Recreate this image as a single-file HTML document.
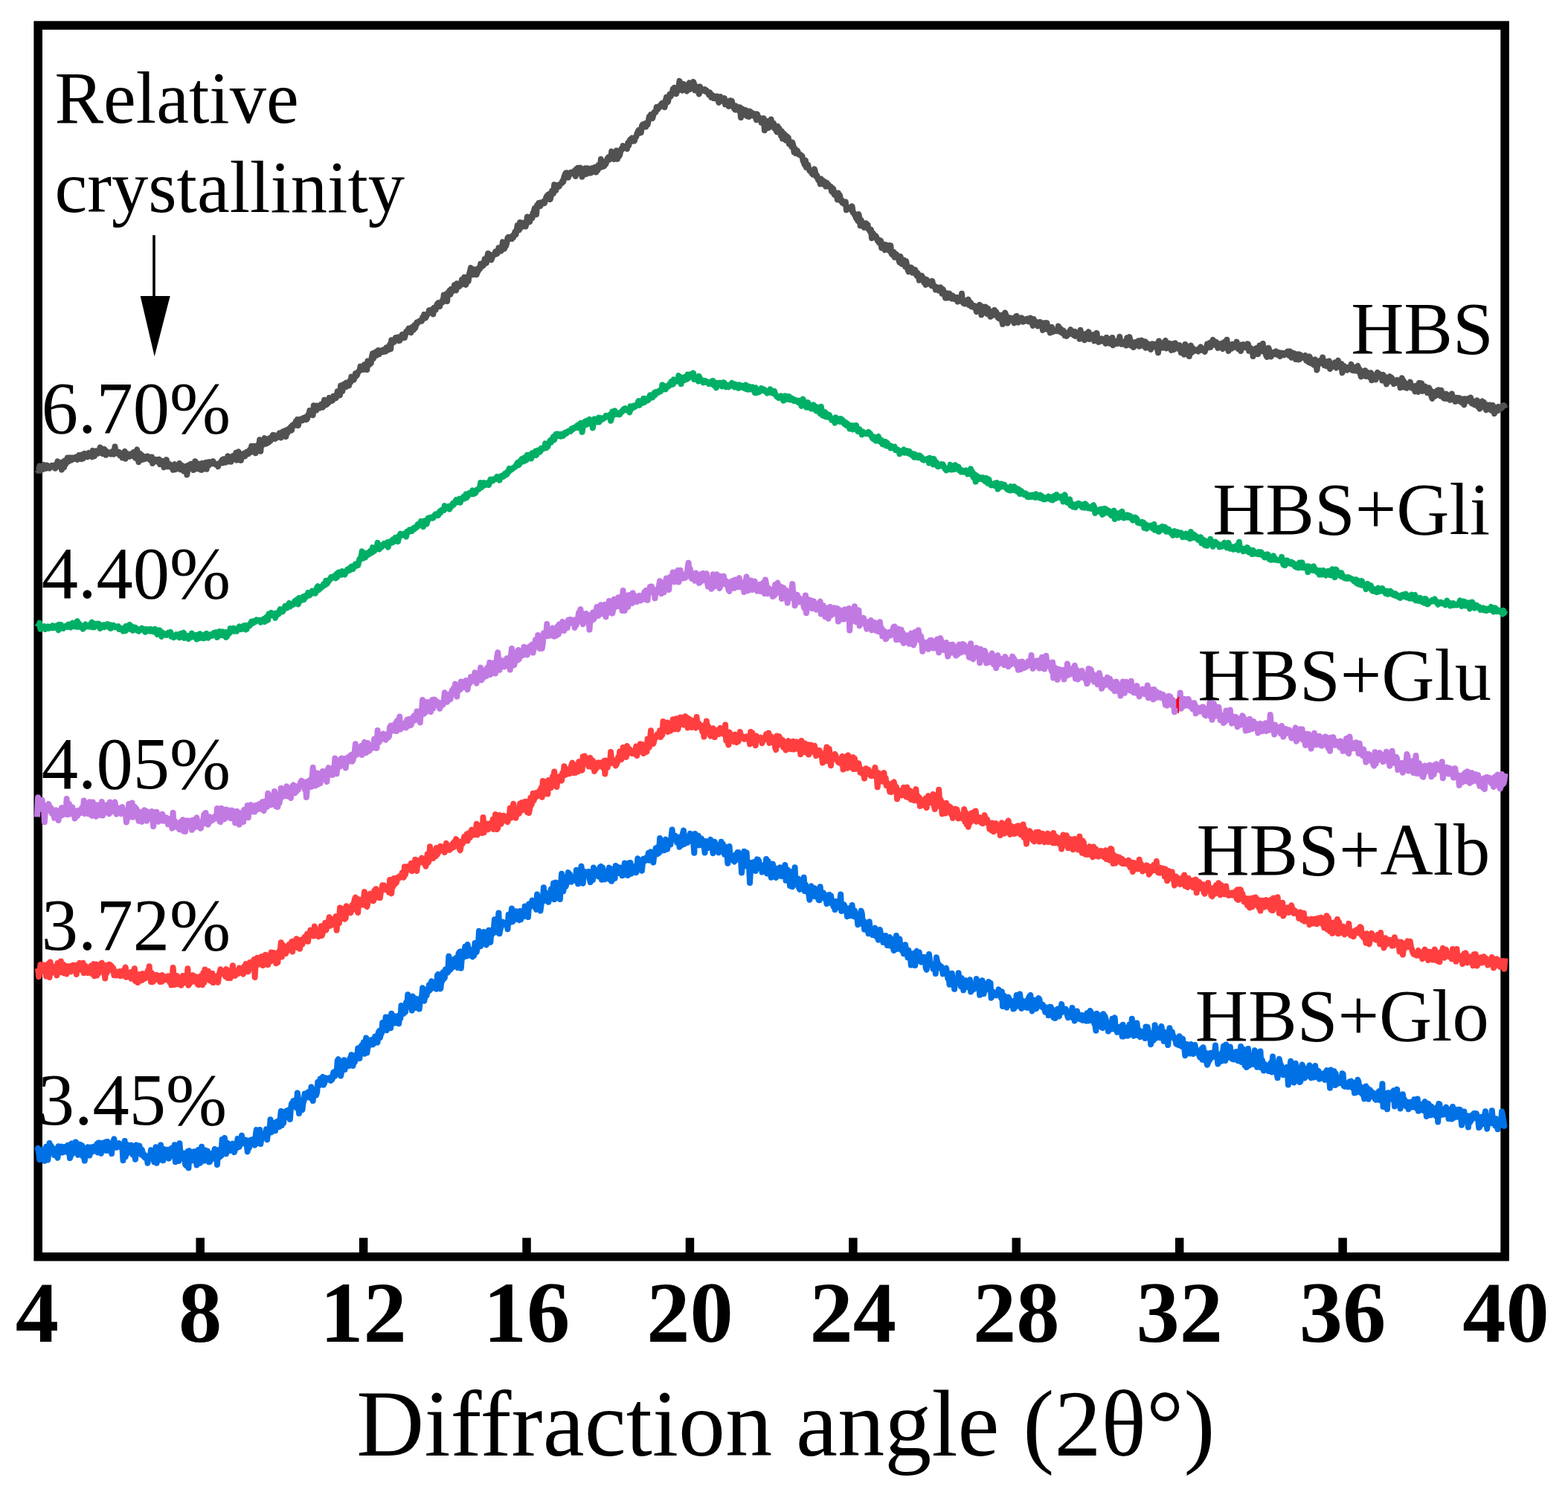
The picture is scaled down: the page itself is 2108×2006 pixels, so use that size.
<!DOCTYPE html>
<html><head><meta charset="utf-8"><title>XRD</title>
<style>
html,body{margin:0;padding:0;background:#fff;}
svg{display:block;}
text{font-family:"Liberation Serif","Times New Roman",serif;fill:#000;}
.lab{font-size:98.5px;}
.tk{font-size:116.5px;font-weight:bold;}
.ax{font-size:126px;letter-spacing:0.15px;}
</style></head><body>
<svg width="2108" height="2006" viewBox="0 0 2108 2006" xmlns="http://www.w3.org/2000/svg">
<rect width="2108" height="2006" fill="#fff"/>
<g class="lab">
<text x="73.4" y="164.5">Relative</text>
<text x="73.5" y="285">crystallinity</text>
<text x="55.7" y="582.4">6.70%</text>
<text x="55.7" y="803.8">4.40%</text>
<text x="55.7" y="1059.6">4.05%</text>
<text x="55.7" y="1277.4">3.72%</text>
<text x="50.7" y="1512.4">3.45%</text>
</g>
<rect x="205.2" y="316.2" width="3.6" height="84" fill="#000"/>
<polygon points="188.7,398 228.7,398 207.7,479.2" fill="#000"/>
<rect x="51.2" y="34.1" width="1971.9" height="1655.6" fill="none" stroke="#000" stroke-width="11.6"/>
<rect x="263.46" y="1664.3" width="11.5" height="25" fill="#000"/>
<rect x="482.87" y="1664.3" width="11.5" height="25" fill="#000"/>
<rect x="702.28" y="1664.3" width="11.5" height="25" fill="#000"/>
<rect x="921.69" y="1664.3" width="11.5" height="25" fill="#000"/>
<rect x="1141.11" y="1664.3" width="11.5" height="25" fill="#000"/>
<rect x="1360.52" y="1664.3" width="11.5" height="25" fill="#000"/>
<rect x="1579.93" y="1664.3" width="11.5" height="25" fill="#000"/>
<rect x="1799.34" y="1664.3" width="11.5" height="25" fill="#000"/>
<g fill="none" stroke-width="8" stroke-linejoin="round">
<path d="M50.0 631.3 51.1 632.7 52.2 631.1 53.3 626.6 54.4 632.8 55.5 631.5 56.6 628.1 57.7 631.1 58.8 625.0 59.9 629.3 61.0 628.6 62.1 629.7 63.2 625.5 64.3 627.9 65.4 627.3 66.5 629.7 67.6 628.1 68.7 627.2 69.8 625.9 70.9 626.3 72.0 627.3 73.1 625.6 74.2 629.7 75.3 628.5 76.4 624.6 77.5 620.3 78.6 624.5 79.7 623.6 80.8 626.0 81.9 625.3 83.0 631.5 84.1 621.3 85.2 622.3 86.3 628.3 87.4 619.2 88.5 623.9 89.6 619.8 90.7 615.5 91.8 620.6 92.9 619.9 94.0 615.3 95.1 616.9 96.2 618.4 97.3 615.5 98.4 617.1 99.5 617.3 100.6 616.7 101.7 614.8 102.8 617.1 103.9 618.0 105.0 616.1 106.1 612.0 107.2 616.4 108.3 612.7 109.4 617.1 110.5 611.4 111.6 616.7 112.7 614.1 113.8 609.8 114.9 612.5 116.0 613.9 117.1 614.3 118.2 610.0 119.3 609.0 120.4 613.1 121.5 611.2 122.6 612.9 123.7 614.2 124.8 605.9 125.9 611.2 127.0 613.3 128.1 608.8 129.2 606.5 130.3 609.9 131.4 608.1 132.5 609.3 133.6 605.2 134.7 601.5 135.8 606.0 136.9 605.9 138.0 609.8 139.1 608.8 140.2 603.8 141.3 605.1 142.4 611.8 143.5 611.0 144.6 607.6 145.7 608.9 146.8 609.6 147.9 609.7 149.0 610.5 150.1 608.0 151.2 606.9 152.3 606.4 153.4 610.7 154.5 600.6 155.6 607.6 156.7 609.1 157.8 609.4 158.9 610.0 160.0 607.9 161.1 612.3 162.2 609.8 163.3 612.9 164.4 615.4 165.5 613.2 166.6 608.5 167.7 606.9 168.8 616.7 169.9 611.2 171.0 610.0 172.1 612.5 173.2 611.0 174.3 613.8 175.4 611.2 176.5 610.7 177.6 609.5 178.7 612.9 179.8 608.0 180.9 613.4 182.0 615.8 183.1 607.1 184.2 604.5 185.3 614.0 186.4 621.2 187.5 610.6 188.6 610.1 189.7 616.2 190.8 612.0 191.9 617.9 193.0 614.1 194.1 617.2 195.2 614.0 196.3 616.5 197.4 615.4 198.5 613.4 199.6 615.6 200.7 614.4 201.8 618.3 202.9 614.7 204.0 614.6 205.1 623.0 206.2 618.2 207.3 618.0 208.4 620.4 209.5 617.9 210.6 618.2 211.7 620.1 212.8 621.3 213.9 617.7 215.0 624.2 216.1 620.5 217.2 619.5 218.3 620.0 219.4 621.8 220.5 628.3 221.6 620.6 222.7 624.6 223.8 618.1 224.9 624.8 226.0 627.3 227.1 624.2 228.2 624.1 229.3 626.8 230.4 628.3 231.5 628.3 232.6 631.8 233.7 626.7 234.8 624.2 235.9 631.2 237.0 627.0 238.1 627.2 239.2 626.9 240.3 628.4 241.4 623.0 242.5 631.3 243.6 627.4 244.7 626.0 245.8 630.4 246.9 633.3 248.0 631.3 249.1 630.7 250.2 627.0 251.3 638.3 252.4 631.5 253.5 625.6 254.6 626.6 255.7 629.5 256.8 623.8 257.9 628.6 259.0 626.4 260.1 631.9 261.2 631.3 262.3 620.3 263.4 627.7 264.5 622.4 265.6 630.2 266.7 627.4 267.8 628.4 268.9 623.7 270.0 631.7 271.1 631.8 272.2 622.8 273.3 626.9 274.4 623.7 275.5 626.0 276.6 622.2 277.7 630.8 278.8 621.5 279.9 622.7 281.0 625.5 282.1 621.2 283.2 622.5 284.3 622.0 285.4 623.1 286.5 620.2 287.6 622.5 288.7 623.6 289.8 624.6 290.9 624.9 292.0 624.3 293.1 627.2 294.2 623.2 295.3 623.3 296.4 621.5 297.5 621.5 298.6 618.3 299.7 622.4 300.8 617.2 301.9 618.4 303.0 621.7 304.1 621.3 305.2 618.6 306.3 613.2 307.4 620.5 308.5 620.0 309.6 614.8 310.7 620.7 311.8 614.7 312.9 613.2 314.0 616.2 315.1 614.7 316.2 614.9 317.3 608.8 318.4 618.7 319.5 610.3 320.6 607.3 321.7 614.0 322.8 610.2 323.9 619.1 325.0 610.6 326.1 611.6 327.2 612.8 328.3 609.6 329.4 613.4 330.5 609.4 331.6 607.7 332.7 610.1 333.8 610.2 334.9 607.0 336.0 604.4 337.1 608.1 338.2 599.9 339.3 602.2 340.4 604.7 341.5 599.8 342.6 603.6 343.7 609.2 344.8 605.2 345.9 598.9 347.0 598.1 348.1 600.5 349.2 591.2 350.3 606.8 351.4 594.9 352.5 594.0 353.6 598.0 354.7 594.8 355.8 589.1 356.9 596.7 358.0 596.6 359.1 592.3 360.2 593.0 361.3 594.6 362.4 589.4 363.5 592.7 364.6 591.3 365.7 587.4 366.8 584.9 367.9 587.8 369.0 585.2 370.1 589.9 371.2 586.9 372.3 588.3 373.4 585.5 374.5 585.9 375.6 582.4 376.7 585.5 377.8 588.4 378.9 581.7 380.0 580.4 381.1 581.2 382.2 580.0 383.3 579.1 384.4 587.1 385.5 578.3 386.6 582.2 387.7 577.0 388.8 576.5 389.9 578.4 391.0 574.1 392.1 578.7 393.2 571.6 394.3 571.0 395.4 571.3 396.5 571.6 397.6 566.9 398.7 570.4 399.8 564.0 400.9 572.1 402.0 567.2 403.1 565.4 404.2 563.6 405.3 565.2 406.4 565.3 407.5 562.2 408.6 561.7 409.7 562.9 410.8 560.9 411.9 564.2 413.0 563.1 414.1 558.1 415.2 558.7 416.3 552.1 417.4 557.6 418.5 555.1 419.6 555.9 420.7 558.1 421.8 545.3 422.9 552.4 424.0 547.8 425.1 551.7 426.2 545.5 427.3 547.1 428.4 547.9 429.5 548.5 430.6 546.6 431.7 543.5 432.8 543.9 433.9 547.6 435.0 543.9 436.1 537.7 437.2 544.7 438.3 542.9 439.4 543.8 440.5 539.6 441.6 541.6 442.7 534.9 443.8 538.8 444.9 535.8 446.0 539.0 447.1 538.6 448.2 532.9 449.3 533.4 450.4 532.3 451.5 535.3 452.6 532.8 453.7 526.2 454.8 529.3 455.9 528.2 457.0 531.4 458.1 518.5 459.2 520.9 460.3 526.2 461.4 517.3 462.5 516.5 463.6 519.9 464.7 520.1 465.8 514.6 466.9 517.5 468.0 515.2 469.1 518.5 470.2 512.2 471.3 514.0 472.4 506.6 473.5 508.1 474.6 507.9 475.7 510.7 476.8 507.7 477.9 502.4 479.0 505.4 480.1 504.1 481.2 500.1 482.3 499.4 483.4 498.7 484.5 492.7 485.6 496.7 486.7 496.2 487.8 492.3 488.9 496.9 490.0 490.2 491.1 491.1 492.2 490.4 493.3 497.0 494.4 485.4 495.5 490.5 496.6 490.3 497.7 487.4 498.8 488.2 499.9 479.5 501.0 475.3 502.1 482.1 503.2 474.5 504.3 476.5 505.4 473.0 506.5 477.8 507.6 476.2 508.7 471.0 509.8 476.3 510.9 472.8 512.0 472.4 513.1 472.6 514.2 470.8 515.3 473.2 516.4 471.9 517.5 469.5 518.6 472.6 519.7 467.3 520.8 469.8 521.9 468.2 523.0 470.0 524.1 463.2 525.2 469.1 526.3 457.2 527.4 460.9 528.5 458.1 529.6 460.1 530.7 457.3 531.8 454.1 532.9 454.0 534.0 455.0 535.1 453.4 536.2 458.1 537.3 457.9 538.4 455.6 539.5 453.1 540.6 449.8 541.7 449.7 542.8 451.1 543.9 454.1 545.0 450.2 546.1 446.0 547.2 446.5 548.3 443.7 549.4 441.8 550.5 442.6 551.6 443.4 552.7 447.1 553.8 440.1 554.9 442.9 556.0 443.4 557.1 437.3 558.2 441.1 559.3 437.8 560.4 433.5 561.5 434.3 562.6 432.7 563.7 431.6 564.8 431.3 565.9 431.7 567.0 431.7 568.1 426.9 569.2 428.4 570.3 422.9 571.4 427.7 572.5 426.9 573.6 424.4 574.7 422.4 575.8 421.8 576.9 417.2 578.0 417.3 579.1 417.8 580.2 418.7 581.3 416.0 582.4 422.4 583.5 413.7 584.6 416.3 585.7 416.4 586.8 411.3 587.9 408.6 589.0 407.3 590.1 410.3 591.2 411.9 592.3 407.9 593.4 406.6 594.5 404.4 595.6 405.9 596.7 396.6 597.8 402.8 598.9 401.4 600.0 395.6 601.1 405.1 602.2 393.3 603.3 392.8 604.4 390.6 605.5 395.9 606.6 388.7 607.7 392.0 608.8 390.6 609.9 389.1 611.0 383.3 612.1 384.5 613.2 390.5 614.3 381.2 615.4 382.1 616.5 383.0 617.6 385.0 618.7 382.1 619.8 382.4 620.9 376.1 622.0 382.2 623.1 379.9 624.2 372.7 625.3 380.8 626.4 382.8 627.5 372.7 628.6 374.4 629.7 378.1 630.8 368.7 631.9 365.0 633.0 360.1 634.1 367.6 635.2 367.2 636.3 369.3 637.4 367.7 638.5 362.2 639.6 366.2 640.7 369.2 641.8 366.1 642.9 364.2 644.0 360.1 645.1 361.7 646.2 354.7 647.3 358.6 648.4 354.8 649.5 357.4 650.6 353.4 651.7 348.3 652.8 351.2 653.9 353.6 655.0 345.4 656.1 340.7 657.2 345.1 658.3 342.1 659.4 348.8 660.5 349.3 661.6 346.6 662.7 343.6 663.8 342.4 664.9 341.9 666.0 338.3 667.1 341.6 668.2 341.0 669.3 339.0 670.4 333.3 671.5 334.6 672.6 332.9 673.7 337.5 674.8 332.5 675.9 325.4 677.0 331.5 678.1 334.5 679.2 330.3 680.3 330.4 681.4 326.1 682.5 319.8 683.6 318.7 684.7 319.1 685.8 320.8 686.9 320.9 688.0 321.1 689.1 317.0 690.2 319.1 691.3 315.1 692.4 311.6 693.5 315.5 694.6 309.2 695.7 303.1 696.8 306.5 697.9 309.3 699.0 299.0 700.1 306.5 701.2 305.0 702.3 301.1 703.4 299.7 704.5 301.2 705.6 299.8 706.7 304.5 707.8 299.8 708.9 291.5 710.0 292.3 711.1 295.5 712.2 298.3 713.3 292.2 714.4 290.8 715.5 293.4 716.6 286.2 717.7 284.3 718.8 280.1 719.9 281.4 721.0 288.4 722.1 275.9 723.2 278.4 724.3 273.0 725.4 276.3 726.5 276.8 727.6 272.4 728.7 274.2 729.8 273.3 730.9 271.0 732.0 273.2 733.1 269.6 734.2 265.5 735.3 263.5 736.4 262.1 737.5 264.5 738.6 260.9 739.7 268.1 740.8 263.8 741.9 256.9 743.0 255.7 744.1 260.0 745.2 248.3 746.3 252.1 747.4 255.8 748.5 249.1 749.6 249.3 750.7 249.0 751.8 250.5 752.9 247.4 754.0 247.4 755.1 246.4 756.2 243.2 757.3 244.5 758.4 238.0 759.5 234.8 760.6 232.6 761.7 232.3 762.8 234.8 763.9 238.7 765.0 236.2 766.1 233.0 767.2 232.0 768.3 232.8 769.4 233.3 770.5 233.1 771.6 230.2 772.7 233.0 773.8 237.0 774.9 227.3 776.0 232.3 777.1 225.8 778.2 232.6 779.3 229.6 780.4 225.5 781.5 232.4 782.6 237.6 783.7 232.5 784.8 234.8 785.9 232.2 787.0 226.2 788.1 234.1 789.2 230.6 790.3 226.4 791.4 232.8 792.5 231.1 793.6 228.7 794.7 232.5 795.8 226.3 796.9 230.6 798.0 225.8 799.1 230.4 800.2 224.7 801.3 231.5 802.4 226.8 803.5 229.2 804.6 222.0 805.7 222.0 806.8 225.5 807.9 214.1 809.0 217.8 810.1 224.3 811.2 222.1 812.3 223.2 813.4 218.7 814.5 220.5 815.6 216.2 816.7 213.1 817.8 211.5 818.9 214.8 820.0 213.9 821.1 213.3 822.2 203.6 823.3 207.8 824.4 212.1 825.5 214.0 826.6 210.5 827.7 208.3 828.8 202.5 829.9 213.8 831.0 203.4 832.1 210.5 833.2 208.4 834.3 203.5 835.4 199.9 836.5 200.8 837.6 196.1 838.7 199.4 839.8 197.9 840.9 198.5 842.0 198.9 843.1 200.1 844.2 192.4 845.3 195.6 846.4 189.1 847.5 187.3 848.6 187.9 849.7 185.6 850.8 189.6 851.9 188.2 853.0 189.2 854.1 184.4 855.2 184.3 856.3 180.1 857.4 177.3 858.5 175.2 859.6 179.0 860.7 174.5 861.8 178.3 862.9 169.3 864.0 167.4 865.1 169.7 866.2 169.1 867.3 166.1 868.4 170.4 869.5 167.3 870.6 167.7 871.7 162.9 872.8 157.0 873.9 157.9 875.0 154.1 876.1 158.1 877.2 159.0 878.3 155.1 879.4 151.2 880.5 150.1 881.6 150.6 882.7 144.1 883.8 147.2 884.9 146.3 886.0 142.8 887.1 142.3 888.2 143.0 889.3 139.3 890.4 138.6 891.5 142.7 892.6 140.4 893.7 144.1 894.8 135.3 895.9 130.9 897.0 137.7 898.1 136.6 899.2 130.6 900.3 126.9 901.4 129.8 902.5 127.7 903.6 126.1 904.7 119.8 905.8 124.7 906.9 117.9 908.0 122.3 909.1 126.2 910.2 119.9 911.3 122.2 912.4 117.1 913.5 108.9 914.6 112.8 915.7 120.2 916.8 116.8 917.9 121.7 919.0 113.0 920.1 115.9 921.2 116.5 922.3 121.0 923.4 122.5 924.5 114.8 925.6 113.3 926.7 111.4 927.8 120.0 928.9 116.1 930.0 114.5 931.1 117.2 932.2 110.1 933.3 112.9 934.4 121.5 935.5 120.7 936.6 120.0 937.7 116.7 938.8 122.2 939.9 126.4 941.0 116.4 942.1 120.2 943.2 119.7 944.3 121.9 945.4 121.5 946.5 121.2 947.6 120.2 948.7 122.9 949.8 121.7 950.9 124.3 952.0 124.9 953.1 127.5 954.2 124.3 955.3 125.8 956.4 131.0 957.5 128.1 958.6 128.5 959.7 132.2 960.8 131.1 961.9 131.2 963.0 132.5 964.1 129.4 965.2 134.4 966.3 137.9 967.4 136.1 968.5 130.0 969.6 135.9 970.7 132.8 971.8 135.1 972.9 135.8 974.0 132.0 975.1 140.4 976.2 136.6 977.3 139.3 978.4 139.4 979.5 142.9 980.6 142.6 981.7 135.2 982.8 141.6 983.9 135.7 985.0 141.1 986.1 144.4 987.2 146.1 988.3 147.5 989.4 142.5 990.5 145.0 991.6 144.3 992.7 148.1 993.8 149.3 994.9 144.3 996.0 158.0 997.1 146.7 998.2 146.5 999.3 149.7 1000.4 151.3 1001.5 151.8 1002.6 148.1 1003.7 155.6 1004.8 151.8 1005.9 156.7 1007.0 156.9 1008.1 149.6 1009.2 150.8 1010.3 151.2 1011.4 155.1 1012.5 155.3 1013.6 155.9 1014.7 153.2 1015.8 157.5 1016.9 161.2 1018.0 153.4 1019.1 157.3 1020.2 158.4 1021.3 158.5 1022.4 158.9 1023.5 164.9 1024.6 164.5 1025.7 163.3 1026.8 159.1 1027.9 175.3 1029.0 164.1 1030.1 162.7 1031.2 163.1 1032.3 163.0 1033.4 171.9 1034.5 166.2 1035.6 166.7 1036.7 160.5 1037.8 169.6 1038.9 165.4 1040.0 165.6 1041.1 172.4 1042.2 169.1 1043.3 175.2 1044.4 177.2 1045.5 169.7 1046.6 175.7 1047.7 172.7 1048.8 178.6 1049.9 182.4 1051.0 176.4 1052.1 186.6 1053.2 182.1 1054.3 180.0 1055.4 184.1 1056.5 188.6 1057.6 182.9 1058.7 187.6 1059.8 184.9 1060.9 193.5 1062.0 191.9 1063.1 191.0 1064.2 197.1 1065.3 191.5 1066.4 195.5 1067.5 204.4 1068.6 199.6 1069.7 206.0 1070.8 204.2 1071.9 202.5 1073.0 205.1 1074.1 208.0 1075.2 208.3 1076.3 208.1 1077.4 209.9 1078.5 210.0 1079.6 216.1 1080.7 218.5 1081.8 221.8 1082.9 215.6 1084.0 225.0 1085.1 223.8 1086.2 221.5 1087.3 226.7 1088.4 229.4 1089.5 230.0 1090.6 231.6 1091.7 233.3 1092.8 234.5 1093.9 232.2 1095.0 227.4 1096.1 231.8 1097.2 236.9 1098.3 235.8 1099.4 240.5 1100.5 242.6 1101.6 241.2 1102.7 247.4 1103.8 240.5 1104.9 246.9 1106.0 244.2 1107.1 243.2 1108.2 248.0 1109.3 245.2 1110.4 250.7 1111.5 245.6 1112.6 250.2 1113.7 248.3 1114.8 251.2 1115.9 251.9 1117.0 251.1 1118.1 257.4 1119.2 253.0 1120.3 254.1 1121.4 261.4 1122.5 262.3 1123.6 262.4 1124.7 262.1 1125.8 268.4 1126.9 259.5 1128.0 263.1 1129.1 262.8 1130.2 270.0 1131.3 268.6 1132.4 272.7 1133.5 273.4 1134.6 271.1 1135.7 271.3 1136.8 271.4 1137.9 282.3 1139.0 280.4 1140.1 280.4 1141.2 279.0 1142.3 280.2 1143.4 281.2 1144.5 282.5 1145.6 277.4 1146.7 285.8 1147.8 285.8 1148.9 288.8 1150.0 289.9 1151.1 293.5 1152.2 292.9 1153.3 296.9 1154.4 287.9 1155.5 293.6 1156.6 303.6 1157.7 295.8 1158.8 299.4 1159.9 303.9 1161.0 300.3 1162.1 305.9 1163.2 300.3 1164.3 300.2 1165.4 302.6 1166.5 302.2 1167.6 308.4 1168.7 308.9 1169.8 311.4 1170.9 308.6 1172.0 320.2 1173.1 313.1 1174.2 314.4 1175.3 317.4 1176.4 317.1 1177.5 317.2 1178.6 319.8 1179.7 323.7 1180.8 323.8 1181.9 326.4 1183.0 323.1 1184.1 323.7 1185.2 333.2 1186.3 327.9 1187.4 331.0 1188.5 333.1 1189.6 336.1 1190.7 329.0 1191.8 332.6 1192.9 334.7 1194.0 335.9 1195.1 330.0 1196.2 337.3 1197.3 330.1 1198.4 340.9 1199.5 342.3 1200.6 343.1 1201.7 338.9 1202.8 345.9 1203.9 341.4 1205.0 341.9 1206.1 344.1 1207.2 344.9 1208.3 349.5 1209.4 352.9 1210.5 344.7 1211.6 349.6 1212.7 354.9 1213.8 354.0 1214.9 355.5 1216.0 349.9 1217.1 358.6 1218.2 351.1 1219.3 357.4 1220.4 362.4 1221.5 365.3 1222.6 361.7 1223.7 363.9 1224.8 359.6 1225.9 360.9 1227.0 366.8 1228.1 364.6 1229.2 365.4 1230.3 362.6 1231.4 367.8 1232.5 370.8 1233.6 367.0 1234.7 369.6 1235.8 376.8 1236.9 373.0 1238.0 372.8 1239.1 370.6 1240.2 372.6 1241.3 374.4 1242.4 379.9 1243.5 375.4 1244.6 382.9 1245.7 375.9 1246.8 377.6 1247.9 381.3 1249.0 379.0 1250.1 378.7 1251.2 381.8 1252.3 384.2 1253.4 377.9 1254.5 383.6 1255.6 384.2 1256.7 385.1 1257.8 389.5 1258.9 385.9 1260.0 386.7 1261.1 388.4 1262.2 390.7 1263.3 388.3 1264.4 386.5 1265.5 387.7 1266.6 394.8 1267.7 389.0 1268.8 392.2 1269.9 394.8 1271.0 400.6 1272.1 397.6 1273.2 394.4 1274.3 400.5 1275.4 396.4 1276.5 394.8 1277.6 398.9 1278.7 398.6 1279.8 401.6 1280.9 397.5 1282.0 400.7 1283.1 402.1 1284.2 401.7 1285.3 401.1 1286.4 400.0 1287.5 405.6 1288.6 403.5 1289.7 404.5 1290.8 402.4 1291.9 404.2 1293.0 394.8 1294.1 405.6 1295.2 407.5 1296.3 405.9 1297.4 408.5 1298.5 406.7 1299.6 403.9 1300.7 406.2 1301.8 402.6 1302.9 410.3 1304.0 408.3 1305.1 407.1 1306.2 412.1 1307.3 411.9 1308.4 412.9 1309.5 411.0 1310.6 413.5 1311.7 414.9 1312.8 419.1 1313.9 412.1 1315.0 414.2 1316.1 415.7 1317.2 409.9 1318.3 411.7 1319.4 423.3 1320.5 412.2 1321.6 418.8 1322.7 415.1 1323.8 416.1 1324.9 412.6 1326.0 416.4 1327.1 421.9 1328.2 414.7 1329.3 421.2 1330.4 420.5 1331.5 425.8 1332.6 418.6 1333.7 424.2 1334.8 424.1 1335.9 420.4 1337.0 416.9 1338.1 420.3 1339.2 419.3 1340.3 422.4 1341.4 426.9 1342.5 427.9 1343.6 423.3 1344.7 426.4 1345.8 426.8 1346.9 431.0 1348.0 435.8 1349.1 422.9 1350.2 431.5 1351.3 420.6 1352.4 423.8 1353.5 429.5 1354.6 434.5 1355.7 430.0 1356.8 427.2 1357.9 427.9 1359.0 427.6 1360.1 430.4 1361.2 429.6 1362.3 432.3 1363.4 434.2 1364.5 431.7 1365.6 425.3 1366.7 424.8 1367.8 427.1 1368.9 433.5 1370.0 428.8 1371.1 428.1 1372.2 431.0 1373.3 427.4 1374.4 428.0 1375.5 432.7 1376.6 429.7 1377.7 429.8 1378.8 431.4 1379.9 429.2 1381.0 428.6 1382.1 429.4 1383.2 432.4 1384.3 431.3 1385.4 427.6 1386.5 430.6 1387.6 434.0 1388.7 437.8 1389.8 429.0 1390.9 434.0 1392.0 432.1 1393.1 435.3 1394.2 434.5 1395.3 438.3 1396.4 436.9 1397.5 433.1 1398.6 433.0 1399.7 436.2 1400.8 436.4 1401.9 443.9 1403.0 442.4 1404.1 434.4 1405.2 439.2 1406.3 434.1 1407.4 434.3 1408.5 443.1 1409.6 443.1 1410.7 439.4 1411.8 447.4 1412.9 440.4 1414.0 439.9 1415.1 446.4 1416.2 445.0 1417.3 444.2 1418.4 444.3 1419.5 445.1 1420.6 443.8 1421.7 444.4 1422.8 438.6 1423.9 440.1 1425.0 446.1 1426.1 442.2 1427.2 445.7 1428.3 447.9 1429.4 444.3 1430.5 446.4 1431.6 451.2 1432.7 447.6 1433.8 451.8 1434.9 451.0 1436.0 448.6 1437.1 446.5 1438.2 445.3 1439.3 443.3 1440.4 448.7 1441.5 449.3 1442.6 447.7 1443.7 450.8 1444.8 445.7 1445.9 451.9 1447.0 448.6 1448.1 447.8 1449.2 449.1 1450.3 448.0 1451.4 455.7 1452.5 443.8 1453.6 449.7 1454.7 454.1 1455.8 453.0 1456.9 450.4 1458.0 457.2 1459.1 448.9 1460.2 448.7 1461.3 454.4 1462.4 449.1 1463.5 446.2 1464.6 456.1 1465.7 454.9 1466.8 454.8 1467.9 450.7 1469.0 452.5 1470.1 450.0 1471.2 458.4 1472.3 454.9 1473.4 455.6 1474.5 447.9 1475.6 457.1 1476.7 459.9 1477.8 459.6 1478.9 458.6 1480.0 455.7 1481.1 455.4 1482.2 458.7 1483.3 457.8 1484.4 457.1 1485.5 455.8 1486.6 461.9 1487.7 453.8 1488.8 457.0 1489.9 455.9 1491.0 460.7 1492.1 461.8 1493.2 461.5 1494.3 460.9 1495.4 454.0 1496.5 464.3 1497.6 459.4 1498.7 458.5 1499.8 459.5 1500.9 459.4 1502.0 462.0 1503.1 461.3 1504.2 459.1 1505.3 452.7 1506.4 460.5 1507.5 462.7 1508.6 462.5 1509.7 460.5 1510.8 460.8 1511.9 462.9 1513.0 458.8 1514.1 464.5 1515.2 454.2 1516.3 456.7 1517.4 457.2 1518.5 453.2 1519.6 457.2 1520.7 464.7 1521.8 464.5 1522.9 461.8 1524.0 466.9 1525.1 462.8 1526.2 460.2 1527.3 462.6 1528.4 460.9 1529.5 464.4 1530.6 458.3 1531.7 465.6 1532.8 460.8 1533.9 464.4 1535.0 457.6 1536.1 461.4 1537.2 463.2 1538.3 465.7 1539.4 459.2 1540.5 467.7 1541.6 464.5 1542.7 461.8 1543.8 467.2 1544.9 463.5 1546.0 466.3 1547.1 469.9 1548.2 466.3 1549.3 462.3 1550.4 462.9 1551.5 466.2 1552.6 465.1 1553.7 462.7 1554.8 463.7 1555.9 468.7 1557.0 474.2 1558.1 458.6 1559.2 467.9 1560.3 464.9 1561.4 467.7 1562.5 467.8 1563.6 464.6 1564.7 461.2 1565.8 459.6 1566.9 458.0 1568.0 468.4 1569.1 464.7 1570.2 463.7 1571.3 464.6 1572.4 461.7 1573.5 467.2 1574.6 470.8 1575.7 470.0 1576.8 462.3 1577.9 470.3 1579.0 464.7 1580.1 461.4 1581.2 464.2 1582.3 465.7 1583.4 468.5 1584.5 465.6 1585.6 464.2 1586.7 467.3 1587.8 474.1 1588.9 466.5 1590.0 469.9 1591.1 468.3 1592.2 476.6 1593.3 463.1 1594.4 472.0 1595.5 465.1 1596.6 467.7 1597.7 469.6 1598.8 479.0 1599.9 467.7 1601.0 464.6 1602.1 474.0 1603.2 467.8 1604.3 469.5 1605.4 470.7 1606.5 471.6 1607.6 470.5 1608.7 471.3 1609.8 471.4 1610.9 472.4 1612.0 468.9 1613.1 467.8 1614.2 466.4 1615.3 470.8 1616.4 468.6 1617.5 469.7 1618.6 469.8 1619.7 473.0 1620.8 468.4 1621.9 468.8 1623.0 462.6 1624.1 462.7 1625.2 464.7 1626.3 461.1 1627.4 466.9 1628.5 460.8 1629.6 459.0 1630.7 457.0 1631.8 460.9 1632.9 463.2 1634.0 464.0 1635.1 459.8 1636.2 465.2 1637.3 467.9 1638.4 467.2 1639.5 463.1 1640.6 463.6 1641.7 461.9 1642.8 467.3 1643.9 469.0 1645.0 463.0 1646.1 459.8 1647.2 465.2 1648.3 466.5 1649.4 456.7 1650.5 465.5 1651.6 471.9 1652.7 468.1 1653.8 467.8 1654.9 466.9 1656.0 468.5 1657.1 462.8 1658.2 463.3 1659.3 466.8 1660.4 463.4 1661.5 466.6 1662.6 459.6 1663.7 467.6 1664.8 469.1 1665.9 467.6 1667.0 468.0 1668.1 471.9 1669.2 463.6 1670.3 464.1 1671.4 463.2 1672.5 465.7 1673.6 464.2 1674.7 467.2 1675.8 464.7 1676.9 462.4 1678.0 462.7 1679.1 471.7 1680.2 468.1 1681.3 468.1 1682.4 469.0 1683.5 470.2 1684.6 479.1 1685.7 472.4 1686.8 469.2 1687.9 468.8 1689.0 468.1 1690.1 468.1 1691.2 476.1 1692.3 469.2 1693.4 464.6 1694.5 468.6 1695.6 469.5 1696.7 472.1 1697.8 461.9 1698.9 472.7 1700.0 472.0 1701.1 470.3 1702.2 477.8 1703.3 479.9 1704.4 475.8 1705.5 467.9 1706.6 471.3 1707.7 473.7 1708.8 479.5 1709.9 475.6 1711.0 476.9 1712.1 473.8 1713.2 476.1 1714.3 475.5 1715.4 472.3 1716.5 476.5 1717.6 477.0 1718.7 473.8 1719.8 477.3 1720.9 479.1 1722.0 474.5 1723.1 475.0 1724.2 475.5 1725.3 474.9 1726.4 477.4 1727.5 476.3 1728.6 476.1 1729.7 474.6 1730.8 472.7 1731.9 473.9 1733.0 477.8 1734.1 472.3 1735.2 473.6 1736.3 480.7 1737.4 479.3 1738.5 474.6 1739.6 479.4 1740.7 475.3 1741.8 483.0 1742.9 476.4 1744.0 479.2 1745.1 483.4 1746.2 476.3 1747.3 483.1 1748.4 477.1 1749.5 479.9 1750.6 479.1 1751.7 479.6 1752.8 480.9 1753.9 480.2 1755.0 478.0 1756.1 484.5 1757.2 484.1 1758.3 486.1 1759.4 486.9 1760.5 479.4 1761.6 482.2 1762.7 488.3 1763.8 483.7 1764.9 489.2 1766.0 490.5 1767.1 485.3 1768.2 483.4 1769.3 487.2 1770.4 497.5 1771.5 490.5 1772.6 486.1 1773.7 488.1 1774.8 484.8 1775.9 487.0 1777.0 488.3 1778.1 480.5 1779.2 489.3 1780.3 491.1 1781.4 486.6 1782.5 486.6 1783.6 492.3 1784.7 485.9 1785.8 485.9 1786.9 485.4 1788.0 495.9 1789.1 490.3 1790.2 489.6 1791.3 492.2 1792.4 492.6 1793.5 490.7 1794.6 487.3 1795.7 489.3 1796.8 494.6 1797.9 488.0 1799.0 484.7 1800.1 490.9 1801.2 491.0 1802.3 489.1 1803.4 489.2 1804.5 501.2 1805.6 497.0 1806.7 491.8 1807.8 494.3 1808.9 496.9 1810.0 494.8 1811.1 497.7 1812.2 494.0 1813.3 495.2 1814.4 496.1 1815.5 495.1 1816.6 489.9 1817.7 497.7 1818.8 498.1 1819.9 498.2 1821.0 493.8 1822.1 498.4 1823.2 498.2 1824.3 493.2 1825.4 492.1 1826.5 499.8 1827.6 496.0 1828.7 502.3 1829.8 506.4 1830.9 499.4 1832.0 499.4 1833.1 501.9 1834.2 503.7 1835.3 498.2 1836.4 506.0 1837.5 500.3 1838.6 505.0 1839.7 501.8 1840.8 507.0 1841.9 507.7 1843.0 501.2 1844.1 511.3 1845.2 504.8 1846.3 507.2 1847.4 504.9 1848.5 507.0 1849.6 510.4 1850.7 504.3 1851.8 500.8 1852.9 504.1 1854.0 502.5 1855.1 504.4 1856.2 506.4 1857.3 506.7 1858.4 511.5 1859.5 503.9 1860.6 507.4 1861.7 506.4 1862.8 513.3 1863.9 516.5 1865.0 509.7 1866.1 513.9 1867.2 508.8 1868.3 506.1 1869.4 507.1 1870.5 507.6 1871.6 509.1 1872.7 511.6 1873.8 516.1 1874.9 515.4 1876.0 515.3 1877.1 512.1 1878.2 510.9 1879.3 513.6 1880.4 513.9 1881.5 513.9 1882.6 521.3 1883.7 513.2 1884.8 508.4 1885.9 511.1 1887.0 512.3 1888.1 520.6 1889.2 515.0 1890.3 519.0 1891.4 521.8 1892.5 518.3 1893.6 516.3 1894.7 515.9 1895.8 513.7 1896.9 518.4 1898.0 521.7 1899.1 520.7 1900.2 521.3 1901.3 521.9 1902.4 526.4 1903.5 518.9 1904.6 522.5 1905.7 525.0 1906.8 526.8 1907.9 515.1 1909.0 520.8 1910.1 522.1 1911.2 515.4 1912.3 525.9 1913.4 524.8 1914.5 523.2 1915.6 519.3 1916.7 521.6 1917.8 523.4 1918.9 528.0 1920.0 523.7 1921.1 521.4 1922.2 523.7 1923.3 526.1 1924.4 533.0 1925.5 535.9 1926.6 526.7 1927.7 531.0 1928.8 532.8 1929.9 532.3 1931.0 528.1 1932.1 525.2 1933.2 528.1 1934.3 524.3 1935.4 531.2 1936.5 532.3 1937.6 524.8 1938.7 530.4 1939.8 531.4 1940.9 535.3 1942.0 535.8 1943.1 534.2 1944.2 529.6 1945.3 530.7 1946.4 536.1 1947.5 531.5 1948.6 533.1 1949.7 537.7 1950.8 533.9 1951.9 529.5 1953.0 533.9 1954.1 537.1 1955.2 535.2 1956.3 539.7 1957.4 539.5 1958.5 534.7 1959.6 536.7 1960.7 538.0 1961.8 535.0 1962.9 539.7 1964.0 538.6 1965.1 541.1 1966.2 536.5 1967.3 536.5 1968.4 544.3 1969.5 536.3 1970.6 537.1 1971.7 536.7 1972.8 537.4 1973.9 536.1 1975.0 539.2 1976.1 538.4 1977.2 534.7 1978.3 542.0 1979.4 542.8 1980.5 542.4 1981.6 539.6 1982.7 544.2 1983.8 542.5 1984.9 543.6 1986.0 538.3 1987.1 546.6 1988.2 543.7 1989.3 549.6 1990.4 546.7 1991.5 541.0 1992.6 539.6 1993.7 547.1 1994.8 540.8 1995.9 546.2 1997.0 543.3 1998.1 551.2 1999.2 545.0 2000.3 549.6 2001.4 549.3 2002.5 544.5 2003.6 545.8 2004.7 551.6 2005.8 547.3 2006.9 544.9 2008.0 551.2 2009.1 556.0 2010.2 548.3 2011.3 552.5 2012.4 548.1 2013.5 552.2 2014.6 546.8 2015.7 551.2 2016.8 548.8 2017.9 547.2 2019.0 548.4 2020.1 546.3 2021.2 545.1 2022.3 545.4 2023.4 549.0" stroke="#515151"/>
<path d="M50.0 843.1 51.1 841.5 52.2 841.8 53.3 837.6 54.4 845.6 55.5 844.6 56.6 842.4 57.7 844.9 58.8 844.3 59.9 842.2 61.0 846.0 62.1 843.4 63.2 843.9 64.3 842.5 65.4 844.9 66.5 843.6 67.6 844.2 68.7 842.5 69.8 844.0 70.9 841.2 72.0 844.2 73.1 842.5 74.2 843.0 75.3 843.7 76.4 841.1 77.5 845.4 78.6 847.2 79.7 839.8 80.8 840.0 81.9 840.0 83.0 844.3 84.1 843.3 85.2 844.9 86.3 843.5 87.4 842.0 88.5 842.2 89.6 841.5 90.7 842.7 91.8 839.5 92.9 840.8 94.0 841.7 95.1 843.5 96.2 838.9 97.3 837.7 98.4 838.9 99.5 842.0 100.6 839.7 101.7 842.5 102.8 836.5 103.9 835.3 105.0 842.9 106.1 838.1 107.2 841.6 108.3 843.0 109.4 841.2 110.5 843.2 111.6 845.7 112.7 841.9 113.8 840.7 114.9 839.6 116.0 842.5 117.1 841.4 118.2 842.0 119.3 841.1 120.4 842.5 121.5 839.3 122.6 838.4 123.7 836.6 124.8 843.3 125.9 841.0 127.0 843.1 128.1 839.7 129.2 838.8 130.3 841.5 131.4 840.5 132.5 838.6 133.6 839.3 134.7 845.0 135.8 842.4 136.9 842.6 138.0 841.5 139.1 840.5 140.2 843.2 141.3 841.1 142.4 839.9 143.5 841.4 144.6 839.3 145.7 841.4 146.8 843.6 147.9 840.0 149.0 844.9 150.1 840.8 151.2 842.4 152.3 840.7 153.4 842.1 154.5 843.3 155.6 842.7 156.7 842.4 157.8 842.7 158.9 842.1 160.0 846.0 161.1 844.2 162.2 845.1 163.3 846.4 164.4 845.7 165.5 848.5 166.6 844.6 167.7 843.5 168.8 848.2 169.9 841.9 171.0 846.2 172.1 843.2 173.2 845.1 174.3 840.0 175.4 846.0 176.5 844.0 177.6 842.5 178.7 847.8 179.8 846.8 180.9 845.5 182.0 843.6 183.1 845.6 184.2 846.3 185.3 848.2 186.4 848.7 187.5 845.9 188.6 845.9 189.7 846.4 190.8 844.6 191.9 846.0 193.0 847.2 194.1 848.3 195.2 849.6 196.3 845.8 197.4 848.7 198.5 846.8 199.6 846.2 200.7 847.3 201.8 848.5 202.9 845.9 204.0 846.5 205.1 848.9 206.2 847.7 207.3 849.1 208.4 845.8 209.5 850.5 210.6 847.5 211.7 852.9 212.8 849.3 213.9 847.4 215.0 847.7 216.1 851.8 217.2 855.8 218.3 850.5 219.4 851.8 220.5 852.0 221.6 852.5 222.7 853.7 223.8 854.0 224.9 853.4 226.0 850.8 227.1 851.5 228.2 853.3 229.3 849.9 230.4 855.8 231.5 854.8 232.6 854.7 233.7 857.2 234.8 855.9 235.9 855.3 237.0 853.3 238.1 855.5 239.2 855.8 240.3 853.0 241.4 857.2 242.5 856.9 243.6 851.7 244.7 856.1 245.8 853.4 246.9 850.6 248.0 857.9 249.1 854.1 250.2 855.1 251.3 856.1 252.4 855.0 253.5 858.8 254.6 857.0 255.7 855.2 256.8 856.8 257.9 851.5 259.0 855.3 260.1 856.1 261.2 855.1 262.3 853.9 263.4 856.0 264.5 859.5 265.6 855.5 266.7 853.3 267.8 858.2 268.9 852.3 270.0 856.9 271.1 854.5 272.2 857.8 273.3 854.2 274.4 858.1 275.5 855.9 276.6 852.2 277.7 851.9 278.8 855.5 279.9 857.6 281.0 854.8 282.1 854.2 283.2 853.3 284.3 854.9 285.4 854.6 286.5 854.0 287.6 850.8 288.7 853.9 289.8 854.7 290.9 850.1 292.0 856.8 293.1 855.0 294.2 852.0 295.3 848.9 296.4 854.1 297.5 853.6 298.6 851.7 299.7 849.5 300.8 854.5 301.9 850.8 303.0 850.2 304.1 856.8 305.2 855.6 306.3 852.9 307.4 850.1 308.5 851.3 309.6 845.0 310.7 849.2 311.8 847.2 312.9 845.8 314.0 844.8 315.1 848.6 316.2 847.2 317.3 847.0 318.4 848.6 319.5 845.3 320.6 843.9 321.7 842.4 322.8 845.4 323.9 846.0 325.0 844.0 326.1 845.1 327.2 841.5 328.3 842.1 329.4 840.9 330.5 846.5 331.6 846.1 332.7 842.8 333.8 840.7 334.9 840.1 336.0 840.9 337.1 837.8 338.2 835.8 339.3 837.4 340.4 837.6 341.5 835.2 342.6 836.3 343.7 834.2 344.8 833.3 345.9 833.9 347.0 834.4 348.1 834.8 349.2 834.0 350.3 836.7 351.4 836.0 352.5 833.4 353.6 835.2 354.7 832.2 355.8 835.9 356.9 833.3 358.0 829.9 359.1 834.1 360.2 833.7 361.3 825.6 362.4 828.5 363.5 827.4 364.6 823.9 365.7 825.1 366.8 825.0 367.9 827.4 369.0 826.4 370.1 830.7 371.2 824.5 372.3 827.0 373.4 825.0 374.5 825.3 375.6 821.5 376.7 819.1 377.8 820.1 378.9 822.4 380.0 822.5 381.1 819.8 382.2 818.5 383.3 814.9 384.4 817.7 385.5 817.6 386.6 813.9 387.7 813.5 388.8 810.9 389.9 815.7 391.0 814.0 392.1 813.2 393.2 813.1 394.3 812.8 395.4 810.4 396.5 807.9 397.6 807.7 398.7 806.6 399.8 810.1 400.9 812.4 402.0 804.1 403.1 807.8 404.2 807.7 405.3 803.8 406.4 805.7 407.5 802.4 408.6 806.2 409.7 801.6 410.8 802.6 411.9 802.6 413.0 799.9 414.1 797.0 415.2 799.0 416.3 800.2 417.4 798.3 418.5 797.8 419.6 794.5 420.7 796.2 421.8 797.3 422.9 795.3 424.0 797.6 425.1 792.3 426.2 789.8 427.3 788.2 428.4 793.3 429.5 790.0 430.6 791.2 431.7 789.0 432.8 789.5 433.9 788.4 435.0 785.3 436.1 786.1 437.2 786.5 438.3 780.7 439.4 785.1 440.5 783.4 441.6 781.7 442.7 779.3 443.8 779.2 444.9 776.0 446.0 777.0 447.1 775.6 448.2 776.1 449.3 774.5 450.4 775.5 451.5 777.4 452.6 771.8 453.7 775.6 454.8 769.6 455.9 769.4 457.0 771.7 458.1 771.6 459.2 772.6 460.3 768.1 461.4 770.5 462.5 770.9 463.6 772.4 464.7 768.7 465.8 769.0 466.9 765.9 468.0 767.1 469.1 765.0 470.2 766.6 471.3 762.5 472.4 761.8 473.5 763.8 474.6 764.9 475.7 761.8 476.8 760.5 477.9 758.3 479.0 760.9 480.1 758.6 481.2 759.9 482.3 755.6 483.4 751.4 484.5 751.1 485.6 748.6 486.7 741.4 487.8 750.9 488.9 748.8 490.0 744.3 491.1 749.5 492.2 746.0 493.3 743.6 494.4 746.0 495.5 745.5 496.6 743.3 497.7 740.8 498.8 743.7 499.9 743.2 501.0 736.1 502.1 741.4 503.2 740.9 504.3 737.8 505.4 738.3 506.5 736.8 507.6 729.7 508.7 735.3 509.8 738.5 510.9 733.0 512.0 736.2 513.1 735.5 514.2 733.6 515.3 733.2 516.4 730.9 517.5 731.6 518.6 732.8 519.7 732.2 520.8 729.2 521.9 735.7 523.0 729.0 524.1 729.4 525.2 728.1 526.3 727.1 527.4 729.6 528.5 725.3 529.6 728.3 530.7 727.7 531.8 722.7 532.9 725.5 534.0 722.4 535.1 728.1 536.2 721.7 537.3 719.7 538.4 717.6 539.5 718.9 540.6 719.7 541.7 718.5 542.8 717.8 543.9 718.1 545.0 718.8 546.1 721.5 547.2 714.9 548.3 716.1 549.4 714.1 550.5 712.2 551.6 712.3 552.7 712.2 553.8 714.1 554.9 711.6 556.0 710.0 557.1 711.4 558.2 710.2 559.3 708.4 560.4 708.8 561.5 705.2 562.6 706.9 563.7 706.5 564.8 703.2 565.9 701.0 567.0 705.8 568.1 702.8 569.2 708.2 570.3 700.5 571.4 702.8 572.5 699.8 573.6 704.5 574.7 700.8 575.8 696.5 576.9 697.3 578.0 696.6 579.1 695.6 580.2 696.4 581.3 696.7 582.4 696.4 583.5 693.9 584.6 692.4 585.7 691.2 586.8 691.5 587.9 691.3 589.0 693.0 590.1 689.9 591.2 687.6 592.3 689.3 593.4 685.9 594.5 685.3 595.6 685.6 596.7 685.9 597.8 680.1 598.9 682.1 600.0 683.4 601.1 681.8 602.2 681.0 603.3 681.7 604.4 684.5 605.5 680.3 606.6 681.2 607.7 680.1 608.8 676.9 609.9 678.7 611.0 676.0 612.1 674.3 613.2 672.2 614.3 675.3 615.4 672.7 616.5 672.5 617.6 670.7 618.7 675.6 619.8 672.7 620.9 671.1 622.0 669.9 623.1 667.9 624.2 670.6 625.3 669.0 626.4 664.7 627.5 669.1 628.6 667.4 629.7 663.5 630.8 662.9 631.9 662.7 633.0 663.7 634.1 662.5 635.2 659.4 636.3 664.3 637.4 661.7 638.5 663.2 639.6 662.2 640.7 658.5 641.8 658.2 642.9 658.1 644.0 657.6 645.1 655.5 646.2 649.0 647.3 655.4 648.4 652.6 649.5 652.3 650.6 649.0 651.7 652.4 652.8 649.8 653.9 649.7 655.0 649.4 656.1 650.1 657.2 652.0 658.3 648.2 659.4 644.7 660.5 646.8 661.6 645.0 662.7 646.2 663.8 644.2 664.9 644.1 666.0 644.1 667.1 643.0 668.2 640.8 669.3 642.6 670.4 643.2 671.5 645.7 672.6 641.2 673.7 640.1 674.8 640.9 675.9 639.3 677.0 640.7 678.1 637.9 679.2 636.4 680.3 638.3 681.4 637.8 682.5 634.0 683.6 634.8 684.7 630.1 685.8 632.3 686.9 630.5 688.0 631.2 689.1 629.5 690.2 629.4 691.3 628.1 692.4 627.9 693.5 626.0 694.6 624.6 695.7 622.1 696.8 625.5 697.9 624.8 699.0 620.4 700.1 621.8 701.2 617.4 702.3 616.7 703.4 618.4 704.5 620.2 705.6 614.9 706.7 614.9 707.8 618.6 708.9 611.7 710.0 615.3 711.1 613.9 712.2 611.7 713.3 612.1 714.4 616.5 715.5 609.3 716.6 610.7 717.7 610.3 718.8 608.6 719.9 606.7 721.0 612.1 722.1 609.3 723.2 605.5 724.3 607.1 725.4 607.9 726.5 606.8 727.6 602.8 728.7 603.7 729.8 603.7 730.9 603.0 732.0 602.2 733.1 596.4 734.2 602.3 735.3 598.4 736.4 600.6 737.5 596.1 738.6 594.8 739.7 592.1 740.8 594.8 741.9 591.7 743.0 589.4 744.1 587.1 745.2 591.4 746.3 586.3 747.4 583.9 748.5 585.2 749.6 583.5 750.7 586.0 751.8 584.6 752.9 584.0 754.0 586.7 755.1 583.9 756.2 585.7 757.3 586.0 758.4 582.9 759.5 581.7 760.6 582.1 761.7 582.6 762.8 580.3 763.9 579.8 765.0 579.3 766.1 579.5 767.2 579.9 768.3 576.5 769.4 576.1 770.5 576.8 771.6 575.0 772.7 574.8 773.8 575.2 774.9 573.4 776.0 572.2 777.1 571.5 778.2 575.2 779.3 573.1 780.4 568.9 781.5 568.8 782.6 580.8 783.7 573.7 784.8 570.2 785.9 571.9 787.0 566.5 788.1 569.2 789.2 570.5 790.3 565.3 791.4 567.2 792.5 563.9 793.6 569.7 794.7 566.5 795.8 567.6 796.9 575.4 798.0 565.9 799.1 563.5 800.2 565.3 801.3 564.3 802.4 567.5 803.5 564.5 804.6 561.7 805.7 567.5 806.8 561.9 807.9 563.4 809.0 563.7 810.1 563.7 811.2 562.1 812.3 562.3 813.4 561.5 814.5 558.8 815.6 560.4 816.7 559.9 817.8 559.7 818.9 559.7 820.0 557.6 821.1 565.8 822.2 561.7 823.3 553.6 824.4 557.4 825.5 556.7 826.6 552.4 827.7 557.2 828.8 555.1 829.9 555.7 831.0 555.6 832.1 557.4 833.2 557.3 834.3 554.6 835.4 554.4 836.5 552.3 837.6 552.5 838.7 549.9 839.8 551.1 840.9 549.3 842.0 551.4 843.1 551.7 844.2 550.7 845.3 552.0 846.4 554.4 847.5 546.2 848.6 550.1 849.7 548.9 850.8 548.2 851.9 545.6 853.0 547.4 854.1 546.3 855.2 544.6 856.3 545.0 857.4 542.2 858.5 539.0 859.6 544.9 860.7 540.9 861.8 539.5 862.9 542.0 864.0 539.3 865.1 535.8 866.2 541.2 867.3 536.1 868.4 536.8 869.5 536.4 870.6 538.4 871.7 537.8 872.8 534.5 873.9 531.3 875.0 531.5 876.1 533.7 877.2 534.4 878.3 531.9 879.4 528.4 880.5 531.4 881.6 526.9 882.7 526.9 883.8 526.9 884.9 527.7 886.0 525.6 887.1 525.8 888.2 526.1 889.3 523.9 890.4 517.5 891.5 518.3 892.6 521.1 893.7 519.9 894.8 523.5 895.9 519.3 897.0 519.3 898.1 519.7 899.2 519.3 900.3 516.0 901.4 517.4 902.5 513.0 903.6 513.4 904.7 516.7 905.8 510.4 906.9 513.0 908.0 512.5 909.1 512.9 910.2 512.7 911.3 510.4 912.4 505.1 913.5 506.9 914.6 507.9 915.7 516.2 916.8 507.7 917.9 507.8 919.0 507.4 920.1 511.2 921.2 506.7 922.3 506.9 923.4 510.0 924.5 503.6 925.6 508.5 926.7 505.8 927.8 503.5 928.9 506.2 930.0 505.0 931.1 507.0 932.2 501.6 933.3 510.1 934.4 508.5 935.5 508.1 936.6 508.4 937.7 510.0 938.8 512.5 939.9 505.9 941.0 511.7 942.1 509.7 943.2 511.9 944.3 512.3 945.4 514.4 946.5 512.7 947.6 512.0 948.7 513.8 949.8 513.9 950.9 513.3 952.0 514.8 953.1 516.2 954.2 515.7 955.3 515.7 956.4 512.9 957.5 515.8 958.6 512.1 959.7 517.9 960.8 514.6 961.9 518.4 963.0 521.3 964.1 514.9 965.2 518.1 966.3 517.0 967.4 514.7 968.5 514.8 969.6 517.4 970.7 519.4 971.8 517.4 972.9 514.2 974.0 515.1 975.1 517.2 976.2 520.3 977.3 518.3 978.4 518.7 979.5 520.2 980.6 517.6 981.7 517.6 982.8 517.6 983.9 514.9 985.0 518.8 986.1 519.0 987.2 520.4 988.3 516.6 989.4 517.9 990.5 520.8 991.6 520.4 992.7 521.8 993.8 517.3 994.9 519.9 996.0 518.4 997.1 520.5 998.2 518.6 999.3 520.4 1000.4 521.8 1001.5 521.3 1002.6 517.7 1003.7 523.2 1004.8 522.5 1005.9 523.6 1007.0 519.5 1008.1 521.5 1009.2 523.3 1010.3 522.1 1011.4 520.4 1012.5 523.8 1013.6 524.1 1014.7 527.8 1015.8 521.3 1016.9 528.2 1018.0 527.3 1019.1 524.3 1020.2 527.2 1021.3 524.1 1022.4 525.9 1023.5 522.2 1024.6 524.7 1025.7 523.3 1026.8 523.5 1027.9 525.7 1029.0 525.0 1030.1 527.0 1031.2 528.5 1032.3 526.2 1033.4 527.1 1034.5 527.6 1035.6 523.3 1036.7 527.7 1037.8 527.8 1038.9 528.7 1040.0 527.4 1041.1 526.1 1042.2 529.8 1043.3 531.4 1044.4 533.5 1045.5 533.8 1046.6 534.9 1047.7 533.4 1048.8 534.5 1049.9 532.3 1051.0 534.0 1052.1 535.4 1053.2 538.6 1054.3 534.8 1055.4 532.4 1056.5 537.2 1057.6 532.8 1058.7 534.6 1059.8 534.1 1060.9 533.2 1062.0 537.5 1063.1 537.6 1064.2 535.3 1065.3 537.2 1066.4 536.6 1067.5 539.0 1068.6 538.0 1069.7 538.0 1070.8 539.3 1071.9 540.0 1073.0 540.9 1074.1 538.8 1075.2 540.4 1076.3 542.4 1077.4 545.9 1078.5 543.1 1079.6 536.6 1080.7 541.6 1081.8 542.5 1082.9 544.1 1084.0 547.6 1085.1 547.0 1086.2 541.1 1087.3 547.8 1088.4 547.6 1089.5 547.4 1090.6 549.4 1091.7 545.0 1092.8 549.5 1093.9 544.3 1095.0 547.6 1096.1 548.2 1097.2 552.3 1098.3 547.4 1099.4 547.9 1100.5 553.1 1101.6 551.4 1102.7 556.0 1103.8 546.8 1104.9 553.0 1106.0 558.4 1107.1 556.7 1108.2 559.3 1109.3 554.1 1110.4 560.2 1111.5 556.6 1112.6 560.7 1113.7 557.9 1114.8 557.7 1115.9 560.4 1117.0 562.0 1118.1 564.7 1119.2 563.3 1120.3 564.6 1121.4 564.3 1122.5 568.6 1123.6 561.3 1124.7 565.8 1125.8 563.8 1126.9 564.3 1128.0 563.4 1129.1 567.0 1130.2 563.0 1131.3 563.4 1132.4 566.3 1133.5 565.6 1134.6 569.4 1135.7 570.5 1136.8 568.0 1137.9 572.0 1139.0 569.5 1140.1 570.9 1141.2 572.4 1142.3 576.5 1143.4 572.9 1144.5 572.0 1145.6 572.7 1146.7 577.4 1147.8 572.3 1148.9 575.1 1150.0 575.7 1151.1 571.8 1152.2 576.6 1153.3 580.1 1154.4 579.4 1155.5 577.2 1156.6 580.3 1157.7 580.7 1158.8 584.4 1159.9 580.3 1161.0 581.4 1162.1 582.2 1163.2 582.3 1164.3 583.2 1165.4 583.1 1166.5 583.0 1167.6 580.9 1168.7 583.8 1169.8 582.8 1170.9 585.0 1172.0 587.2 1173.1 589.3 1174.2 590.3 1175.3 587.5 1176.4 590.5 1177.5 592.7 1178.6 591.2 1179.7 588.5 1180.8 586.9 1181.9 592.8 1183.0 593.8 1184.1 593.4 1185.2 592.0 1186.3 597.3 1187.4 597.5 1188.5 595.5 1189.6 596.2 1190.7 594.0 1191.8 599.4 1192.9 595.5 1194.0 599.8 1195.1 600.0 1196.2 599.3 1197.3 602.5 1198.4 599.7 1199.5 601.5 1200.6 602.4 1201.7 601.4 1202.8 600.8 1203.9 605.1 1205.0 604.5 1206.1 604.3 1207.2 604.7 1208.3 605.8 1209.4 610.3 1210.5 606.6 1211.6 607.1 1212.7 606.4 1213.8 605.8 1214.9 604.5 1216.0 608.7 1217.1 608.5 1218.2 607.1 1219.3 606.3 1220.4 609.0 1221.5 608.4 1222.6 606.9 1223.7 610.7 1224.8 611.1 1225.9 610.9 1227.0 612.8 1228.1 610.2 1229.2 614.8 1230.3 610.8 1231.4 614.5 1232.5 614.8 1233.6 613.7 1234.7 615.3 1235.8 612.4 1236.9 612.8 1238.0 615.3 1239.1 614.9 1240.2 617.9 1241.3 617.1 1242.4 618.6 1243.5 617.8 1244.6 617.7 1245.7 618.0 1246.8 616.9 1247.9 617.5 1249.0 622.5 1250.1 615.7 1251.2 619.3 1252.3 621.9 1253.4 622.1 1254.5 624.4 1255.6 616.9 1256.7 621.7 1257.8 623.4 1258.9 621.4 1260.0 626.4 1261.1 627.3 1262.2 624.7 1263.3 626.5 1264.4 625.7 1265.5 624.1 1266.6 625.7 1267.7 624.5 1268.8 627.2 1269.9 629.2 1271.0 631.1 1272.1 632.3 1273.2 629.9 1274.3 630.8 1275.4 631.3 1276.5 631.1 1277.6 624.9 1278.7 628.9 1279.8 631.5 1280.9 627.2 1282.0 629.8 1283.1 630.9 1284.2 625.2 1285.3 628.7 1286.4 630.6 1287.5 630.4 1288.6 627.7 1289.7 632.2 1290.8 631.0 1291.9 634.3 1293.0 634.0 1294.1 632.7 1295.2 634.5 1296.3 633.3 1297.4 633.4 1298.5 632.4 1299.6 635.1 1300.7 637.3 1301.8 635.9 1302.9 635.6 1304.0 635.5 1305.1 630.3 1306.2 638.2 1307.3 634.3 1308.4 641.3 1309.5 637.3 1310.6 642.2 1311.7 647.7 1312.8 639.3 1313.9 641.5 1315.0 641.2 1316.1 642.3 1317.2 643.8 1318.3 642.1 1319.4 643.3 1320.5 644.3 1321.6 642.3 1322.7 644.6 1323.8 646.6 1324.9 647.4 1326.0 642.9 1327.1 647.7 1328.2 649.8 1329.3 644.4 1330.4 648.4 1331.5 649.4 1332.6 652.5 1333.7 651.7 1334.8 651.5 1335.9 650.7 1337.0 652.7 1338.1 649.7 1339.2 652.5 1340.3 649.1 1341.4 657.6 1342.5 656.6 1343.6 653.2 1344.7 653.8 1345.8 650.5 1346.9 651.0 1348.0 654.3 1349.1 654.2 1350.2 651.6 1351.3 653.6 1352.4 654.5 1353.5 657.2 1354.6 658.2 1355.7 657.6 1356.8 659.2 1357.9 659.5 1359.0 654.1 1360.1 658.6 1361.2 657.2 1362.3 658.8 1363.4 654.2 1364.5 659.2 1365.6 656.1 1366.7 658.4 1367.8 660.9 1368.9 657.5 1370.0 658.4 1371.1 664.0 1372.2 660.0 1373.3 660.5 1374.4 663.6 1375.5 662.8 1376.6 664.8 1377.7 663.7 1378.8 663.4 1379.9 665.1 1381.0 667.8 1382.1 665.1 1383.2 668.2 1384.3 667.9 1385.4 666.7 1386.5 667.7 1387.6 665.5 1388.7 665.6 1389.8 668.0 1390.9 667.2 1392.0 668.9 1393.1 664.3 1394.2 666.2 1395.3 665.8 1396.4 666.7 1397.5 669.3 1398.6 665.7 1399.7 669.8 1400.8 667.2 1401.9 668.6 1403.0 671.3 1404.1 668.9 1405.2 671.2 1406.3 670.4 1407.4 670.5 1408.5 669.8 1409.6 667.3 1410.7 669.7 1411.8 671.5 1412.9 671.5 1414.0 668.4 1415.1 672.4 1416.2 671.5 1417.3 667.1 1418.4 667.7 1419.5 670.2 1420.6 665.1 1421.7 666.8 1422.8 667.7 1423.9 668.0 1425.0 668.8 1426.1 669.7 1427.2 667.8 1428.3 669.0 1429.4 674.5 1430.5 669.0 1431.6 665.3 1432.7 672.5 1433.8 671.9 1434.9 675.7 1436.0 674.8 1437.1 672.2 1438.2 671.4 1439.3 679.6 1440.4 679.8 1441.5 677.3 1442.6 681.5 1443.7 679.4 1444.8 680.7 1445.9 682.1 1447.0 678.7 1448.1 677.5 1449.2 679.1 1450.3 676.9 1451.4 678.3 1452.5 677.9 1453.6 678.6 1454.7 682.2 1455.8 681.5 1456.9 678.4 1458.0 682.6 1459.1 677.3 1460.2 679.0 1461.3 679.7 1462.4 683.1 1463.5 682.1 1464.6 681.9 1465.7 683.6 1466.8 683.1 1467.9 683.8 1469.0 680.1 1470.1 679.3 1471.2 682.2 1472.3 689.9 1473.4 685.0 1474.5 687.1 1475.6 687.5 1476.7 687.1 1477.8 687.6 1478.9 684.8 1480.0 688.3 1481.1 684.7 1482.2 691.9 1483.3 684.3 1484.4 687.4 1485.5 683.9 1486.6 689.5 1487.7 685.2 1488.8 688.6 1489.9 687.9 1491.0 686.9 1492.1 691.0 1493.2 688.3 1494.3 693.0 1495.4 688.0 1496.5 688.7 1497.6 686.7 1498.7 697.9 1499.8 693.7 1500.9 692.5 1502.0 691.7 1503.1 690.4 1504.2 696.1 1505.3 693.7 1506.4 689.4 1507.5 692.7 1508.6 687.7 1509.7 695.8 1510.8 696.4 1511.9 696.2 1513.0 693.8 1514.1 693.8 1515.2 692.4 1516.3 695.6 1517.4 692.9 1518.5 694.5 1519.6 693.9 1520.7 695.2 1521.8 698.1 1522.9 699.4 1524.0 696.9 1525.1 696.7 1526.2 695.7 1527.3 696.5 1528.4 697.6 1529.5 702.6 1530.6 702.8 1531.7 703.5 1532.8 703.4 1533.9 702.2 1535.0 701.8 1536.1 704.3 1537.2 702.5 1538.3 709.6 1539.4 706.7 1540.5 705.3 1541.6 710.8 1542.7 706.3 1543.8 708.3 1544.9 707.2 1546.0 708.0 1547.1 706.7 1548.2 708.6 1549.3 710.3 1550.4 706.2 1551.5 704.9 1552.6 712.6 1553.7 710.4 1554.8 712.3 1555.9 710.5 1557.0 714.5 1558.1 714.7 1559.2 709.6 1560.3 712.7 1561.4 710.0 1562.5 708.0 1563.6 710.9 1564.7 712.2 1565.8 708.5 1566.9 709.5 1568.0 714.8 1569.1 713.4 1570.2 713.9 1571.3 711.8 1572.4 713.6 1573.5 715.9 1574.6 717.0 1575.7 716.8 1576.8 719.8 1577.9 718.0 1579.0 714.2 1580.1 715.4 1581.2 717.3 1582.3 719.4 1583.4 715.4 1584.5 716.5 1585.6 718.4 1586.7 717.0 1587.8 716.5 1588.9 718.4 1590.0 722.1 1591.1 721.0 1592.2 719.7 1593.3 721.4 1594.4 717.6 1595.5 722.3 1596.6 722.1 1597.7 721.6 1598.8 717.8 1599.9 724.2 1601.0 715.0 1602.1 719.2 1603.2 719.1 1604.3 722.9 1605.4 718.7 1606.5 721.9 1607.6 721.7 1608.7 721.4 1609.8 724.8 1610.9 725.9 1612.0 724.9 1613.1 724.9 1614.2 722.1 1615.3 730.3 1616.4 727.9 1617.5 725.4 1618.6 730.3 1619.7 732.9 1620.8 730.1 1621.9 727.7 1623.0 733.8 1624.1 730.6 1625.2 729.4 1626.3 730.6 1627.4 724.7 1628.5 728.7 1629.6 729.4 1630.7 734.8 1631.8 729.5 1632.9 730.4 1634.0 728.7 1635.1 730.0 1636.2 731.8 1637.3 732.6 1638.4 732.0 1639.5 735.5 1640.6 732.6 1641.7 733.6 1642.8 734.5 1643.9 733.3 1645.0 731.2 1646.1 729.6 1647.2 733.9 1648.3 731.7 1649.4 736.3 1650.5 732.4 1651.6 730.0 1652.7 734.9 1653.8 737.6 1654.9 734.9 1656.0 735.6 1657.1 735.3 1658.2 738.8 1659.3 736.6 1660.4 736.4 1661.5 735.0 1662.6 733.4 1663.7 738.8 1664.8 739.5 1665.9 728.8 1667.0 738.5 1668.1 738.4 1669.2 737.4 1670.3 738.3 1671.4 741.2 1672.5 737.7 1673.6 739.7 1674.7 740.1 1675.8 740.7 1676.9 736.1 1678.0 741.8 1679.1 742.6 1680.2 739.4 1681.3 741.6 1682.4 740.6 1683.5 745.0 1684.6 739.8 1685.7 742.5 1686.8 744.5 1687.9 742.8 1689.0 743.0 1690.1 743.2 1691.2 745.1 1692.3 742.1 1693.4 744.0 1694.5 745.2 1695.6 742.4 1696.7 746.2 1697.8 745.2 1698.9 746.9 1700.0 749.3 1701.1 747.6 1702.2 745.7 1703.3 749.3 1704.4 745.3 1705.5 747.1 1706.6 751.7 1707.7 749.4 1708.8 752.8 1709.9 748.5 1711.0 749.8 1712.1 747.4 1713.2 752.6 1714.3 750.9 1715.4 752.4 1716.5 753.0 1717.6 753.3 1718.7 753.2 1719.8 753.3 1720.9 753.5 1722.0 752.9 1723.1 748.8 1724.2 754.5 1725.3 759.1 1726.4 757.4 1727.5 760.1 1728.6 756.3 1729.7 753.6 1730.8 753.6 1731.9 756.8 1733.0 757.2 1734.1 756.5 1735.2 757.8 1736.3 755.6 1737.4 758.6 1738.5 757.0 1739.6 758.1 1740.7 761.2 1741.8 759.4 1742.9 762.7 1744.0 761.8 1745.1 758.4 1746.2 763.4 1747.3 756.6 1748.4 760.5 1749.5 762.5 1750.6 756.4 1751.7 763.3 1752.8 763.2 1753.9 761.3 1755.0 762.3 1756.1 762.4 1757.2 761.5 1758.3 769.1 1759.4 761.4 1760.5 762.6 1761.6 764.0 1762.7 765.6 1763.8 766.5 1764.9 761.9 1766.0 761.4 1767.1 766.6 1768.2 767.4 1769.3 765.9 1770.4 769.0 1771.5 769.4 1772.6 769.5 1773.7 772.6 1774.8 767.1 1775.9 769.9 1777.0 772.6 1778.1 769.8 1779.2 766.9 1780.3 769.2 1781.4 771.8 1782.5 773.5 1783.6 770.9 1784.7 772.3 1785.8 767.8 1786.9 770.4 1788.0 773.1 1789.1 768.1 1790.2 773.5 1791.3 765.2 1792.4 771.3 1793.5 768.4 1794.6 776.1 1795.7 765.5 1796.8 766.2 1797.9 772.1 1799.0 769.4 1800.1 770.3 1801.2 773.5 1802.3 774.6 1803.4 770.2 1804.5 773.4 1805.6 776.1 1806.7 775.6 1807.8 777.3 1808.9 776.1 1810.0 776.8 1811.1 777.9 1812.2 776.1 1813.3 776.4 1814.4 776.9 1815.5 777.9 1816.6 778.3 1817.7 778.5 1818.8 779.5 1819.9 780.8 1821.0 781.9 1822.1 782.4 1823.2 779.2 1824.3 784.2 1825.4 780.5 1826.5 785.4 1827.6 783.2 1828.7 785.7 1829.8 786.6 1830.9 781.1 1832.0 786.7 1833.1 787.1 1834.2 785.8 1835.3 787.6 1836.4 792.1 1837.5 786.9 1838.6 785.0 1839.7 788.8 1840.8 789.3 1841.9 789.9 1843.0 787.2 1844.1 793.1 1845.2 794.4 1846.3 792.0 1847.4 792.0 1848.5 792.6 1849.6 795.7 1850.7 796.2 1851.8 792.5 1852.9 790.7 1854.0 795.3 1855.1 793.7 1856.2 794.6 1857.3 794.6 1858.4 791.1 1859.5 793.1 1860.6 793.6 1861.7 795.8 1862.8 797.8 1863.9 795.8 1865.0 794.9 1866.1 798.8 1867.2 798.6 1868.3 797.8 1869.4 794.7 1870.5 796.6 1871.6 798.4 1872.7 799.6 1873.8 797.9 1874.9 800.3 1876.0 798.2 1877.1 799.1 1878.2 801.6 1879.3 800.9 1880.4 801.7 1881.5 803.6 1882.6 803.9 1883.7 800.6 1884.8 800.8 1885.9 799.7 1887.0 799.4 1888.1 802.1 1889.2 800.8 1890.3 798.7 1891.4 803.2 1892.5 800.8 1893.6 802.3 1894.7 804.5 1895.8 803.6 1896.9 803.4 1898.0 799.6 1899.1 804.8 1900.2 802.4 1901.3 800.9 1902.4 800.1 1903.5 807.3 1904.6 805.6 1905.7 806.7 1906.8 807.7 1907.9 806.6 1909.0 803.8 1910.1 808.2 1911.2 808.9 1912.3 808.1 1913.4 809.7 1914.5 810.5 1915.6 805.0 1916.7 805.2 1917.8 808.2 1918.9 812.2 1920.0 812.0 1921.1 809.7 1922.2 809.7 1923.3 808.1 1924.4 808.6 1925.5 806.9 1926.6 808.2 1927.7 806.9 1928.8 805.6 1929.9 808.5 1931.0 808.3 1932.1 811.0 1933.2 812.7 1934.3 809.9 1935.4 811.5 1936.5 809.8 1937.6 809.7 1938.7 811.2 1939.8 811.0 1940.9 811.9 1942.0 811.3 1943.1 813.4 1944.2 810.5 1945.3 807.5 1946.4 811.4 1947.5 810.5 1948.6 812.2 1949.7 814.5 1950.8 811.2 1951.9 812.1 1953.0 813.7 1954.1 811.2 1955.2 813.3 1956.3 813.6 1957.4 813.3 1958.5 813.6 1959.6 812.5 1960.7 812.2 1961.8 809.8 1962.9 807.5 1964.0 809.9 1965.1 815.0 1966.2 812.9 1967.3 808.5 1968.4 812.7 1969.5 814.4 1970.6 809.6 1971.7 814.4 1972.8 810.5 1973.9 814.9 1975.0 813.0 1976.1 818.4 1977.2 810.0 1978.3 813.4 1979.4 809.7 1980.5 816.0 1981.6 814.7 1982.7 817.6 1983.8 816.4 1984.9 813.7 1986.0 815.3 1987.1 815.4 1988.2 815.6 1989.3 818.3 1990.4 819.9 1991.5 819.4 1992.6 818.9 1993.7 817.5 1994.8 820.3 1995.9 818.1 1997.0 819.6 1998.1 821.0 1999.2 818.8 2000.3 818.6 2001.4 818.3 2002.5 820.0 2003.6 818.3 2004.7 816.0 2005.8 818.0 2006.9 817.2 2008.0 822.5 2009.1 820.1 2010.2 817.4 2011.3 821.2 2012.4 822.2 2013.5 821.9 2014.6 820.4 2015.7 821.1 2016.8 821.6 2017.9 823.1 2019.0 822.1 2020.1 825.7 2021.2 820.8 2022.3 824.2 2023.4 821.1" stroke="#00AF66"/>
<path d="M50.0 1098.4 51.1 1072.2 52.2 1088.4 53.3 1083.1 54.4 1083.7 55.5 1085.4 56.6 1075.8 57.7 1086.3 58.8 1082.2 59.9 1105.3 61.0 1087.9 62.1 1084.9 63.2 1085.1 64.3 1083.3 65.4 1081.0 66.5 1085.1 67.6 1090.4 68.7 1086.2 69.8 1093.8 70.9 1088.8 72.0 1090.7 73.1 1099.7 74.2 1094.7 75.3 1089.2 76.4 1098.1 77.5 1095.1 78.6 1103.0 79.7 1089.8 80.8 1089.6 81.9 1096.9 83.0 1085.9 84.1 1088.8 85.2 1095.3 86.3 1093.4 87.4 1090.4 88.5 1093.8 89.6 1073.9 90.7 1095.3 91.8 1083.7 92.9 1080.8 94.0 1092.0 95.1 1094.2 96.2 1087.9 97.3 1085.2 98.4 1092.0 99.5 1092.3 100.6 1100.4 101.7 1096.4 102.8 1092.5 103.9 1097.2 105.0 1089.7 106.1 1092.5 107.2 1093.5 108.3 1092.9 109.4 1088.5 110.5 1085.5 111.6 1092.2 112.7 1076.5 113.8 1094.1 114.9 1093.3 116.0 1080.7 117.1 1090.7 118.2 1084.6 119.3 1094.4 120.4 1078.2 121.5 1083.6 122.6 1093.6 123.7 1096.8 124.8 1078.4 125.9 1087.2 127.0 1091.6 128.1 1086.2 129.2 1097.7 130.3 1082.2 131.4 1091.4 132.5 1083.0 133.6 1095.8 134.7 1087.1 135.8 1085.0 136.9 1078.0 138.0 1096.6 139.1 1091.7 140.2 1091.3 141.3 1092.5 142.4 1087.4 143.5 1082.4 144.6 1081.6 145.7 1082.8 146.8 1094.2 147.9 1078.6 149.0 1083.5 150.1 1085.7 151.2 1089.0 152.3 1090.9 153.4 1080.9 154.5 1078.5 155.6 1087.5 156.7 1094.6 157.8 1092.8 158.9 1089.6 160.0 1086.6 161.1 1090.3 162.2 1088.6 163.3 1094.1 164.4 1085.0 165.5 1090.6 166.6 1089.8 167.7 1093.4 168.8 1092.0 169.9 1105.5 171.0 1099.7 172.1 1099.6 173.2 1080.9 174.3 1090.9 175.4 1088.9 176.5 1095.1 177.6 1079.6 178.7 1098.8 179.8 1097.6 180.9 1084.5 182.0 1086.0 183.1 1086.9 184.2 1091.2 185.3 1095.6 186.4 1103.8 187.5 1091.5 188.6 1097.8 189.7 1095.2 190.8 1104.9 191.9 1099.5 193.0 1102.2 194.1 1089.2 195.2 1093.3 196.3 1090.2 197.4 1103.7 198.5 1098.9 199.6 1093.5 200.7 1092.4 201.8 1098.1 202.9 1092.4 204.0 1091.0 205.1 1099.8 206.2 1111.0 207.3 1095.9 208.4 1094.3 209.5 1091.7 210.6 1091.7 211.7 1102.5 212.8 1104.6 213.9 1100.8 215.0 1103.3 216.1 1103.1 217.2 1103.4 218.3 1094.6 219.4 1101.1 220.5 1103.7 221.6 1099.1 222.7 1100.9 223.8 1099.5 224.9 1101.8 226.0 1108.3 227.1 1101.0 228.2 1102.5 229.3 1107.9 230.4 1108.2 231.5 1113.6 232.6 1092.7 233.7 1110.2 234.8 1103.4 235.9 1107.0 237.0 1111.6 238.1 1112.2 239.2 1112.4 240.3 1107.1 241.4 1115.3 242.5 1105.3 243.6 1104.7 244.7 1109.5 245.8 1102.2 246.9 1117.5 248.0 1112.0 249.1 1118.0 250.2 1105.3 251.3 1103.4 252.4 1106.5 253.5 1110.4 254.6 1103.6 255.7 1109.0 256.8 1106.5 257.9 1115.8 259.0 1102.7 260.1 1113.3 261.2 1104.0 262.3 1102.0 263.4 1102.8 264.5 1099.3 265.6 1107.1 266.7 1111.8 267.8 1106.5 268.9 1109.2 270.0 1113.7 271.1 1106.1 272.2 1104.9 273.3 1102.2 274.4 1095.0 275.5 1106.9 276.6 1093.0 277.7 1106.5 278.8 1102.1 279.9 1108.7 281.0 1101.9 282.1 1098.3 283.2 1104.2 284.3 1099.1 285.4 1101.4 286.5 1102.2 287.6 1100.8 288.7 1100.6 289.8 1096.8 290.9 1099.6 292.0 1087.1 293.1 1098.2 294.2 1091.7 295.3 1104.5 296.4 1105.1 297.5 1086.8 298.6 1098.7 299.7 1096.8 300.8 1091.8 301.9 1101.4 303.0 1095.8 304.1 1088.4 305.2 1096.6 306.3 1096.6 307.4 1097.6 308.5 1089.6 309.6 1100.0 310.7 1100.2 311.8 1089.4 312.9 1092.4 314.0 1096.1 315.1 1093.0 316.2 1106.3 317.3 1097.8 318.4 1090.8 319.5 1091.7 320.6 1095.8 321.7 1108.6 322.8 1093.7 323.9 1094.2 325.0 1096.0 326.1 1092.3 327.2 1105.1 328.3 1088.8 329.4 1095.5 330.5 1092.1 331.6 1093.6 332.7 1083.0 333.8 1099.3 334.9 1088.2 336.0 1088.1 337.1 1082.2 338.2 1082.7 339.3 1089.0 340.4 1091.0 341.5 1089.2 342.6 1091.4 343.7 1083.0 344.8 1083.5 345.9 1088.1 347.0 1085.7 348.1 1081.4 349.2 1085.9 350.3 1087.6 351.4 1082.1 352.5 1078.4 353.6 1088.4 354.7 1090.0 355.8 1077.5 356.9 1078.0 358.0 1077.2 359.1 1084.8 360.2 1066.7 361.3 1077.5 362.4 1081.6 363.5 1069.4 364.6 1082.1 365.7 1076.2 366.8 1069.9 367.9 1074.0 369.0 1063.9 370.1 1070.1 371.2 1084.3 372.3 1068.9 373.4 1084.9 374.5 1074.0 375.6 1079.7 376.7 1073.4 377.8 1059.7 378.9 1068.4 380.0 1071.2 381.1 1062.9 382.2 1061.0 383.3 1070.0 384.4 1063.8 385.5 1057.4 386.6 1062.9 387.7 1070.7 388.8 1062.6 389.9 1070.8 391.0 1072.9 392.1 1060.1 393.2 1057.0 394.3 1055.4 395.4 1061.6 396.5 1066.3 397.6 1057.3 398.7 1064.0 399.8 1057.3 400.9 1061.8 402.0 1057.0 403.1 1057.3 404.2 1051.6 405.3 1049.7 406.4 1055.1 407.5 1051.0 408.6 1051.3 409.7 1061.2 410.8 1056.1 411.9 1071.9 413.0 1060.4 414.1 1050.4 415.2 1058.0 416.3 1055.3 417.4 1048.6 418.5 1057.9 419.6 1045.5 420.7 1032.0 421.8 1053.0 422.9 1044.7 424.0 1056.5 425.1 1043.7 426.2 1039.3 427.3 1054.8 428.4 1040.0 429.5 1047.0 430.6 1053.3 431.7 1045.5 432.8 1043.0 433.9 1037.0 435.0 1047.4 436.1 1037.5 437.2 1043.9 438.3 1041.7 439.4 1051.0 440.5 1035.5 441.6 1032.2 442.7 1041.6 443.8 1033.7 444.9 1037.0 446.0 1036.2 447.1 1041.9 448.2 1031.7 449.3 1034.2 450.4 1019.6 451.5 1028.1 452.6 1040.3 453.7 1027.3 454.8 1026.2 455.9 1022.1 457.0 1030.9 458.1 1028.0 459.2 1019.5 460.3 1029.1 461.4 1026.0 462.5 1028.4 463.6 1020.1 464.7 1032.5 465.8 1024.6 466.9 1021.5 468.0 1018.1 469.1 1018.4 470.2 1023.3 471.3 1015.4 472.4 1014.8 473.5 1023.7 474.6 1021.7 475.7 1017.3 476.8 1011.2 477.9 1000.3 479.0 1012.0 480.1 1014.6 481.2 1010.7 482.3 1012.4 483.4 1006.1 484.5 1006.0 485.6 1002.8 486.7 1015.0 487.8 1007.2 488.9 1003.5 490.0 998.0 491.1 1004.1 492.2 1012.3 493.3 1006.4 494.4 999.0 495.5 1009.9 496.6 1009.4 497.7 1007.0 498.8 1004.9 499.9 1005.8 501.0 1002.3 502.1 1003.1 503.2 993.6 504.3 1005.4 505.4 997.0 506.5 1005.9 507.6 982.1 508.7 997.4 509.8 997.7 510.9 988.6 512.0 992.7 513.1 993.8 514.2 992.3 515.3 986.5 516.4 988.3 517.5 994.0 518.6 994.5 519.7 988.1 520.8 987.1 521.9 991.5 523.0 990.1 524.1 977.3 525.2 975.8 526.3 983.2 527.4 975.9 528.5 977.7 529.6 980.5 530.7 982.3 531.8 972.3 532.9 983.1 534.0 968.9 535.1 980.6 536.2 968.8 537.3 963.5 538.4 980.5 539.5 974.3 540.6 972.2 541.7 973.5 542.8 977.7 543.9 974.0 545.0 973.4 546.1 978.4 547.2 967.7 548.3 967.9 549.4 966.9 550.5 975.5 551.6 973.8 552.7 974.7 553.8 966.3 554.9 964.4 556.0 969.6 557.1 962.1 558.2 968.2 559.3 965.9 560.4 956.4 561.5 958.9 562.6 957.8 563.7 966.9 564.8 971.4 565.9 955.3 567.0 955.1 568.1 940.9 569.2 955.4 570.3 959.6 571.4 947.8 572.5 957.4 573.6 944.0 574.7 951.0 575.8 952.4 576.9 944.4 578.0 956.3 579.1 957.0 580.2 942.2 581.3 941.1 582.4 952.4 583.5 948.1 584.6 940.6 585.7 944.4 586.8 944.9 587.9 943.5 589.0 947.7 590.1 945.2 591.2 952.7 592.3 949.9 593.4 945.0 594.5 946.3 595.6 947.4 596.7 942.1 597.8 931.3 598.9 937.6 600.0 936.6 601.1 943.7 602.2 933.9 603.3 935.5 604.4 933.9 605.5 940.4 606.6 932.1 607.7 928.3 608.8 930.1 609.9 925.3 611.0 928.1 612.1 919.6 613.2 928.0 614.3 936.6 615.4 922.7 616.5 924.0 617.6 922.3 618.7 927.3 619.8 916.5 620.9 919.1 622.0 916.8 623.1 924.1 624.2 920.4 625.3 917.6 626.4 915.0 627.5 922.4 628.6 927.2 629.7 919.5 630.8 917.6 631.9 918.5 633.0 910.1 634.1 912.5 635.2 912.7 636.3 915.0 637.4 911.8 638.5 904.4 639.6 916.5 640.7 918.7 641.8 907.4 642.9 910.0 644.0 908.4 645.1 904.6 646.2 897.6 647.3 914.5 648.4 902.2 649.5 911.7 650.6 904.9 651.7 901.3 652.8 903.3 653.9 909.0 655.0 898.0 656.1 900.0 657.2 898.8 658.3 890.8 659.4 907.1 660.5 902.9 661.6 898.5 662.7 903.6 663.8 891.3 664.9 896.3 666.0 905.5 667.1 901.3 668.2 883.1 669.3 877.2 670.4 889.2 671.5 900.7 672.6 892.0 673.7 892.8 674.8 896.1 675.9 888.2 677.0 893.2 678.1 896.4 679.2 893.3 680.3 891.6 681.4 885.2 682.5 890.6 683.6 884.8 684.7 894.7 685.8 900.5 686.9 881.4 688.0 871.9 689.1 881.2 690.2 885.8 691.3 894.4 692.4 888.6 693.5 877.6 694.6 877.1 695.7 887.7 696.8 873.9 697.9 885.9 699.0 877.5 700.1 882.1 701.2 881.6 702.3 881.2 703.4 880.6 704.5 869.7 705.6 876.5 706.7 874.0 707.8 875.3 708.9 880.5 710.0 872.1 711.1 869.9 712.2 869.0 713.3 870.9 714.4 875.5 715.5 866.4 716.6 877.5 717.7 871.7 718.8 868.0 719.9 860.3 721.0 867.6 722.1 869.4 723.2 854.0 724.3 869.6 725.4 871.8 726.5 863.2 727.6 862.7 728.7 871.9 729.8 865.1 730.9 851.3 732.0 855.0 733.1 853.8 734.2 853.0 735.3 839.0 736.4 855.2 737.5 846.9 738.6 851.1 739.7 848.3 740.8 854.4 741.9 847.5 743.0 844.4 744.1 851.5 745.2 855.7 746.3 845.9 747.4 854.9 748.5 847.7 749.6 842.2 750.7 852.8 751.8 839.4 752.9 848.6 754.0 839.5 755.1 845.5 756.2 836.0 757.3 837.6 758.4 848.0 759.5 843.6 760.6 842.3 761.7 839.3 762.8 844.0 763.9 833.7 765.0 833.4 766.1 838.1 767.2 833.1 768.3 833.4 769.4 836.3 770.5 835.8 771.6 833.8 772.7 843.9 773.8 839.4 774.9 840.3 776.0 832.3 777.1 829.7 778.2 823.8 779.3 829.5 780.4 819.2 781.5 828.1 782.6 835.3 783.7 839.1 784.8 835.1 785.9 825.4 787.0 832.3 788.1 825.0 789.2 833.1 790.3 827.0 791.4 831.8 792.5 846.6 793.6 832.2 794.7 834.9 795.8 827.1 796.9 823.7 798.0 832.9 799.1 830.7 800.2 822.3 801.3 825.4 802.4 816.0 803.5 822.6 804.6 827.9 805.7 821.3 806.8 818.7 807.9 813.2 809.0 822.5 810.1 825.1 811.2 823.5 812.3 821.5 813.4 812.9 814.5 829.2 815.6 819.2 816.7 818.7 817.8 823.9 818.9 808.0 820.0 818.7 821.1 818.1 822.2 820.5 823.3 824.7 824.4 819.6 825.5 805.8 826.6 813.5 827.7 815.9 828.8 814.2 829.9 806.3 831.0 803.4 832.1 815.2 833.2 812.9 834.3 811.1 835.4 802.0 836.5 821.0 837.6 794.1 838.7 807.8 839.8 821.1 840.9 808.3 842.0 810.6 843.1 803.2 844.2 816.1 845.3 800.1 846.4 808.6 847.5 807.0 848.6 800.5 849.7 811.1 850.8 797.3 851.9 801.0 853.0 804.2 854.1 802.3 855.2 807.1 856.3 809.1 857.4 802.5 858.5 801.3 859.6 800.9 860.7 801.9 861.8 807.4 862.9 801.3 864.0 804.0 865.1 800.9 866.2 796.4 867.3 805.7 868.4 794.1 869.5 799.3 870.6 806.9 871.7 792.9 872.8 797.7 873.9 788.9 875.0 794.8 876.1 788.5 877.2 794.2 878.3 792.7 879.4 796.5 880.5 804.4 881.6 795.4 882.7 797.2 883.8 792.7 884.9 790.8 886.0 787.0 887.1 781.3 888.2 791.2 889.3 798.3 890.4 790.6 891.5 784.2 892.6 796.4 893.7 784.0 894.8 782.1 895.9 777.5 897.0 777.6 898.1 780.8 899.2 793.0 900.3 780.2 901.4 775.5 902.5 777.4 903.6 778.9 904.7 769.5 905.8 779.7 906.9 782.4 908.0 779.6 909.1 780.7 910.2 769.5 911.3 766.9 912.4 782.6 913.5 776.0 914.6 766.8 915.7 777.0 916.8 775.1 917.9 777.6 919.0 775.9 920.1 772.5 921.2 776.9 922.3 775.7 923.4 774.6 924.5 763.6 925.6 756.7 926.7 769.3 927.8 764.9 928.9 775.3 930.0 777.8 931.1 774.3 932.2 771.5 933.3 774.4 934.4 780.7 935.5 770.4 936.6 780.1 937.7 779.3 938.8 776.6 939.9 783.8 941.0 772.8 942.1 782.0 943.2 771.8 944.3 773.2 945.4 771.0 946.5 780.1 947.6 772.4 948.7 778.1 949.8 771.3 950.9 783.7 952.0 788.5 953.1 779.5 954.2 788.2 955.3 782.5 956.4 791.7 957.5 780.6 958.6 772.2 959.7 789.0 960.8 779.9 961.9 775.1 963.0 777.8 964.1 772.3 965.2 781.3 966.3 776.6 967.4 790.9 968.5 786.7 969.6 775.1 970.7 775.7 971.8 782.1 972.9 774.7 974.0 785.3 975.1 785.2 976.2 781.2 977.3 782.2 978.4 788.3 979.5 793.5 980.6 794.7 981.7 785.9 982.8 790.9 983.9 781.5 985.0 788.3 986.1 780.6 987.2 790.8 988.3 779.5 989.4 780.3 990.5 785.8 991.6 789.2 992.7 778.4 993.8 777.3 994.9 787.8 996.0 789.3 997.1 783.0 998.2 788.2 999.3 786.9 1000.4 796.1 1001.5 791.3 1002.6 780.3 1003.7 775.5 1004.8 788.8 1005.9 794.2 1007.0 788.5 1008.1 792.7 1009.2 785.1 1010.3 780.6 1011.4 793.0 1012.5 790.3 1013.6 787.7 1014.7 781.8 1015.8 790.2 1016.9 786.2 1018.0 794.6 1019.1 786.8 1020.2 786.3 1021.3 785.8 1022.4 795.1 1023.5 788.8 1024.6 785.1 1025.7 783.9 1026.8 784.3 1027.9 798.1 1029.0 779.5 1030.1 785.5 1031.2 794.5 1032.3 798.2 1033.4 790.6 1034.5 795.9 1035.6 796.2 1036.7 797.4 1037.8 792.6 1038.9 802.1 1040.0 793.6 1041.1 800.5 1042.2 785.9 1043.3 798.0 1044.4 784.9 1045.5 783.8 1046.6 795.8 1047.7 787.9 1048.8 796.0 1049.9 788.7 1051.0 805.0 1052.1 796.1 1053.2 790.1 1054.3 798.0 1055.4 803.1 1056.5 793.5 1057.6 801.9 1058.7 810.5 1059.8 804.3 1060.9 799.0 1062.0 796.9 1063.1 803.9 1064.2 793.1 1065.3 785.1 1066.4 799.2 1067.5 797.5 1068.6 814.2 1069.7 806.3 1070.8 800.7 1071.9 800.0 1073.0 809.5 1074.1 809.5 1075.2 804.1 1076.3 807.4 1077.4 808.7 1078.5 808.9 1079.6 808.7 1080.7 816.2 1081.8 818.2 1082.9 800.4 1084.0 824.2 1085.1 810.7 1086.2 817.2 1087.3 806.3 1088.4 812.4 1089.5 812.1 1090.6 807.3 1091.7 817.9 1092.8 817.0 1093.9 808.3 1095.0 813.7 1096.1 819.0 1097.2 819.7 1098.3 814.9 1099.4 815.3 1100.5 815.2 1101.6 810.3 1102.7 808.7 1103.8 825.4 1104.9 815.1 1106.0 819.0 1107.1 814.1 1108.2 825.9 1109.3 829.2 1110.4 819.4 1111.5 823.8 1112.6 817.8 1113.7 831.8 1114.8 826.4 1115.9 815.9 1117.0 827.6 1118.1 823.5 1119.2 823.5 1120.3 823.5 1121.4 817.3 1122.5 817.9 1123.6 825.6 1124.7 822.9 1125.8 818.1 1126.9 835.6 1128.0 822.7 1129.1 821.4 1130.2 820.7 1131.3 829.8 1132.4 832.3 1133.5 828.2 1134.6 832.5 1135.7 819.6 1136.8 826.0 1137.9 821.0 1139.0 829.0 1140.1 832.4 1141.2 817.9 1142.3 847.6 1143.4 824.8 1144.5 831.8 1145.6 834.5 1146.7 834.7 1147.8 832.2 1148.9 815.3 1150.0 825.4 1151.1 836.0 1152.2 826.2 1153.3 827.2 1154.4 820.4 1155.5 841.4 1156.6 839.0 1157.7 831.7 1158.8 835.3 1159.9 836.1 1161.0 830.8 1162.1 837.1 1163.2 839.4 1164.3 841.5 1165.4 845.7 1166.5 838.4 1167.6 836.1 1168.7 842.2 1169.8 837.0 1170.9 834.1 1172.0 847.2 1173.1 839.4 1174.2 842.4 1175.3 846.2 1176.4 837.1 1177.5 847.7 1178.6 847.2 1179.7 845.6 1180.8 849.2 1181.9 843.1 1183.0 836.3 1184.1 847.6 1185.2 844.6 1186.3 855.3 1187.4 852.1 1188.5 848.0 1189.6 851.2 1190.7 859.2 1191.8 858.4 1192.9 853.6 1194.0 854.4 1195.1 850.0 1196.2 850.5 1197.3 854.4 1198.4 850.9 1199.5 853.4 1200.6 845.3 1201.7 842.5 1202.8 842.6 1203.9 849.5 1205.0 860.1 1206.1 860.0 1207.2 848.5 1208.3 845.7 1209.4 858.7 1210.5 856.4 1211.6 846.8 1212.7 861.5 1213.8 851.3 1214.9 864.7 1216.0 859.6 1217.1 863.6 1218.2 860.6 1219.3 854.3 1220.4 859.8 1221.5 857.4 1222.6 865.6 1223.7 855.1 1224.8 851.6 1225.9 864.1 1227.0 865.9 1228.1 867.3 1229.2 864.7 1230.3 849.7 1231.4 854.7 1232.5 855.7 1233.6 859.1 1234.7 847.3 1235.8 859.0 1236.9 861.3 1238.0 855.0 1239.1 861.5 1240.2 875.8 1241.3 862.9 1242.4 869.1 1243.5 869.3 1244.6 866.8 1245.7 867.2 1246.8 863.7 1247.9 872.7 1249.0 863.4 1250.1 861.3 1251.2 868.4 1252.3 860.7 1253.4 867.5 1254.5 871.5 1255.6 866.5 1256.7 866.1 1257.8 871.4 1258.9 870.8 1260.0 859.4 1261.1 862.0 1262.2 877.2 1263.3 872.0 1264.4 858.1 1265.5 862.7 1266.6 870.9 1267.7 865.1 1268.8 874.1 1269.9 871.7 1271.0 873.6 1272.1 864.0 1273.2 874.1 1274.3 882.4 1275.4 866.7 1276.5 878.7 1277.6 877.8 1278.7 876.2 1279.8 872.6 1280.9 866.6 1282.0 868.5 1283.1 878.4 1284.2 879.8 1285.3 881.4 1286.4 880.3 1287.5 879.8 1288.6 871.3 1289.7 866.6 1290.8 874.9 1291.9 877.4 1293.0 875.2 1294.1 866.0 1295.2 871.7 1296.3 866.6 1297.4 876.0 1298.5 869.5 1299.6 875.3 1300.7 877.7 1301.8 876.6 1302.9 883.7 1304.0 870.4 1305.1 865.2 1306.2 883.1 1307.3 885.4 1308.4 886.1 1309.5 880.1 1310.6 882.2 1311.7 879.4 1312.8 870.9 1313.9 875.4 1315.0 882.1 1316.1 876.6 1317.2 891.2 1318.3 872.7 1319.4 878.0 1320.5 886.6 1321.6 878.3 1322.7 876.8 1323.8 874.9 1324.9 878.5 1326.0 891.4 1327.1 886.1 1328.2 886.9 1329.3 882.5 1330.4 890.4 1331.5 886.4 1332.6 881.0 1333.7 878.4 1334.8 888.0 1335.9 893.3 1337.0 886.7 1338.1 890.4 1339.2 898.3 1340.3 883.2 1341.4 881.1 1342.5 893.2 1343.6 890.5 1344.7 887.4 1345.8 889.4 1346.9 885.8 1348.0 890.8 1349.1 887.1 1350.2 894.0 1351.3 883.0 1352.4 885.7 1353.5 886.1 1354.6 888.3 1355.7 896.1 1356.8 892.6 1357.9 889.5 1359.0 893.4 1360.1 888.5 1361.2 882.6 1362.3 884.8 1363.4 886.1 1364.5 887.9 1365.6 890.6 1366.7 894.9 1367.8 892.7 1368.9 900.7 1370.0 898.6 1371.1 890.0 1372.2 900.0 1373.3 898.4 1374.4 889.4 1375.5 893.7 1376.6 898.1 1377.7 893.6 1378.8 897.1 1379.9 893.0 1381.0 895.5 1382.1 889.2 1383.2 892.7 1384.3 888.9 1385.4 894.5 1386.5 881.0 1387.6 893.1 1388.7 898.9 1389.8 895.5 1390.9 891.9 1392.0 896.0 1393.1 888.5 1394.2 888.2 1395.3 891.0 1396.4 892.9 1397.5 898.5 1398.6 887.3 1399.7 897.7 1400.8 883.7 1401.9 888.1 1403.0 891.9 1404.1 899.5 1405.2 890.4 1406.3 881.8 1407.4 890.3 1408.5 895.2 1409.6 890.7 1410.7 891.1 1411.8 894.0 1412.9 899.5 1414.0 902.6 1415.1 890.5 1416.2 911.5 1417.3 899.1 1418.4 897.5 1419.5 903.5 1420.6 900.7 1421.7 913.8 1422.8 907.4 1423.9 899.9 1425.0 900.3 1426.1 901.1 1427.2 902.1 1428.3 908.1 1429.4 900.9 1430.5 913.4 1431.6 903.2 1432.7 903.5 1433.8 908.7 1434.9 892.4 1436.0 898.0 1437.1 907.3 1438.2 903.9 1439.3 903.6 1440.4 906.2 1441.5 901.0 1442.6 903.2 1443.7 897.4 1444.8 894.8 1445.9 912.5 1447.0 899.9 1448.1 901.5 1449.2 913.4 1450.3 911.7 1451.4 903.4 1452.5 902.8 1453.6 905.8 1454.7 901.9 1455.8 910.9 1456.9 909.6 1458.0 909.3 1459.1 913.2 1460.2 913.3 1461.3 919.3 1462.4 917.6 1463.5 899.0 1464.6 913.4 1465.7 902.1 1466.8 900.3 1467.9 913.3 1469.0 905.9 1470.1 908.4 1471.2 916.8 1472.3 908.3 1473.4 908.3 1474.5 915.1 1475.6 920.1 1476.7 916.1 1477.8 905.1 1478.9 910.5 1480.0 913.9 1481.1 925.8 1482.2 920.3 1483.3 919.5 1484.4 921.9 1485.5 913.9 1486.6 918.6 1487.7 918.6 1488.8 910.7 1489.9 917.6 1491.0 921.5 1492.1 912.7 1493.2 923.9 1494.3 923.4 1495.4 925.9 1496.5 916.9 1497.6 921.6 1498.7 929.3 1499.8 925.1 1500.9 916.5 1502.0 921.3 1503.1 928.9 1504.2 921.3 1505.3 923.9 1506.4 935.4 1507.5 921.7 1508.6 921.9 1509.7 916.5 1510.8 918.9 1511.9 931.8 1513.0 922.5 1514.1 916.7 1515.2 918.1 1516.3 923.8 1517.4 923.0 1518.5 920.0 1519.6 928.5 1520.7 915.7 1521.8 928.0 1522.9 929.8 1524.0 931.0 1525.1 926.0 1526.2 928.1 1527.3 931.6 1528.4 922.1 1529.5 931.1 1530.6 933.0 1531.7 936.5 1532.8 929.9 1533.9 929.5 1535.0 931.2 1536.1 926.6 1537.2 930.3 1538.3 927.2 1539.4 933.3 1540.5 926.4 1541.6 930.3 1542.7 921.5 1543.8 938.3 1544.9 931.3 1546.0 935.5 1547.1 928.1 1548.2 927.4 1549.3 937.8 1550.4 940.4 1551.5 926.9 1552.6 938.9 1553.7 932.7 1554.8 929.9 1555.9 937.5 1557.0 933.7 1558.1 933.7 1559.2 932.1 1560.3 938.0 1561.4 938.0 1562.5 937.3 1563.6 933.8 1564.7 936.7 1565.8 942.4 1566.9 947.8 1568.0 940.6 1569.1 948.6 1570.2 941.5 1571.3 935.7 1572.4 945.8 1573.5 936.9 1574.6 944.4 1575.7 948.2 1576.8 940.9 1577.9 942.8 1579.0 957.3 1580.1 944.3 1581.2 944.3 1582.3 948.3 1583.4 943.7 1584.5 944.3 1585.6 947.0 1586.7 931.4 1587.8 952.7 1588.9 939.2 1590.0 940.3 1591.1 949.8 1592.2 946.6 1593.3 939.9 1594.4 948.6 1595.5 941.3 1596.6 944.2 1597.7 939.9 1598.8 943.4 1599.9 949.7 1601.0 948.4 1602.1 949.3 1603.2 953.1 1604.3 948.2 1605.4 945.1 1606.5 947.7 1607.6 959.3 1608.7 951.1 1609.8 953.3 1610.9 952.0 1612.0 954.9 1613.1 956.4 1614.2 954.0 1615.3 954.1 1616.4 950.4 1617.5 950.5 1618.6 958.3 1619.7 961.5 1620.8 962.2 1621.9 957.3 1623.0 952.8 1624.1 961.1 1625.2 961.1 1626.3 944.9 1627.4 963.0 1628.5 961.9 1629.6 967.7 1630.7 952.2 1631.8 945.9 1632.9 963.1 1634.0 949.7 1635.1 956.3 1636.2 954.3 1637.3 955.5 1638.4 950.7 1639.5 960.3 1640.6 968.2 1641.7 965.4 1642.8 966.5 1643.9 962.0 1645.0 972.1 1646.1 967.4 1647.2 970.1 1648.3 955.4 1649.4 966.8 1650.5 958.9 1651.6 967.1 1652.7 966.8 1653.8 954.4 1654.9 966.8 1656.0 972.6 1657.1 969.6 1658.2 971.7 1659.3 963.8 1660.4 965.4 1661.5 963.9 1662.6 971.4 1663.7 977.2 1664.8 974.2 1665.9 972.5 1667.0 966.2 1668.1 974.6 1669.2 971.1 1670.3 962.2 1671.4 963.7 1672.5 971.0 1673.6 968.4 1674.7 982.4 1675.8 973.7 1676.9 968.0 1678.0 970.7 1679.1 981.4 1680.2 966.8 1681.3 971.9 1682.4 974.5 1683.5 980.1 1684.6 975.2 1685.7 970.1 1686.8 975.3 1687.9 973.3 1689.0 979.1 1690.1 973.6 1691.2 985.4 1692.3 974.5 1693.4 978.1 1694.5 972.8 1695.6 977.3 1696.7 983.3 1697.8 978.6 1698.9 982.4 1700.0 974.6 1701.1 972.4 1702.2 982.9 1703.3 975.1 1704.4 972.2 1705.5 981.9 1706.6 979.8 1707.7 961.0 1708.8 974.2 1709.9 981.0 1711.0 982.4 1712.1 975.8 1713.2 987.4 1714.3 974.5 1715.4 978.0 1716.5 980.2 1717.6 979.0 1718.7 983.3 1719.8 984.2 1720.9 977.8 1722.0 986.4 1723.1 976.0 1724.2 979.2 1725.3 990.5 1726.4 981.6 1727.5 987.4 1728.6 980.0 1729.7 981.8 1730.8 983.0 1731.9 984.6 1733.0 981.4 1734.1 984.4 1735.2 988.3 1736.3 992.3 1737.4 987.0 1738.5 990.4 1739.6 992.4 1740.7 981.4 1741.8 978.5 1742.9 996.7 1744.0 994.9 1745.1 988.4 1746.2 989.8 1747.3 982.6 1748.4 980.3 1749.5 990.0 1750.6 980.4 1751.7 994.7 1752.8 986.3 1753.9 992.3 1755.0 1001.9 1756.1 1001.8 1757.2 986.7 1758.3 998.5 1759.4 987.0 1760.5 990.2 1761.6 995.3 1762.7 1006.6 1763.8 989.6 1764.9 1001.5 1766.0 993.6 1767.1 985.8 1768.2 992.3 1769.3 1001.6 1770.4 992.8 1771.5 996.2 1772.6 998.0 1773.7 989.7 1774.8 1000.5 1775.9 1002.3 1777.0 1002.7 1778.1 1001.5 1779.2 991.9 1780.3 991.5 1781.4 990.6 1782.5 990.7 1783.6 991.7 1784.7 1003.4 1785.8 1006.1 1786.9 994.5 1788.0 1009.7 1789.1 991.7 1790.2 997.7 1791.3 994.6 1792.4 991.1 1793.5 1001.7 1794.6 1001.8 1795.7 999.7 1796.8 999.7 1797.9 997.2 1799.0 1002.2 1800.1 1000.1 1801.2 1004.7 1802.3 996.5 1803.4 1004.2 1804.5 1004.9 1805.6 1009.8 1806.7 1008.5 1807.8 1004.2 1808.9 1005.2 1810.0 993.1 1811.1 1004.0 1812.2 1012.0 1813.3 1013.0 1814.4 990.6 1815.5 999.6 1816.6 1002.5 1817.7 998.9 1818.8 1006.3 1819.9 1005.8 1821.0 1002.0 1822.1 1005.8 1823.2 998.2 1824.3 1001.7 1825.4 1003.0 1826.5 1013.1 1827.6 999.5 1828.7 1007.7 1829.8 1013.7 1830.9 1010.8 1832.0 1015.8 1833.1 1007.5 1834.2 1014.6 1835.3 1017.0 1836.4 1024.8 1837.5 1017.1 1838.6 1022.0 1839.7 1013.8 1840.8 1014.2 1841.9 1022.5 1843.0 1017.6 1844.1 1022.3 1845.2 1019.3 1846.3 1028.1 1847.4 1029.6 1848.5 1011.3 1849.6 1026.8 1850.7 1018.6 1851.8 1019.5 1852.9 1016.8 1854.0 1021.5 1855.1 1012.1 1856.2 1014.5 1857.3 1014.5 1858.4 1020.5 1859.5 1024.2 1860.6 1023.5 1861.7 1021.9 1862.8 1016.8 1863.9 1010.7 1865.0 1022.5 1866.1 1021.2 1867.2 1023.0 1868.3 1029.7 1869.4 1020.9 1870.5 1021.5 1871.6 1009.7 1872.7 1026.0 1873.8 1023.6 1874.9 1019.8 1876.0 1025.8 1877.1 1017.8 1878.2 1020.0 1879.3 1035.1 1880.4 1032.8 1881.5 1029.5 1882.6 1028.7 1883.7 1028.0 1884.8 1026.0 1885.9 1038.7 1887.0 1026.1 1888.1 1031.4 1889.2 1026.4 1890.3 1026.3 1891.4 1014.1 1892.5 1017.5 1893.6 1036.5 1894.7 1030.6 1895.8 1026.9 1896.9 1029.4 1898.0 1033.0 1899.1 1023.3 1900.2 1038.9 1901.3 1024.7 1902.4 1026.1 1903.5 1015.9 1904.6 1040.0 1905.7 1031.3 1906.8 1039.9 1907.9 1026.3 1909.0 1033.8 1910.1 1032.2 1911.2 1032.9 1912.3 1044.2 1913.4 1044.7 1914.5 1039.6 1915.6 1029.5 1916.7 1037.2 1917.8 1034.3 1918.9 1035.9 1920.0 1036.8 1921.1 1036.4 1922.2 1028.6 1923.3 1035.8 1924.4 1044.2 1925.5 1030.3 1926.6 1036.5 1927.7 1041.4 1928.8 1028.8 1929.9 1035.9 1931.0 1027.3 1932.1 1033.3 1933.2 1028.9 1934.3 1032.2 1935.4 1035.2 1936.5 1036.0 1937.6 1036.5 1938.7 1024.2 1939.8 1046.3 1940.9 1036.0 1942.0 1031.8 1943.1 1034.4 1944.2 1039.2 1945.3 1031.7 1946.4 1040.3 1947.5 1034.7 1948.6 1040.4 1949.7 1033.1 1950.8 1040.4 1951.9 1039.7 1953.0 1037.3 1954.1 1045.5 1955.2 1039.1 1956.3 1033.1 1957.4 1042.4 1958.5 1042.0 1959.6 1041.9 1960.7 1043.8 1961.8 1055.8 1962.9 1044.5 1964.0 1046.5 1965.1 1042.7 1966.2 1051.7 1967.3 1044.6 1968.4 1040.8 1969.5 1039.1 1970.6 1048.2 1971.7 1050.3 1972.8 1037.2 1973.9 1042.0 1975.0 1050.3 1976.1 1052.8 1977.2 1039.3 1978.3 1039.1 1979.4 1050.7 1980.5 1044.6 1981.6 1045.3 1982.7 1045.1 1983.8 1041.0 1984.9 1048.7 1986.0 1050.7 1987.1 1042.1 1988.2 1051.5 1989.3 1056.6 1990.4 1051.5 1991.5 1056.3 1992.6 1048.1 1993.7 1058.9 1994.8 1046.5 1995.9 1060.9 1997.0 1047.1 1998.1 1045.2 1999.2 1044.9 2000.3 1047.6 2001.4 1047.1 2002.5 1045.9 2003.6 1047.6 2004.7 1052.8 2005.8 1053.9 2006.9 1047.5 2008.0 1057.9 2009.1 1044.8 2010.2 1044.3 2011.3 1043.6 2012.4 1053.2 2013.5 1041.5 2014.6 1042.7 2015.7 1057.9 2016.8 1060.3 2017.9 1057.1 2019.0 1041.1 2020.1 1049.5 2021.2 1053.8 2022.3 1049.8 2023.4 1040.0" stroke="#C27AE3"/>
<path d="M50.0 1301.5 51.1 1303.8 52.2 1313.2 53.3 1308.5 54.4 1297.1 55.5 1305.8 56.6 1302.4 57.7 1305.9 58.8 1297.4 59.9 1306.2 61.0 1306.1 62.1 1312.5 63.2 1305.4 64.3 1306.1 65.4 1295.4 66.5 1314.0 67.6 1293.5 68.7 1308.5 69.8 1301.8 70.9 1299.2 72.0 1300.2 73.1 1300.5 74.2 1305.8 75.3 1303.2 76.4 1311.4 77.5 1295.1 78.6 1303.3 79.7 1298.5 80.8 1307.1 81.9 1292.5 83.0 1307.0 84.1 1304.9 85.2 1296.7 86.3 1308.5 87.4 1304.1 88.5 1309.0 89.6 1309.4 90.7 1299.1 91.8 1300.0 92.9 1301.8 94.0 1306.2 95.1 1306.4 96.2 1298.6 97.3 1298.9 98.4 1297.5 99.5 1298.1 100.6 1299.0 101.7 1299.0 102.8 1309.9 103.9 1297.3 105.0 1298.2 106.1 1301.6 107.2 1294.9 108.3 1298.1 109.4 1300.5 110.5 1304.9 111.6 1294.7 112.7 1308.2 113.8 1300.1 114.9 1298.8 116.0 1307.2 117.1 1306.4 118.2 1308.0 119.3 1303.6 120.4 1302.9 121.5 1304.9 122.6 1298.5 123.7 1309.2 124.8 1298.7 125.9 1296.2 127.0 1312.2 128.1 1302.3 129.2 1296.5 130.3 1311.6 131.4 1301.1 132.5 1308.5 133.6 1299.5 134.7 1302.5 135.8 1295.3 136.9 1294.7 138.0 1298.4 139.1 1303.5 140.2 1307.5 141.3 1315.4 142.4 1298.1 143.5 1308.2 144.6 1300.2 145.7 1303.0 146.8 1296.8 147.9 1297.0 149.0 1300.3 150.1 1299.0 151.2 1305.3 152.3 1301.6 153.4 1311.2 154.5 1306.7 155.6 1306.5 156.7 1311.5 157.8 1308.7 158.9 1306.4 160.0 1306.4 161.1 1306.1 162.2 1312.2 163.3 1311.5 164.4 1308.8 165.5 1311.6 166.6 1304.3 167.7 1304.7 168.8 1300.5 169.9 1313.8 171.0 1307.7 172.1 1308.5 173.2 1310.3 174.3 1308.0 175.4 1307.3 176.5 1315.8 177.6 1310.3 178.7 1306.1 179.8 1312.7 180.9 1302.3 182.0 1319.1 183.1 1310.3 184.2 1310.8 185.3 1321.1 186.4 1319.9 187.5 1309.9 188.6 1312.6 189.7 1315.4 190.8 1318.0 191.9 1309.1 193.0 1310.2 194.1 1316.0 195.2 1311.7 196.3 1314.7 197.4 1314.2 198.5 1305.4 199.6 1307.0 200.7 1299.3 201.8 1311.4 202.9 1320.0 204.0 1308.2 205.1 1320.2 206.2 1319.4 207.3 1314.0 208.4 1315.0 209.5 1316.0 210.6 1310.9 211.7 1313.9 212.8 1314.9 213.9 1318.7 215.0 1319.9 216.1 1311.7 217.2 1319.9 218.3 1311.1 219.4 1314.2 220.5 1317.7 221.6 1315.7 222.7 1315.5 223.8 1317.1 224.9 1312.8 226.0 1312.4 227.1 1314.7 228.2 1320.5 229.3 1315.1 230.4 1324.5 231.5 1316.5 232.6 1301.1 233.7 1313.7 234.8 1324.0 235.9 1315.7 237.0 1313.6 238.1 1312.2 239.2 1323.0 240.3 1321.8 241.4 1320.3 242.5 1319.0 243.6 1324.7 244.7 1321.9 245.8 1311.9 246.9 1321.1 248.0 1317.9 249.1 1317.3 250.2 1321.4 251.3 1317.4 252.4 1302.3 253.5 1324.7 254.6 1323.0 255.7 1317.2 256.8 1316.6 257.9 1319.4 259.0 1311.3 260.1 1319.6 261.2 1317.1 262.3 1315.9 263.4 1313.1 264.5 1313.9 265.6 1323.3 266.7 1324.1 267.8 1319.7 268.9 1317.4 270.0 1312.4 271.1 1320.0 272.2 1324.2 273.3 1308.0 274.4 1320.9 275.5 1303.6 276.6 1312.6 277.7 1316.0 278.8 1306.2 279.9 1305.9 281.0 1314.1 282.1 1318.2 283.2 1310.1 284.3 1319.3 285.4 1308.8 286.5 1321.1 287.6 1312.9 288.7 1313.4 289.8 1314.3 290.9 1312.7 292.0 1318.9 293.1 1320.8 294.2 1311.6 295.3 1307.6 296.4 1303.2 297.5 1305.4 298.6 1308.9 299.7 1308.4 300.8 1309.2 301.9 1310.2 303.0 1312.8 304.1 1303.1 305.2 1304.2 306.3 1314.9 307.4 1313.0 308.5 1306.0 309.6 1315.0 310.7 1305.0 311.8 1306.9 312.9 1298.2 314.0 1311.6 315.1 1307.1 316.2 1311.9 317.3 1309.4 318.4 1306.0 319.5 1305.1 320.6 1308.9 321.7 1301.5 322.8 1301.8 323.9 1306.8 325.0 1305.9 326.1 1305.3 327.2 1309.6 328.3 1299.6 329.4 1306.1 330.5 1296.1 331.6 1301.4 332.7 1298.3 333.8 1306.4 334.9 1299.9 336.0 1294.1 337.1 1299.0 338.2 1296.4 339.3 1293.0 340.4 1293.4 341.5 1290.0 342.6 1313.9 343.7 1294.7 344.8 1298.6 345.9 1287.8 347.0 1288.1 348.1 1293.3 349.2 1292.6 350.3 1296.3 351.4 1286.2 352.5 1293.5 353.6 1298.0 354.7 1285.4 355.8 1293.6 356.9 1283.8 358.0 1290.1 359.1 1290.3 360.2 1297.1 361.3 1284.9 362.4 1284.3 363.5 1292.7 364.6 1280.5 365.7 1286.3 366.8 1281.1 367.9 1281.0 369.0 1287.0 370.1 1285.9 371.2 1295.2 372.3 1288.1 373.4 1294.0 374.5 1280.2 375.6 1278.6 376.7 1280.0 377.8 1267.2 378.9 1286.4 380.0 1274.0 381.1 1271.1 382.2 1274.1 383.3 1280.4 384.4 1282.0 385.5 1274.0 386.6 1278.1 387.7 1275.2 388.8 1269.8 389.9 1276.0 391.0 1274.7 392.1 1266.4 393.2 1279.5 394.3 1265.4 395.4 1273.2 396.5 1266.1 397.6 1266.8 398.7 1262.2 399.8 1273.9 400.9 1263.7 402.0 1268.0 403.1 1275.6 404.2 1263.7 405.3 1267.0 406.4 1269.7 407.5 1262.9 408.6 1266.4 409.7 1259.7 410.8 1265.4 411.9 1261.6 413.0 1255.7 414.1 1265.7 415.2 1256.9 416.3 1255.3 417.4 1250.6 418.5 1252.4 419.6 1253.8 420.7 1254.4 421.8 1258.3 422.9 1245.6 424.0 1250.3 425.1 1257.8 426.2 1252.4 427.3 1253.5 428.4 1259.2 429.5 1252.6 430.6 1252.6 431.7 1245.3 432.8 1258.0 433.9 1254.2 435.0 1244.6 436.1 1250.3 437.2 1240.7 438.3 1250.6 439.4 1247.2 440.5 1242.6 441.6 1240.4 442.7 1233.3 443.8 1244.8 444.9 1239.6 446.0 1238.3 447.1 1243.2 448.2 1236.0 449.3 1236.4 450.4 1235.8 451.5 1232.2 452.6 1250.7 453.7 1237.1 454.8 1236.1 455.9 1241.2 457.0 1220.5 458.1 1235.3 459.2 1234.7 460.3 1228.4 461.4 1234.3 462.5 1221.4 463.6 1235.7 464.7 1234.4 465.8 1218.2 466.9 1220.7 468.0 1227.0 469.1 1226.8 470.2 1222.8 471.3 1227.3 472.4 1224.9 473.5 1217.1 474.6 1221.6 475.7 1214.7 476.8 1209.5 477.9 1206.5 479.0 1223.1 480.1 1216.9 481.2 1226.9 482.3 1209.2 483.4 1213.2 484.5 1216.6 485.6 1213.3 486.7 1216.5 487.8 1213.8 488.9 1208.7 490.0 1199.1 491.1 1205.1 492.2 1218.1 493.3 1219.0 494.4 1214.1 495.5 1203.8 496.6 1205.2 497.7 1201.5 498.8 1207.2 499.9 1205.2 501.0 1206.3 502.1 1211.3 503.2 1197.8 504.3 1206.5 505.4 1195.2 506.5 1206.7 507.6 1198.7 508.7 1200.5 509.8 1199.9 510.9 1207.1 512.0 1198.8 513.1 1195.6 514.2 1190.4 515.3 1196.4 516.4 1190.4 517.5 1191.6 518.6 1193.0 519.7 1196.5 520.8 1193.0 521.9 1194.4 523.0 1199.6 524.1 1183.0 525.2 1197.8 526.3 1201.3 527.4 1186.5 528.5 1191.8 529.6 1181.0 530.7 1189.1 531.8 1184.8 532.9 1187.0 534.0 1179.9 535.1 1179.7 536.2 1180.7 537.3 1177.9 538.4 1177.7 539.5 1179.1 540.6 1173.5 541.7 1177.9 542.8 1179.7 543.9 1165.2 545.0 1175.8 546.1 1170.1 547.2 1167.4 548.3 1165.1 549.4 1165.4 550.5 1165.3 551.6 1169.5 552.7 1160.7 553.8 1171.1 554.9 1161.0 556.0 1167.2 557.1 1168.4 558.2 1155.7 559.3 1166.9 560.4 1170.9 561.5 1157.0 562.6 1161.4 563.7 1157.2 564.8 1157.6 565.9 1155.7 567.0 1153.6 568.1 1159.5 569.2 1160.2 570.3 1155.4 571.4 1162.0 572.5 1164.8 573.6 1156.1 574.7 1148.3 575.8 1159.7 576.9 1156.8 578.0 1138.3 579.1 1143.1 580.2 1145.9 581.3 1153.0 582.4 1153.8 583.5 1146.3 584.6 1148.2 585.7 1151.3 586.8 1139.9 587.9 1149.0 589.0 1143.4 590.1 1145.4 591.2 1143.7 592.3 1137.9 593.4 1138.1 594.5 1143.0 595.6 1142.7 596.7 1140.4 597.8 1145.9 598.9 1138.8 600.0 1133.9 601.1 1137.4 602.2 1137.9 603.3 1137.2 604.4 1142.9 605.5 1139.3 606.6 1141.0 607.7 1138.9 608.8 1134.1 609.9 1139.0 611.0 1131.7 612.1 1134.0 613.2 1128.1 614.3 1133.3 615.4 1130.7 616.5 1133.8 617.6 1141.1 618.7 1143.2 619.8 1136.4 620.9 1131.2 622.0 1134.3 623.1 1129.8 624.2 1125.0 625.3 1126.6 626.4 1125.2 627.5 1121.5 628.6 1130.6 629.7 1120.5 630.8 1120.4 631.9 1126.2 633.0 1118.6 634.1 1115.7 635.2 1116.7 636.3 1122.5 637.4 1122.6 638.5 1121.8 639.6 1117.0 640.7 1107.7 641.8 1122.4 642.9 1110.3 644.0 1115.7 645.1 1110.0 646.2 1114.2 647.3 1114.5 648.4 1120.1 649.5 1098.9 650.6 1119.3 651.7 1106.8 652.8 1112.7 653.9 1115.6 655.0 1107.6 656.1 1115.3 657.2 1112.8 658.3 1110.0 659.4 1106.8 660.5 1110.4 661.6 1110.1 662.7 1101.5 663.8 1114.8 664.9 1108.7 666.0 1095.1 667.1 1102.6 668.2 1115.1 669.3 1113.5 670.4 1101.0 671.5 1096.0 672.6 1102.5 673.7 1107.8 674.8 1103.3 675.9 1099.1 677.0 1096.6 678.1 1103.2 679.2 1097.7 680.3 1100.0 681.4 1100.3 682.5 1105.0 683.6 1097.4 684.7 1097.0 685.8 1086.4 686.9 1099.7 688.0 1098.2 689.1 1093.0 690.2 1080.7 691.3 1088.5 692.4 1090.5 693.5 1099.8 694.6 1091.9 695.7 1092.0 696.8 1092.2 697.9 1093.7 699.0 1080.5 700.1 1080.9 701.2 1079.2 702.3 1089.2 703.4 1082.3 704.5 1083.7 705.6 1078.1 706.7 1082.8 707.8 1077.8 708.9 1092.0 710.0 1079.0 711.1 1093.0 712.2 1087.6 713.3 1072.7 714.4 1082.4 715.5 1078.7 716.6 1066.7 717.7 1076.4 718.8 1071.4 719.9 1072.3 721.0 1066.1 722.1 1069.3 723.2 1069.8 724.3 1065.9 725.4 1062.9 726.5 1064.3 727.6 1059.2 728.7 1071.7 729.8 1049.9 730.9 1067.9 732.0 1059.6 733.1 1061.2 734.2 1062.2 735.3 1050.8 736.4 1067.5 737.5 1049.0 738.6 1055.4 739.7 1053.8 740.8 1059.1 741.9 1052.1 743.0 1044.0 744.1 1051.8 745.2 1037.4 746.3 1048.1 747.4 1047.1 748.5 1057.9 749.6 1048.2 750.7 1046.2 751.8 1044.3 752.9 1043.7 754.0 1044.8 755.1 1049.7 756.2 1039.2 757.3 1043.2 758.4 1030.3 759.5 1040.7 760.6 1041.5 761.7 1033.6 762.8 1036.2 763.9 1038.0 765.0 1040.2 766.1 1040.0 767.2 1034.3 768.3 1028.8 769.4 1025.5 770.5 1036.8 771.6 1039.2 772.7 1032.9 773.8 1038.8 774.9 1028.3 776.0 1028.7 777.1 1037.4 778.2 1024.3 779.3 1031.3 780.4 1030.1 781.5 1027.8 782.6 1035.6 783.7 1017.3 784.8 1025.5 785.9 1016.5 787.0 1022.8 788.1 1025.2 789.2 1026.2 790.3 1027.2 791.4 1030.4 792.5 1025.8 793.6 1018.9 794.7 1025.3 795.8 1031.3 796.9 1022.7 798.0 1024.5 799.1 1037.0 800.2 1033.1 801.3 1033.7 802.4 1031.6 803.5 1028.7 804.6 1025.3 805.7 1030.4 806.8 1026.6 807.9 1025.7 809.0 1027.9 810.1 1027.9 811.2 1032.7 812.3 1023.0 813.4 1040.4 814.5 1022.5 815.6 1025.4 816.7 1032.1 817.8 1023.1 818.9 1024.8 820.0 1026.6 821.1 1011.1 822.2 1023.3 823.3 1020.9 824.4 1023.6 825.5 1026.8 826.6 1026.2 827.7 1029.4 828.8 1027.9 829.9 1024.6 831.0 1018.2 832.1 1022.3 833.2 1010.6 834.3 1013.8 835.4 1021.1 836.5 1017.0 837.6 1005.1 838.7 1009.6 839.8 1016.6 840.9 1015.2 842.0 1017.8 843.1 1003.1 844.2 1006.0 845.3 1010.2 846.4 1007.2 847.5 1012.1 848.6 1011.9 849.7 1013.0 850.8 1010.0 851.9 1013.0 853.0 1013.4 854.1 1010.3 855.2 1003.5 856.3 1016.0 857.4 1010.0 858.5 1010.5 859.6 1010.0 860.7 1000.2 861.8 1010.5 862.9 1004.1 864.0 1001.0 865.1 1013.0 866.2 1004.0 867.3 1006.2 868.4 1008.1 869.5 1010.9 870.6 993.5 871.7 998.7 872.8 1004.9 873.9 996.6 875.0 982.2 876.1 998.3 877.2 997.4 878.3 1000.0 879.4 996.0 880.5 990.9 881.6 991.7 882.7 990.0 883.8 987.0 884.9 990.0 886.0 989.9 887.1 982.2 888.2 991.1 889.3 988.8 890.4 988.0 891.5 970.1 892.6 982.8 893.7 980.1 894.8 975.2 895.9 982.5 897.0 971.4 898.1 984.0 899.2 979.0 900.3 973.8 901.4 982.5 902.5 977.8 903.6 976.7 904.7 967.2 905.8 975.6 906.9 980.4 908.0 978.5 909.1 966.2 910.2 979.0 911.3 980.4 912.4 976.1 913.5 970.1 914.6 964.5 915.7 967.5 916.8 968.7 917.9 973.0 919.0 974.4 920.1 968.0 921.2 963.2 922.3 969.7 923.4 964.8 924.5 978.5 925.6 966.0 926.7 974.3 927.8 976.6 928.9 968.1 930.0 978.1 931.1 973.1 932.2 969.3 933.3 969.2 934.4 974.3 935.5 978.6 936.6 964.0 937.7 977.3 938.8 974.4 939.9 973.0 941.0 976.7 942.1 978.2 943.2 978.4 944.3 983.8 945.4 975.9 946.5 990.6 947.6 985.0 948.7 977.1 949.8 969.5 950.9 978.5 952.0 976.2 953.1 983.1 954.2 982.8 955.3 989.6 956.4 980.2 957.5 985.3 958.6 979.2 959.7 980.6 960.8 991.1 961.9 983.1 963.0 982.4 964.1 981.8 965.2 985.9 966.3 986.9 967.4 983.2 968.5 978.8 969.6 986.3 970.7 980.5 971.8 983.3 972.9 986.8 974.0 987.7 975.1 974.5 976.2 995.6 977.3 991.8 978.4 998.0 979.5 1001.5 980.6 984.5 981.7 987.1 982.8 991.5 983.9 995.2 985.0 988.5 986.1 989.8 987.2 997.3 988.3 987.6 989.4 993.5 990.5 998.2 991.6 991.5 992.7 996.6 993.8 991.7 994.9 984.0 996.0 988.8 997.1 990.3 998.2 990.0 999.3 991.6 1000.4 993.8 1001.5 993.6 1002.6 993.4 1003.7 990.5 1004.8 992.0 1005.9 991.9 1007.0 991.1 1008.1 1000.6 1009.2 984.1 1010.3 995.2 1011.4 985.5 1012.5 991.5 1013.6 999.3 1014.7 992.8 1015.8 1002.2 1016.9 989.6 1018.0 993.9 1019.1 991.8 1020.2 994.1 1021.3 992.2 1022.4 991.6 1023.5 993.3 1024.6 999.2 1025.7 994.1 1026.8 994.0 1027.9 991.7 1029.0 990.6 1030.1 987.1 1031.2 989.3 1032.3 994.9 1033.4 985.6 1034.5 998.9 1035.6 992.6 1036.7 990.2 1037.8 992.3 1038.9 998.2 1040.0 998.0 1041.1 997.8 1042.2 1005.2 1043.3 1008.0 1044.4 989.6 1045.5 1000.6 1046.6 993.4 1047.7 990.2 1048.8 994.2 1049.9 1001.5 1051.0 995.4 1052.1 995.1 1053.2 1004.9 1054.3 1001.3 1055.4 999.4 1056.5 1008.6 1057.6 1002.4 1058.7 997.2 1059.8 996.2 1060.9 999.7 1062.0 1003.3 1063.1 1007.1 1064.2 1006.8 1065.3 1003.1 1066.4 996.8 1067.5 1007.6 1068.6 1003.9 1069.7 998.0 1070.8 997.5 1071.9 1004.9 1073.0 1005.8 1074.1 1008.0 1075.2 998.5 1076.3 1014.3 1077.4 995.9 1078.5 1004.1 1079.6 1010.8 1080.7 1009.7 1081.8 999.6 1082.9 1008.5 1084.0 1011.9 1085.1 1009.0 1086.2 1001.2 1087.3 1014.6 1088.4 1003.3 1089.5 1007.6 1090.6 1001.6 1091.7 1005.6 1092.8 1006.4 1093.9 1011.0 1095.0 1002.7 1096.1 1010.7 1097.2 1016.2 1098.3 1010.2 1099.4 1013.9 1100.5 1014.4 1101.6 1008.9 1102.7 1011.3 1103.8 1014.5 1104.9 1017.6 1106.0 1025.6 1107.1 1024.1 1108.2 1014.3 1109.3 1013.7 1110.4 1010.9 1111.5 1004.5 1112.6 1023.2 1113.7 1019.4 1114.8 1006.9 1115.9 1016.6 1117.0 1029.2 1118.1 1019.8 1119.2 1021.3 1120.3 1020.7 1121.4 1015.8 1122.5 1014.0 1123.6 1016.0 1124.7 1021.2 1125.8 1019.8 1126.9 1024.8 1128.0 1025.5 1129.1 1025.4 1130.2 1026.6 1131.3 1021.4 1132.4 1017.0 1133.5 1034.5 1134.6 1028.1 1135.7 1031.1 1136.8 1023.9 1137.9 1017.2 1139.0 1032.7 1140.1 1015.5 1141.2 1025.3 1142.3 1023.7 1143.4 1028.6 1144.5 1031.8 1145.6 1032.4 1146.7 1018.2 1147.8 1034.1 1148.9 1019.9 1150.0 1033.8 1151.1 1028.9 1152.2 1026.3 1153.3 1029.5 1154.4 1026.2 1155.5 1033.2 1156.6 1038.6 1157.7 1038.6 1158.8 1034.6 1159.9 1040.5 1161.0 1038.1 1162.1 1046.6 1163.2 1038.5 1164.3 1033.2 1165.4 1034.7 1166.5 1037.9 1167.6 1035.0 1168.7 1037.2 1169.8 1042.0 1170.9 1043.0 1172.0 1040.1 1173.1 1043.0 1174.2 1037.8 1175.3 1039.8 1176.4 1032.0 1177.5 1040.7 1178.6 1042.5 1179.7 1058.2 1180.8 1039.2 1181.9 1048.2 1183.0 1046.2 1184.1 1040.5 1185.2 1050.5 1186.3 1048.9 1187.4 1042.8 1188.5 1039.1 1189.6 1052.0 1190.7 1046.2 1191.8 1056.3 1192.9 1052.8 1194.0 1057.2 1195.1 1053.8 1196.2 1064.4 1197.3 1060.0 1198.4 1064.9 1199.5 1058.1 1200.6 1052.6 1201.7 1051.4 1202.8 1056.8 1203.9 1061.7 1205.0 1057.8 1206.1 1074.3 1207.2 1062.1 1208.3 1065.2 1209.4 1063.2 1210.5 1063.2 1211.6 1069.5 1212.7 1066.7 1213.8 1068.0 1214.9 1058.7 1216.0 1064.0 1217.1 1064.3 1218.2 1071.2 1219.3 1058.6 1220.4 1069.6 1221.5 1072.3 1222.6 1064.8 1223.7 1063.2 1224.8 1074.9 1225.9 1069.1 1227.0 1074.3 1228.1 1072.9 1229.2 1076.1 1230.3 1069.7 1231.4 1061.1 1232.5 1075.7 1233.6 1070.0 1234.7 1077.3 1235.8 1072.1 1236.9 1083.8 1238.0 1074.9 1239.1 1080.5 1240.2 1082.7 1241.3 1076.0 1242.4 1078.6 1243.5 1077.6 1244.6 1073.3 1245.7 1085.9 1246.8 1073.4 1247.9 1070.1 1249.0 1075.9 1250.1 1078.9 1251.2 1079.1 1252.3 1076.8 1253.4 1076.5 1254.5 1067.9 1255.6 1081.6 1256.7 1087.9 1257.8 1075.9 1258.9 1070.4 1260.0 1084.2 1261.1 1080.1 1262.2 1061.7 1263.3 1078.2 1264.4 1075.1 1265.5 1077.8 1266.6 1094.3 1267.7 1088.7 1268.8 1083.4 1269.9 1084.9 1271.0 1093.5 1272.1 1079.8 1273.2 1090.1 1274.3 1083.2 1275.4 1091.3 1276.5 1088.7 1277.6 1084.9 1278.7 1094.6 1279.8 1093.1 1280.9 1099.9 1282.0 1088.0 1283.1 1091.2 1284.2 1087.6 1285.3 1097.6 1286.4 1088.2 1287.5 1093.0 1288.6 1100.4 1289.7 1096.1 1290.8 1096.1 1291.9 1097.6 1293.0 1098.4 1294.1 1100.5 1295.2 1096.5 1296.3 1088.0 1297.4 1104.9 1298.5 1092.7 1299.6 1108.5 1300.7 1100.9 1301.8 1111.7 1302.9 1106.5 1304.0 1102.5 1305.1 1105.2 1306.2 1093.2 1307.3 1102.2 1308.4 1100.4 1309.5 1101.9 1310.6 1090.8 1311.7 1090.4 1312.8 1104.7 1313.9 1101.9 1315.0 1099.4 1316.1 1102.1 1317.2 1099.0 1318.3 1099.4 1319.4 1106.2 1320.5 1102.0 1321.6 1107.2 1322.7 1100.7 1323.8 1096.1 1324.9 1102.7 1326.0 1105.7 1327.1 1101.5 1328.2 1106.0 1329.3 1106.5 1330.4 1114.6 1331.5 1114.7 1332.6 1116.2 1333.7 1106.4 1334.8 1112.8 1335.9 1118.3 1337.0 1112.5 1338.1 1111.4 1339.2 1107.2 1340.3 1115.0 1341.4 1111.9 1342.5 1116.7 1343.6 1111.2 1344.7 1123.1 1345.8 1112.1 1346.9 1106.4 1348.0 1113.8 1349.1 1115.7 1350.2 1120.7 1351.3 1111.8 1352.4 1112.0 1353.5 1113.2 1354.6 1105.1 1355.7 1103.5 1356.8 1118.5 1357.9 1121.9 1359.0 1111.9 1360.1 1111.1 1361.2 1115.3 1362.3 1112.1 1363.4 1121.1 1364.5 1114.3 1365.6 1120.3 1366.7 1111.0 1367.8 1110.6 1368.9 1110.2 1370.0 1110.7 1371.1 1120.0 1372.2 1122.2 1373.3 1119.5 1374.4 1120.1 1375.5 1108.4 1376.6 1126.1 1377.7 1114.6 1378.8 1123.5 1379.9 1134.6 1381.0 1123.7 1382.1 1126.8 1383.2 1126.8 1384.3 1117.3 1385.4 1118.8 1386.5 1121.5 1387.6 1125.8 1388.7 1129.5 1389.8 1126.1 1390.9 1131.4 1392.0 1123.6 1393.1 1119.1 1394.2 1126.8 1395.3 1126.0 1396.4 1118.8 1397.5 1131.6 1398.6 1122.0 1399.7 1122.8 1400.8 1127.6 1401.9 1120.9 1403.0 1129.3 1404.1 1132.2 1405.2 1127.8 1406.3 1125.9 1407.4 1122.9 1408.5 1120.7 1409.6 1132.0 1410.7 1131.4 1411.8 1128.9 1412.9 1122.6 1414.0 1131.0 1415.1 1133.2 1416.2 1119.9 1417.3 1126.7 1418.4 1133.4 1419.5 1124.7 1420.6 1126.2 1421.7 1131.1 1422.8 1126.7 1423.9 1134.5 1425.0 1127.0 1426.1 1131.5 1427.2 1141.5 1428.3 1135.8 1429.4 1122.6 1430.5 1124.3 1431.6 1125.1 1432.7 1129.9 1433.8 1123.2 1434.9 1133.4 1436.0 1140.1 1437.1 1140.0 1438.2 1128.1 1439.3 1131.0 1440.4 1131.1 1441.5 1128.8 1442.6 1142.2 1443.7 1129.8 1444.8 1128.0 1445.9 1135.2 1447.0 1134.9 1448.1 1141.6 1449.2 1142.3 1450.3 1134.2 1451.4 1124.6 1452.5 1140.0 1453.6 1141.4 1454.7 1146.6 1455.8 1130.4 1456.9 1133.1 1458.0 1147.7 1459.1 1148.6 1460.2 1147.0 1461.3 1141.4 1462.4 1148.9 1463.5 1141.0 1464.6 1138.2 1465.7 1144.9 1466.8 1146.0 1467.9 1150.1 1469.0 1152.2 1470.1 1138.4 1471.2 1149.6 1472.3 1150.6 1473.4 1141.4 1474.5 1147.0 1475.6 1148.8 1476.7 1151.7 1477.8 1145.0 1478.9 1146.4 1480.0 1143.8 1481.1 1150.4 1482.2 1147.1 1483.3 1146.0 1484.4 1152.4 1485.5 1148.6 1486.6 1143.3 1487.7 1155.1 1488.8 1154.0 1489.9 1151.8 1491.0 1145.2 1492.1 1156.6 1493.2 1141.0 1494.3 1141.6 1495.4 1150.6 1496.5 1161.0 1497.6 1149.7 1498.7 1156.2 1499.8 1160.5 1500.9 1154.3 1502.0 1151.8 1503.1 1154.1 1504.2 1158.0 1505.3 1152.9 1506.4 1158.0 1507.5 1160.1 1508.6 1154.9 1509.7 1161.3 1510.8 1161.2 1511.9 1157.6 1513.0 1159.0 1514.1 1161.3 1515.2 1160.5 1516.3 1160.2 1517.4 1156.7 1518.5 1163.5 1519.6 1166.5 1520.7 1166.6 1521.8 1159.6 1522.9 1171.9 1524.0 1167.3 1525.1 1160.1 1526.2 1167.9 1527.3 1164.6 1528.4 1164.1 1529.5 1168.3 1530.6 1165.8 1531.7 1155.8 1532.8 1167.8 1533.9 1161.3 1535.0 1167.5 1536.1 1171.5 1537.2 1167.1 1538.3 1165.5 1539.4 1168.0 1540.5 1169.7 1541.6 1163.4 1542.7 1164.3 1543.8 1170.5 1544.9 1175.7 1546.0 1167.9 1547.1 1172.4 1548.2 1165.4 1549.3 1169.3 1550.4 1170.0 1551.5 1162.8 1552.6 1170.0 1553.7 1170.0 1554.8 1158.1 1555.9 1170.6 1557.0 1173.1 1558.1 1172.5 1559.2 1173.5 1560.3 1166.9 1561.4 1169.6 1562.5 1171.5 1563.6 1167.6 1564.7 1169.7 1565.8 1178.6 1566.9 1168.6 1568.0 1172.1 1569.1 1184.2 1570.2 1175.3 1571.3 1171.0 1572.4 1178.5 1573.5 1179.2 1574.6 1180.1 1575.7 1172.3 1576.8 1182.3 1577.9 1182.8 1579.0 1190.5 1580.1 1184.3 1581.2 1178.5 1582.3 1182.9 1583.4 1185.1 1584.5 1181.1 1585.6 1181.3 1586.7 1189.0 1587.8 1185.8 1588.9 1187.0 1590.0 1180.1 1591.1 1188.1 1592.2 1176.4 1593.3 1191.2 1594.4 1183.8 1595.5 1189.8 1596.6 1193.0 1597.7 1180.8 1598.8 1191.6 1599.9 1186.8 1601.0 1191.3 1602.1 1185.1 1603.2 1184.0 1604.3 1193.2 1605.4 1189.1 1606.5 1188.3 1607.6 1182.6 1608.7 1200.2 1609.8 1187.3 1610.9 1188.4 1612.0 1185.7 1613.1 1190.7 1614.2 1194.5 1615.3 1191.7 1616.4 1191.4 1617.5 1189.2 1618.6 1200.1 1619.7 1201.6 1620.8 1192.6 1621.9 1197.5 1623.0 1196.7 1624.1 1187.0 1625.2 1196.1 1626.3 1196.9 1627.4 1196.6 1628.5 1204.2 1629.6 1205.1 1630.7 1198.6 1631.8 1193.7 1632.9 1200.2 1634.0 1201.4 1635.1 1190.1 1636.2 1192.2 1637.3 1194.5 1638.4 1187.2 1639.5 1189.6 1640.6 1203.2 1641.7 1190.0 1642.8 1200.7 1643.9 1198.6 1645.0 1201.9 1646.1 1198.9 1647.2 1202.2 1648.3 1191.6 1649.4 1200.9 1650.5 1202.1 1651.6 1203.9 1652.7 1203.7 1653.8 1202.5 1654.9 1200.7 1656.0 1201.8 1657.1 1203.6 1658.2 1199.9 1659.3 1199.9 1660.4 1200.0 1661.5 1198.2 1662.6 1208.4 1663.7 1196.3 1664.8 1209.9 1665.9 1207.6 1667.0 1195.9 1668.1 1196.4 1669.2 1206.3 1670.3 1201.4 1671.4 1207.7 1672.5 1212.4 1673.6 1210.0 1674.7 1207.8 1675.8 1208.2 1676.9 1217.1 1678.0 1208.2 1679.1 1219.2 1680.2 1220.3 1681.3 1208.1 1682.4 1211.4 1683.5 1219.2 1684.6 1207.5 1685.7 1213.1 1686.8 1216.4 1687.9 1206.5 1689.0 1212.9 1690.1 1212.0 1691.2 1209.5 1692.3 1220.2 1693.4 1211.6 1694.5 1224.5 1695.6 1217.6 1696.7 1210.7 1697.8 1215.7 1698.9 1210.8 1700.0 1219.5 1701.1 1218.9 1702.2 1209.9 1703.3 1213.7 1704.4 1217.8 1705.5 1215.7 1706.6 1210.7 1707.7 1221.2 1708.8 1223.2 1709.9 1209.3 1711.0 1224.1 1712.1 1207.5 1713.2 1217.3 1714.3 1214.7 1715.4 1215.6 1716.5 1219.5 1717.6 1206.3 1718.7 1218.8 1719.8 1227.7 1720.9 1222.6 1722.0 1228.1 1723.1 1225.9 1724.2 1213.8 1725.3 1231.4 1726.4 1228.1 1727.5 1227.8 1728.6 1223.0 1729.7 1222.9 1730.8 1220.3 1731.9 1224.9 1733.0 1226.8 1734.1 1225.9 1735.2 1225.9 1736.3 1217.2 1737.4 1222.8 1738.5 1222.8 1739.6 1228.0 1740.7 1224.4 1741.8 1225.1 1742.9 1227.6 1744.0 1226.7 1745.1 1228.0 1746.2 1234.7 1747.3 1229.5 1748.4 1226.4 1749.5 1234.8 1750.6 1236.8 1751.7 1236.2 1752.8 1227.8 1753.9 1238.7 1755.0 1234.8 1756.1 1235.9 1757.2 1235.8 1758.3 1237.7 1759.4 1237.9 1760.5 1243.3 1761.6 1237.2 1762.7 1235.6 1763.8 1239.0 1764.9 1235.9 1766.0 1241.6 1767.1 1237.4 1768.2 1241.0 1769.3 1235.4 1770.4 1242.3 1771.5 1241.4 1772.6 1234.5 1773.7 1236.9 1774.8 1239.5 1775.9 1233.8 1777.0 1235.2 1778.1 1242.5 1779.2 1242.1 1780.3 1247.3 1781.4 1234.4 1782.5 1239.1 1783.6 1231.3 1784.7 1249.7 1785.8 1234.3 1786.9 1240.6 1788.0 1252.1 1789.1 1250.7 1790.2 1245.9 1791.3 1254.9 1792.4 1246.4 1793.5 1240.4 1794.6 1247.2 1795.7 1249.7 1796.8 1249.2 1797.9 1236.0 1799.0 1255.3 1800.1 1239.7 1801.2 1245.9 1802.3 1254.3 1803.4 1249.9 1804.5 1247.8 1805.6 1245.6 1806.7 1252.3 1807.8 1256.4 1808.9 1247.7 1810.0 1252.6 1811.1 1250.0 1812.2 1250.0 1813.3 1241.9 1814.4 1254.1 1815.5 1257.1 1816.6 1251.9 1817.7 1258.0 1818.8 1254.2 1819.9 1259.1 1821.0 1253.5 1822.1 1251.7 1823.2 1250.4 1824.3 1253.0 1825.4 1254.0 1826.5 1248.8 1827.6 1252.2 1828.7 1246.3 1829.8 1247.2 1830.9 1257.9 1832.0 1257.0 1833.1 1260.7 1834.2 1258.2 1835.3 1260.1 1836.4 1267.8 1837.5 1255.2 1838.6 1261.3 1839.7 1267.6 1840.8 1269.4 1841.9 1262.5 1843.0 1259.3 1844.1 1254.8 1845.2 1258.9 1846.3 1261.1 1847.4 1260.1 1848.5 1262.9 1849.6 1263.5 1850.7 1258.8 1851.8 1257.0 1852.9 1259.7 1854.0 1263.4 1855.1 1269.4 1856.2 1253.9 1857.3 1268.3 1858.4 1262.3 1859.5 1269.6 1860.6 1274.4 1861.7 1268.0 1862.8 1261.3 1863.9 1265.0 1865.0 1269.2 1866.1 1266.2 1867.2 1266.8 1868.3 1263.7 1869.4 1266.1 1870.5 1264.2 1871.6 1271.7 1872.7 1269.0 1873.8 1271.1 1874.9 1260.2 1876.0 1266.7 1877.1 1266.4 1878.2 1268.1 1879.3 1266.1 1880.4 1267.5 1881.5 1279.3 1882.6 1270.4 1883.7 1266.7 1884.8 1271.7 1885.9 1283.6 1887.0 1276.3 1888.1 1268.5 1889.2 1272.3 1890.3 1272.9 1891.4 1273.4 1892.5 1265.4 1893.6 1269.3 1894.7 1272.2 1895.8 1265.8 1896.9 1273.4 1898.0 1275.8 1899.1 1280.0 1900.2 1282.4 1901.3 1283.2 1902.4 1283.6 1903.5 1281.9 1904.6 1284.7 1905.7 1281.0 1906.8 1277.9 1907.9 1283.9 1909.0 1285.0 1910.1 1281.9 1911.2 1284.4 1912.3 1289.2 1913.4 1279.6 1914.5 1278.9 1915.6 1276.6 1916.7 1283.5 1917.8 1286.9 1918.9 1280.0 1920.0 1290.9 1921.1 1279.6 1922.2 1283.5 1923.3 1281.7 1924.4 1288.6 1925.5 1279.7 1926.6 1290.6 1927.7 1282.0 1928.8 1276.5 1929.9 1280.2 1931.0 1282.6 1932.1 1291.8 1933.2 1281.3 1934.3 1284.2 1935.4 1293.2 1936.5 1283.5 1937.6 1279.6 1938.7 1278.9 1939.8 1274.9 1940.9 1284.2 1942.0 1287.7 1943.1 1280.4 1944.2 1276.8 1945.3 1283.5 1946.4 1283.2 1947.5 1282.7 1948.6 1286.2 1949.7 1284.2 1950.8 1282.2 1951.9 1289.3 1953.0 1275.9 1954.1 1279.6 1955.2 1284.4 1956.3 1278.9 1957.4 1292.8 1958.5 1275.9 1959.6 1290.2 1960.7 1290.2 1961.8 1289.6 1962.9 1290.1 1964.0 1286.0 1965.1 1285.3 1966.2 1295.9 1967.3 1288.7 1968.4 1282.2 1969.5 1283.7 1970.6 1281.5 1971.7 1290.6 1972.8 1294.4 1973.9 1286.8 1975.0 1289.3 1976.1 1286.3 1977.2 1293.4 1978.3 1293.0 1979.4 1293.1 1980.5 1298.3 1981.6 1283.3 1982.7 1293.6 1983.8 1282.9 1984.9 1293.9 1986.0 1298.5 1987.1 1293.1 1988.2 1294.1 1989.3 1290.2 1990.4 1287.3 1991.5 1294.5 1992.6 1287.8 1993.7 1294.0 1994.8 1286.3 1995.9 1293.4 1997.0 1293.6 1998.1 1288.6 1999.2 1290.7 2000.3 1297.5 2001.4 1293.4 2002.5 1296.5 2003.6 1291.4 2004.7 1294.7 2005.8 1287.0 2006.9 1291.0 2008.0 1301.2 2009.1 1297.7 2010.2 1294.9 2011.3 1295.6 2012.4 1289.4 2013.5 1298.1 2014.6 1290.9 2015.7 1293.5 2016.8 1299.9 2017.9 1292.2 2019.0 1294.4 2020.1 1296.5 2021.2 1297.5 2022.3 1302.6 2023.4 1288.4" stroke="#FF3F3F"/>
<path d="M50.0 1546.7 51.1 1543.8 52.2 1550.6 53.3 1559.0 54.4 1558.6 55.5 1552.3 56.6 1547.9 57.7 1546.0 58.8 1555.9 59.9 1560.8 61.0 1551.7 62.1 1541.7 63.2 1543.7 64.3 1559.5 65.4 1550.2 66.5 1537.1 67.6 1547.1 68.7 1540.5 69.8 1544.6 70.9 1545.5 72.0 1544.3 73.1 1552.9 74.2 1549.3 75.3 1546.4 76.4 1553.5 77.5 1556.8 78.6 1541.2 79.7 1549.4 80.8 1544.5 81.9 1549.7 83.0 1541.6 84.1 1549.5 85.2 1549.2 86.3 1546.4 87.4 1542.0 88.5 1545.6 89.6 1541.5 90.7 1540.1 91.8 1550.1 92.9 1542.5 94.0 1557.1 95.1 1553.9 96.2 1537.6 97.3 1551.2 98.4 1542.7 99.5 1549.6 100.6 1549.2 101.7 1535.6 102.8 1545.3 103.9 1545.7 105.0 1552.8 106.1 1538.4 107.2 1550.9 108.3 1539.0 109.4 1543.6 110.5 1540.4 111.6 1555.0 112.7 1549.7 113.8 1560.5 114.9 1549.8 116.0 1551.7 117.1 1551.6 118.2 1542.2 119.3 1544.6 120.4 1553.5 121.5 1542.5 122.6 1545.4 123.7 1544.7 124.8 1548.4 125.9 1541.7 127.0 1542.6 128.1 1545.0 129.2 1544.8 130.3 1538.4 131.4 1549.4 132.5 1536.5 133.6 1536.7 134.7 1536.7 135.8 1550.8 136.9 1542.1 138.0 1537.9 139.1 1536.8 140.2 1546.5 141.3 1537.2 142.4 1535.5 143.5 1547.1 144.6 1535.1 145.7 1541.0 146.8 1543.3 147.9 1540.7 149.0 1542.7 150.1 1551.1 151.2 1539.4 152.3 1534.8 153.4 1531.3 154.5 1541.0 155.6 1539.6 156.7 1542.8 157.8 1538.0 158.9 1538.1 160.0 1537.2 161.1 1538.3 162.2 1542.5 163.3 1539.3 164.4 1542.7 165.5 1560.2 166.6 1546.5 167.7 1534.1 168.8 1555.3 169.9 1546.8 171.0 1538.9 172.1 1550.5 173.2 1545.4 174.3 1541.5 175.4 1541.4 176.5 1539.6 177.6 1546.7 178.7 1552.6 179.8 1543.5 180.9 1549.2 182.0 1558.7 183.1 1539.4 184.2 1549.0 185.3 1545.5 186.4 1540.9 187.5 1540.5 188.6 1548.3 189.7 1552.2 190.8 1545.6 191.9 1550.0 193.0 1554.7 194.1 1552.6 195.2 1556.7 196.3 1554.9 197.4 1555.3 198.5 1563.7 199.6 1555.9 200.7 1553.3 201.8 1557.5 202.9 1546.3 204.0 1549.8 205.1 1556.7 206.2 1555.5 207.3 1562.1 208.4 1552.1 209.5 1542.3 210.6 1563.7 211.7 1557.6 212.8 1544.3 213.9 1559.6 215.0 1551.1 216.1 1539.5 217.2 1547.8 218.3 1547.2 219.4 1560.3 220.5 1545.0 221.6 1548.9 222.7 1549.0 223.8 1548.6 224.9 1545.8 226.0 1552.5 227.1 1557.7 228.2 1555.0 229.3 1545.6 230.4 1543.9 231.5 1551.8 232.6 1546.2 233.7 1546.3 234.8 1539.2 235.9 1562.2 237.0 1557.0 238.1 1544.9 239.2 1556.9 240.3 1561.0 241.4 1537.2 242.5 1549.3 243.6 1550.4 244.7 1557.4 245.8 1552.0 246.9 1550.7 248.0 1552.6 249.1 1565.6 250.2 1567.0 251.3 1550.4 252.4 1548.1 253.5 1570.2 254.6 1547.3 255.7 1551.1 256.8 1554.9 257.9 1557.6 259.0 1560.3 260.1 1556.4 261.2 1548.3 262.3 1557.4 263.4 1556.5 264.5 1566.5 265.6 1554.5 266.7 1546.1 267.8 1547.6 268.9 1563.8 270.0 1551.0 271.1 1541.7 272.2 1550.3 273.3 1553.3 274.4 1560.8 275.5 1546.5 276.6 1556.7 277.7 1557.5 278.8 1547.5 279.9 1550.5 281.0 1562.3 282.1 1562.2 283.2 1557.1 284.3 1553.3 285.4 1558.0 286.5 1550.1 287.6 1550.1 288.7 1545.0 289.8 1549.2 290.9 1548.5 292.0 1565.9 293.1 1546.2 294.2 1556.1 295.3 1555.9 296.4 1545.7 297.5 1553.7 298.6 1532.1 299.7 1547.0 300.8 1550.9 301.9 1529.9 303.0 1538.1 304.1 1551.3 305.2 1542.8 306.3 1536.9 307.4 1541.0 308.5 1539.6 309.6 1547.0 310.7 1545.6 311.8 1540.4 312.9 1537.6 314.0 1540.9 315.1 1549.1 316.2 1543.0 317.3 1544.4 318.4 1538.5 319.5 1531.1 320.6 1534.1 321.7 1542.1 322.8 1537.9 323.9 1531.4 325.0 1526.7 326.1 1537.5 327.2 1535.0 328.3 1534.8 329.4 1534.5 330.5 1532.7 331.6 1537.7 332.7 1548.4 333.8 1541.5 334.9 1543.5 336.0 1540.3 337.1 1532.9 338.2 1534.0 339.3 1537.4 340.4 1531.9 341.5 1537.4 342.6 1539.6 343.7 1526.3 344.8 1519.1 345.9 1537.1 347.0 1527.9 348.1 1532.3 349.2 1519.0 350.3 1538.0 351.4 1531.2 352.5 1526.7 353.6 1525.1 354.7 1527.7 355.8 1525.2 356.9 1524.8 358.0 1518.2 359.1 1532.3 360.2 1523.6 361.3 1523.1 362.4 1521.5 363.5 1505.2 364.6 1522.5 365.7 1516.3 366.8 1515.8 367.9 1517.0 369.0 1509.6 370.1 1520.3 371.2 1509.8 372.3 1507.9 373.4 1507.5 374.5 1512.7 375.6 1515.0 376.7 1504.4 377.8 1494.0 378.9 1512.9 380.0 1497.5 381.1 1510.0 382.2 1500.1 383.3 1494.9 384.4 1494.1 385.5 1499.5 386.6 1501.5 387.7 1492.6 388.8 1499.2 389.9 1504.9 391.0 1490.3 392.1 1483.6 393.2 1482.9 394.3 1480.2 395.4 1484.5 396.5 1482.7 397.6 1478.8 398.7 1489.3 399.8 1469.4 400.9 1476.2 402.0 1497.0 403.1 1490.1 404.2 1486.3 405.3 1485.0 406.4 1492.2 407.5 1483.3 408.6 1479.9 409.7 1470.5 410.8 1476.4 411.9 1470.2 413.0 1470.0 414.1 1468.4 415.2 1471.5 416.3 1469.1 417.4 1476.0 418.5 1461.4 419.6 1467.7 420.7 1480.1 421.8 1468.3 422.9 1473.4 424.0 1472.1 425.1 1472.3 426.2 1468.6 427.3 1454.7 428.4 1460.2 429.5 1458.5 430.6 1450.5 431.7 1456.7 432.8 1451.5 433.9 1447.9 435.0 1458.7 436.1 1456.5 437.2 1451.5 438.3 1449.4 439.4 1451.8 440.5 1451.4 441.6 1450.4 442.7 1451.7 443.8 1448.8 444.9 1452.9 446.0 1451.9 447.1 1449.7 448.2 1441.7 449.3 1441.1 450.4 1446.9 451.5 1442.2 452.6 1442.3 453.7 1426.1 454.8 1424.2 455.9 1442.4 457.0 1440.6 458.1 1446.5 459.2 1441.6 460.3 1437.3 461.4 1434.6 462.5 1425.2 463.6 1438.1 464.7 1427.4 465.8 1433.6 466.9 1431.0 468.0 1430.2 469.1 1433.0 470.2 1423.6 471.3 1423.6 472.4 1418.2 473.5 1420.9 474.6 1432.9 475.7 1419.2 476.8 1428.3 477.9 1425.1 479.0 1423.0 480.1 1422.3 481.2 1409.4 482.3 1417.2 483.4 1423.0 484.5 1407.7 485.6 1410.4 486.7 1405.0 487.8 1410.5 488.9 1401.2 490.0 1416.8 491.1 1403.6 492.2 1395.5 493.3 1415.5 494.4 1408.8 495.5 1406.1 496.6 1405.1 497.7 1398.8 498.8 1398.2 499.9 1403.9 501.0 1404.5 502.1 1403.6 503.2 1398.1 504.3 1393.4 505.4 1393.4 506.5 1400.7 507.6 1401.5 508.7 1388.6 509.8 1386.1 510.9 1395.5 512.0 1390.5 513.1 1389.3 514.2 1375.0 515.3 1378.8 516.4 1376.9 517.5 1380.4 518.6 1367.6 519.7 1385.2 520.8 1377.4 521.9 1377.8 523.0 1367.2 524.1 1373.7 525.2 1382.3 526.3 1362.7 527.4 1373.9 528.5 1375.6 529.6 1366.0 530.7 1375.5 531.8 1367.0 532.9 1375.2 534.0 1369.9 535.1 1366.2 536.2 1376.3 537.3 1367.6 538.4 1369.2 539.5 1351.9 540.6 1353.6 541.7 1362.0 542.8 1362.5 543.9 1355.5 545.0 1360.6 546.1 1347.7 547.2 1353.7 548.3 1337.3 549.4 1353.4 550.5 1348.1 551.6 1345.9 552.7 1348.2 553.8 1358.5 554.9 1339.5 556.0 1342.0 557.1 1352.7 558.2 1342.5 559.3 1355.1 560.4 1343.9 561.5 1343.3 562.6 1344.6 563.7 1356.6 564.8 1344.2 565.9 1342.9 567.0 1340.4 568.1 1328.3 569.2 1331.4 570.3 1345.8 571.4 1340.2 572.5 1337.6 573.6 1338.4 574.7 1329.7 575.8 1333.0 576.9 1324.2 578.0 1331.2 579.1 1323.2 580.2 1319.4 581.3 1328.6 582.4 1322.6 583.5 1327.7 584.6 1325.0 585.7 1324.3 586.8 1329.8 587.9 1311.4 589.0 1309.9 590.1 1322.7 591.2 1323.9 592.3 1329.4 593.4 1319.8 594.5 1319.1 595.6 1307.3 596.7 1316.2 597.8 1314.5 598.9 1303.2 600.0 1302.9 601.1 1306.4 602.2 1307.4 603.3 1285.7 604.4 1304.1 605.5 1303.7 606.6 1299.7 607.7 1301.1 608.8 1300.3 609.9 1290.1 611.0 1297.7 612.1 1292.8 613.2 1288.0 614.3 1294.7 615.4 1301.0 616.5 1281.8 617.6 1280.1 618.7 1279.5 619.8 1301.7 620.9 1287.3 622.0 1288.1 623.1 1282.0 624.2 1280.2 625.3 1272.9 626.4 1285.7 627.5 1285.6 628.6 1270.1 629.7 1275.1 630.8 1275.8 631.9 1279.1 633.0 1281.1 634.1 1285.5 635.2 1286.3 636.3 1283.9 637.4 1284.5 638.5 1268.1 639.6 1270.2 640.7 1280.0 641.8 1274.1 642.9 1271.2 644.0 1251.8 645.1 1257.1 646.2 1272.2 647.3 1269.0 648.4 1264.0 649.5 1262.4 650.6 1253.0 651.7 1264.8 652.8 1266.9 653.9 1270.5 655.0 1259.4 656.1 1256.6 657.2 1250.7 658.3 1264.5 659.4 1266.8 660.5 1250.8 661.6 1256.3 662.7 1254.9 663.8 1249.7 664.9 1236.3 666.0 1248.8 667.1 1253.2 668.2 1239.8 669.3 1243.2 670.4 1227.5 671.5 1255.3 672.6 1249.4 673.7 1246.1 674.8 1242.8 675.9 1239.5 677.0 1242.9 678.1 1240.7 679.2 1240.2 680.3 1240.9 681.4 1240.9 682.5 1249.2 683.6 1229.8 684.7 1240.8 685.8 1235.0 686.9 1230.3 688.0 1221.5 689.1 1239.3 690.2 1233.1 691.3 1229.2 692.4 1236.2 693.5 1225.3 694.6 1231.8 695.7 1230.6 696.8 1235.6 697.9 1236.9 699.0 1225.1 700.1 1236.3 701.2 1229.2 702.3 1230.3 703.4 1227.4 704.5 1232.1 705.6 1218.5 706.7 1226.9 707.8 1230.8 708.9 1220.1 710.0 1233.0 711.1 1215.4 712.2 1220.1 713.3 1215.4 714.4 1214.4 715.5 1210.7 716.6 1213.7 717.7 1215.8 718.8 1210.9 719.9 1220.4 721.0 1222.9 722.1 1202.6 723.2 1216.6 724.3 1211.7 725.4 1211.4 726.5 1224.4 727.6 1216.1 728.7 1209.6 729.8 1208.9 730.9 1193.3 732.0 1211.0 733.1 1199.6 734.2 1204.0 735.3 1202.0 736.4 1206.7 737.5 1212.8 738.6 1205.1 739.7 1205.4 740.8 1195.4 741.9 1199.6 743.0 1201.6 744.1 1187.6 745.2 1209.2 746.3 1191.5 747.4 1186.6 748.5 1204.0 749.6 1206.4 750.7 1187.5 751.8 1187.2 752.9 1209.0 754.0 1189.0 755.1 1174.8 756.2 1182.0 757.3 1198.2 758.4 1189.7 759.5 1189.7 760.6 1192.0 761.7 1187.6 762.8 1181.3 763.9 1173.1 765.0 1185.3 766.1 1175.5 767.2 1181.6 768.3 1185.6 769.4 1183.6 770.5 1180.1 771.6 1180.0 772.7 1183.6 773.8 1184.0 774.9 1169.7 776.0 1178.4 777.1 1188.3 778.2 1181.6 779.3 1172.5 780.4 1173.3 781.5 1164.7 782.6 1172.8 783.7 1187.7 784.8 1176.4 785.9 1171.8 787.0 1173.5 788.1 1176.9 789.2 1176.8 790.3 1175.1 791.4 1171.9 792.5 1180.4 793.6 1186.1 794.7 1173.2 795.8 1173.0 796.9 1183.3 798.0 1166.5 799.1 1171.7 800.2 1173.2 801.3 1176.8 802.4 1174.8 803.5 1171.0 804.6 1178.4 805.7 1168.7 806.8 1165.7 807.9 1164.9 809.0 1182.7 810.1 1166.4 811.2 1180.0 812.3 1180.8 813.4 1182.2 814.5 1176.0 815.6 1173.6 816.7 1176.5 817.8 1171.0 818.9 1166.6 820.0 1182.4 821.1 1168.2 822.2 1184.7 823.3 1175.9 824.4 1169.6 825.5 1175.2 826.6 1180.9 827.7 1163.9 828.8 1165.9 829.9 1165.4 831.0 1172.6 832.1 1173.7 833.2 1171.8 834.3 1166.6 835.4 1168.1 836.5 1177.3 837.6 1177.0 838.7 1170.6 839.8 1160.6 840.9 1172.9 842.0 1169.7 843.1 1168.0 844.2 1177.0 845.3 1171.3 846.4 1160.1 847.5 1160.1 848.6 1174.7 849.7 1167.1 850.8 1170.5 851.9 1164.9 853.0 1165.7 854.1 1166.1 855.2 1173.1 856.3 1164.9 857.4 1154.2 858.5 1158.9 859.6 1156.6 860.7 1160.3 861.8 1164.9 862.9 1170.8 864.0 1160.2 865.1 1154.7 866.2 1157.8 867.3 1157.3 868.4 1153.5 869.5 1155.9 870.6 1155.6 871.7 1147.1 872.8 1156.7 873.9 1150.0 875.0 1145.3 876.1 1153.3 877.2 1146.3 878.3 1159.5 879.4 1150.6 880.5 1146.8 881.6 1140.6 882.7 1141.9 883.8 1148.2 884.9 1138.5 886.0 1146.8 887.1 1126.9 888.2 1140.3 889.3 1143.8 890.4 1140.1 891.5 1137.5 892.6 1143.3 893.7 1130.7 894.8 1128.6 895.9 1134.7 897.0 1141.8 898.1 1136.8 899.2 1132.0 900.3 1135.7 901.4 1135.6 902.5 1125.2 903.6 1115.5 904.7 1126.8 905.8 1123.9 906.9 1128.4 908.0 1123.7 909.1 1125.8 910.2 1132.7 911.3 1130.2 912.4 1128.5 913.5 1138.8 914.6 1125.2 915.7 1125.1 916.8 1136.1 917.9 1120.7 919.0 1116.5 920.1 1134.7 921.2 1129.4 922.3 1131.4 923.4 1131.4 924.5 1132.7 925.6 1124.4 926.7 1126.9 927.8 1120.7 928.9 1129.0 930.0 1130.2 931.1 1125.5 932.2 1132.7 933.3 1146.8 934.4 1120.9 935.5 1133.3 936.6 1134.5 937.7 1135.4 938.8 1123.8 939.9 1136.5 941.0 1133.5 942.1 1128.4 943.2 1127.8 944.3 1131.7 945.4 1136.8 946.5 1136.7 947.6 1146.5 948.7 1131.1 949.8 1137.9 950.9 1131.9 952.0 1140.0 953.1 1137.2 954.2 1133.4 955.3 1128.8 956.4 1133.1 957.5 1139.7 958.6 1147.1 959.7 1143.0 960.8 1131.7 961.9 1136.8 963.0 1140.2 964.1 1139.4 965.2 1141.2 966.3 1146.3 967.4 1143.4 968.5 1138.6 969.6 1131.8 970.7 1141.9 971.8 1134.7 972.9 1144.7 974.0 1148.6 975.1 1138.8 976.2 1146.3 977.3 1146.0 978.4 1160.8 979.5 1152.4 980.6 1138.1 981.7 1153.2 982.8 1154.2 983.9 1151.1 985.0 1150.7 986.1 1157.1 987.2 1158.4 988.3 1157.4 989.4 1148.7 990.5 1153.9 991.6 1146.0 992.7 1146.0 993.8 1152.7 994.9 1150.2 996.0 1155.4 997.1 1173.5 998.2 1160.9 999.3 1152.4 1000.4 1144.8 1001.5 1153.9 1002.6 1151.1 1003.7 1146.3 1004.8 1164.9 1005.9 1158.8 1007.0 1164.4 1008.1 1187.1 1009.2 1165.5 1010.3 1165.3 1011.4 1159.7 1012.5 1162.4 1013.6 1159.0 1014.7 1163.0 1015.8 1171.0 1016.9 1162.5 1018.0 1155.4 1019.1 1155.8 1020.2 1157.4 1021.3 1165.0 1022.4 1167.6 1023.5 1167.7 1024.6 1172.5 1025.7 1163.6 1026.8 1170.5 1027.9 1167.9 1029.0 1171.1 1030.1 1155.0 1031.2 1174.5 1032.3 1157.2 1033.4 1160.5 1034.5 1173.0 1035.6 1165.9 1036.7 1179.8 1037.8 1169.3 1038.9 1161.6 1040.0 1169.5 1041.1 1166.2 1042.2 1179.3 1043.3 1179.9 1044.4 1174.8 1045.5 1168.0 1046.6 1171.1 1047.7 1177.3 1048.8 1166.3 1049.9 1166.8 1051.0 1178.0 1052.1 1177.8 1053.2 1172.5 1054.3 1172.7 1055.4 1162.9 1056.5 1183.8 1057.6 1176.7 1058.7 1169.1 1059.8 1171.4 1060.9 1173.4 1062.0 1190.9 1063.1 1184.4 1064.2 1171.9 1065.3 1192.3 1066.4 1189.9 1067.5 1175.2 1068.6 1166.3 1069.7 1189.3 1070.8 1180.6 1071.9 1183.0 1073.0 1181.4 1074.1 1193.7 1075.2 1195.8 1076.3 1192.1 1077.4 1186.7 1078.5 1189.6 1079.6 1193.3 1080.7 1179.7 1081.8 1198.1 1082.9 1188.9 1084.0 1193.5 1085.1 1194.0 1086.2 1199.8 1087.3 1201.8 1088.4 1209.7 1089.5 1194.6 1090.6 1191.4 1091.7 1198.9 1092.8 1194.6 1093.9 1204.9 1095.0 1194.3 1096.1 1200.7 1097.2 1205.6 1098.3 1206.1 1099.4 1201.3 1100.5 1210.0 1101.6 1210.2 1102.7 1192.3 1103.8 1205.3 1104.9 1204.8 1106.0 1201.9 1107.1 1200.6 1108.2 1206.4 1109.3 1208.8 1110.4 1208.0 1111.5 1215.1 1112.6 1212.9 1113.7 1203.3 1114.8 1202.9 1115.9 1213.7 1117.0 1204.3 1118.1 1210.4 1119.2 1213.6 1120.3 1218.3 1121.4 1216.3 1122.5 1223.0 1123.6 1212.1 1124.7 1220.4 1125.8 1213.2 1126.9 1219.9 1128.0 1218.8 1129.1 1212.5 1130.2 1202.5 1131.3 1225.1 1132.4 1221.8 1133.5 1220.9 1134.6 1216.1 1135.7 1219.2 1136.8 1224.9 1137.9 1224.0 1139.0 1232.2 1140.1 1226.6 1141.2 1221.3 1142.3 1231.3 1143.4 1224.2 1144.5 1229.7 1145.6 1217.1 1146.7 1226.7 1147.8 1232.0 1148.9 1224.3 1150.0 1228.6 1151.1 1233.4 1152.2 1231.4 1153.3 1243.2 1154.4 1231.4 1155.5 1232.9 1156.6 1234.2 1157.7 1224.6 1158.8 1228.4 1159.9 1242.6 1161.0 1238.0 1162.1 1249.6 1163.2 1241.0 1164.3 1241.8 1165.4 1250.8 1166.5 1246.4 1167.6 1255.3 1168.7 1239.3 1169.8 1249.3 1170.9 1251.6 1172.0 1251.8 1173.1 1257.0 1174.2 1256.6 1175.3 1250.7 1176.4 1247.7 1177.5 1258.4 1178.6 1253.5 1179.7 1260.5 1180.8 1263.7 1181.9 1256.9 1183.0 1250.0 1184.1 1255.5 1185.2 1263.4 1186.3 1257.9 1187.4 1267.1 1188.5 1261.1 1189.6 1262.4 1190.7 1258.0 1191.8 1261.9 1192.9 1271.0 1194.0 1262.0 1195.1 1262.2 1196.2 1260.3 1197.3 1271.6 1198.4 1262.6 1199.5 1263.2 1200.6 1274.1 1201.7 1278.0 1202.8 1268.1 1203.9 1276.3 1205.0 1257.9 1206.1 1275.9 1207.2 1273.3 1208.3 1264.9 1209.4 1262.5 1210.5 1271.4 1211.6 1277.2 1212.7 1278.1 1213.8 1276.7 1214.9 1282.3 1216.0 1282.2 1217.1 1270.3 1218.2 1277.1 1219.3 1277.4 1220.4 1287.4 1221.5 1277.8 1222.6 1288.2 1223.7 1283.0 1224.8 1297.6 1225.9 1282.7 1227.0 1283.0 1228.1 1282.1 1229.2 1283.5 1230.3 1298.1 1231.4 1280.6 1232.5 1278.8 1233.6 1284.0 1234.7 1289.8 1235.8 1280.5 1236.9 1292.4 1238.0 1293.4 1239.1 1288.5 1240.2 1289.7 1241.3 1286.8 1242.4 1290.1 1243.5 1287.1 1244.6 1300.9 1245.7 1303.8 1246.8 1291.9 1247.9 1293.9 1249.0 1283.1 1250.1 1291.4 1251.2 1297.3 1252.3 1297.5 1253.4 1297.1 1254.5 1302.7 1255.6 1298.6 1256.7 1296.6 1257.8 1309.1 1258.9 1287.2 1260.0 1292.8 1261.1 1295.8 1262.2 1296.9 1263.3 1297.9 1264.4 1301.7 1265.5 1299.5 1266.6 1303.8 1267.7 1309.4 1268.8 1306.3 1269.9 1307.8 1271.0 1302.5 1272.1 1301.8 1273.2 1307.2 1274.3 1315.6 1275.4 1312.8 1276.5 1323.7 1277.6 1318.2 1278.7 1320.2 1279.8 1308.8 1280.9 1322.2 1282.0 1320.4 1283.1 1329.9 1284.2 1321.0 1285.3 1320.1 1286.4 1317.3 1287.5 1319.6 1288.6 1308.3 1289.7 1317.3 1290.8 1319.7 1291.9 1326.2 1293.0 1315.2 1294.1 1320.7 1295.2 1331.3 1296.3 1321.8 1297.4 1326.3 1298.5 1318.2 1299.6 1321.4 1300.7 1324.4 1301.8 1327.4 1302.9 1319.8 1304.0 1317.2 1305.1 1333.5 1306.2 1325.6 1307.3 1329.3 1308.4 1330.6 1309.5 1329.8 1310.6 1323.8 1311.7 1324.5 1312.8 1316.1 1313.9 1326.3 1315.0 1322.4 1316.1 1325.0 1317.2 1337.8 1318.3 1330.5 1319.4 1326.7 1320.5 1318.2 1321.6 1331.6 1322.7 1336.1 1323.8 1322.5 1324.9 1331.5 1326.0 1326.1 1327.1 1328.2 1328.2 1327.0 1329.3 1320.1 1330.4 1327.5 1331.5 1321.8 1332.6 1341.7 1333.7 1339.9 1334.8 1333.3 1335.9 1336.0 1337.0 1335.8 1338.1 1337.6 1339.2 1338.3 1340.3 1336.7 1341.4 1337.1 1342.5 1330.4 1343.6 1332.9 1344.7 1336.3 1345.8 1341.4 1346.9 1333.2 1348.0 1353.1 1349.1 1340.1 1350.2 1339.0 1351.3 1344.3 1352.4 1348.8 1353.5 1354.6 1354.6 1349.9 1355.7 1340.6 1356.8 1343.2 1357.9 1351.2 1359.0 1346.9 1360.1 1350.9 1361.2 1346.1 1362.3 1356.5 1363.4 1356.2 1364.5 1354.1 1365.6 1348.7 1366.7 1337.9 1367.8 1339.4 1368.9 1350.1 1370.0 1352.7 1371.1 1336.6 1372.2 1345.6 1373.3 1355.9 1374.4 1354.6 1375.5 1345.9 1376.6 1352.7 1377.7 1348.5 1378.8 1346.9 1379.9 1354.7 1381.0 1354.8 1382.1 1343.8 1383.2 1341.1 1384.3 1339.1 1385.4 1337.9 1386.5 1355.5 1387.6 1359.3 1388.7 1355.1 1389.8 1354.4 1390.9 1344.5 1392.0 1349.5 1393.1 1356.2 1394.2 1352.8 1395.3 1351.1 1396.4 1342.1 1397.5 1343.8 1398.6 1351.2 1399.7 1350.7 1400.8 1353.9 1401.9 1350.7 1403.0 1353.7 1404.1 1356.7 1405.2 1360.6 1406.3 1357.7 1407.4 1354.6 1408.5 1356.5 1409.6 1365.2 1410.7 1358.3 1411.8 1353.8 1412.9 1354.0 1414.0 1361.5 1415.1 1363.4 1416.2 1367.7 1417.3 1358.7 1418.4 1369.0 1419.5 1357.9 1420.6 1358.4 1421.7 1356.7 1422.8 1362.7 1423.9 1366.5 1425.0 1359.8 1426.1 1357.0 1427.2 1350.1 1428.3 1360.7 1429.4 1358.4 1430.5 1360.0 1431.6 1358.0 1432.7 1356.8 1433.8 1359.1 1434.9 1365.1 1436.0 1368.2 1437.1 1362.7 1438.2 1365.0 1439.3 1361.4 1440.4 1362.4 1441.5 1355.0 1442.6 1368.7 1443.7 1367.7 1444.8 1372.5 1445.9 1360.4 1447.0 1365.8 1448.1 1359.5 1449.2 1366.9 1450.3 1364.9 1451.4 1369.8 1452.5 1365.2 1453.6 1370.7 1454.7 1364.9 1455.8 1371.9 1456.9 1366.7 1458.0 1366.7 1459.1 1370.5 1460.2 1372.5 1461.3 1362.2 1462.4 1362.0 1463.5 1372.6 1464.6 1371.2 1465.7 1359.0 1466.8 1361.1 1467.9 1365.9 1469.0 1372.3 1470.1 1371.1 1471.2 1376.4 1472.3 1378.1 1473.4 1385.7 1474.5 1362.8 1475.6 1372.4 1476.7 1379.4 1477.8 1366.0 1478.9 1365.5 1480.0 1376.1 1481.1 1381.4 1482.2 1382.0 1483.3 1363.2 1484.4 1366.8 1485.5 1366.5 1486.6 1370.6 1487.7 1376.3 1488.8 1376.3 1489.9 1386.5 1491.0 1375.4 1492.1 1377.6 1493.2 1377.5 1494.3 1383.6 1495.4 1369.8 1496.5 1379.5 1497.6 1372.7 1498.7 1368.3 1499.8 1384.4 1500.9 1381.6 1502.0 1387.8 1503.1 1380.9 1504.2 1384.6 1505.3 1382.8 1506.4 1385.5 1507.5 1379.8 1508.6 1393.4 1509.7 1377.8 1510.8 1393.4 1511.9 1381.5 1513.0 1388.2 1514.1 1383.7 1515.2 1385.7 1516.3 1392.6 1517.4 1384.6 1518.5 1377.6 1519.6 1385.6 1520.7 1388.7 1521.8 1369.8 1522.9 1391.4 1524.0 1392.7 1525.1 1375.4 1526.2 1385.6 1527.3 1391.9 1528.4 1375.6 1529.5 1384.5 1530.6 1384.5 1531.7 1390.3 1532.8 1394.1 1533.9 1386.7 1535.0 1387.2 1536.1 1392.8 1537.2 1391.1 1538.3 1387.4 1539.4 1396.1 1540.5 1380.4 1541.6 1389.9 1542.7 1380.7 1543.8 1386.0 1544.9 1390.6 1546.0 1389.5 1547.1 1404.2 1548.2 1393.1 1549.3 1391.2 1550.4 1399.1 1551.5 1396.0 1552.6 1378.2 1553.7 1391.2 1554.8 1395.6 1555.9 1387.0 1557.0 1392.8 1558.1 1393.8 1559.2 1395.0 1560.3 1382.3 1561.4 1379.8 1562.5 1388.9 1563.6 1393.3 1564.7 1399.9 1565.8 1391.1 1566.9 1388.1 1568.0 1398.2 1569.1 1393.1 1570.2 1405.1 1571.3 1394.1 1572.4 1382.2 1573.5 1390.2 1574.6 1390.2 1575.7 1387.3 1576.8 1391.9 1577.9 1393.8 1579.0 1397.1 1580.1 1396.2 1581.2 1403.3 1582.3 1404.2 1583.4 1403.8 1584.5 1405.0 1585.6 1393.2 1586.7 1395.1 1587.8 1399.7 1588.9 1406.9 1590.0 1396.7 1591.1 1403.4 1592.2 1408.5 1593.3 1419.2 1594.4 1408.9 1595.5 1404.0 1596.6 1415.4 1597.7 1410.8 1598.8 1407.5 1599.9 1416.5 1601.0 1404.1 1602.1 1411.2 1603.2 1411.3 1604.3 1417.0 1605.4 1405.3 1606.5 1404.9 1607.6 1411.1 1608.7 1412.6 1609.8 1415.0 1610.9 1412.8 1612.0 1418.4 1613.1 1421.4 1614.2 1418.8 1615.3 1410.6 1616.4 1424.7 1617.5 1408.2 1618.6 1416.9 1619.7 1424.6 1620.8 1415.5 1621.9 1427.8 1623.0 1431.7 1624.1 1429.0 1625.2 1422.5 1626.3 1425.4 1627.4 1415.7 1628.5 1421.7 1629.6 1421.7 1630.7 1419.5 1631.8 1419.3 1632.9 1416.4 1634.0 1405.4 1635.1 1419.8 1636.2 1419.4 1637.3 1430.4 1638.4 1422.2 1639.5 1417.9 1640.6 1422.6 1641.7 1426.9 1642.8 1416.2 1643.9 1414.0 1645.0 1406.5 1646.1 1416.4 1647.2 1426.0 1648.3 1404.6 1649.4 1416.8 1650.5 1422.0 1651.6 1419.2 1652.7 1421.6 1653.8 1407.5 1654.9 1416.2 1656.0 1423.2 1657.1 1424.1 1658.2 1422.2 1659.3 1415.2 1660.4 1424.5 1661.5 1414.3 1662.6 1415.2 1663.7 1414.2 1664.8 1426.3 1665.9 1419.4 1667.0 1421.7 1668.1 1407.0 1669.2 1428.0 1670.3 1423.9 1671.4 1410.4 1672.5 1412.0 1673.6 1432.6 1674.7 1416.8 1675.8 1435.0 1676.9 1422.0 1678.0 1410.1 1679.1 1432.7 1680.2 1428.4 1681.3 1430.1 1682.4 1422.5 1683.5 1424.4 1684.6 1430.9 1685.7 1420.0 1686.8 1412.3 1687.9 1430.7 1689.0 1415.6 1690.1 1434.8 1691.2 1423.3 1692.3 1423.6 1693.4 1425.6 1694.5 1413.5 1695.6 1435.6 1696.7 1425.0 1697.8 1428.7 1698.9 1439.4 1700.0 1430.5 1701.1 1436.0 1702.2 1433.6 1703.3 1436.6 1704.4 1433.8 1705.5 1440.0 1706.6 1431.3 1707.7 1435.5 1708.8 1428.8 1709.9 1441.5 1711.0 1420.6 1712.1 1435.6 1713.2 1437.0 1714.3 1437.1 1715.4 1434.6 1716.5 1443.7 1717.6 1449.2 1718.7 1432.0 1719.8 1423.7 1720.9 1429.4 1722.0 1431.5 1723.1 1435.8 1724.2 1436.7 1725.3 1445.2 1726.4 1436.7 1727.5 1439.1 1728.6 1440.4 1729.7 1435.0 1730.8 1438.7 1731.9 1458.5 1733.0 1441.0 1734.1 1435.2 1735.2 1426.7 1736.3 1446.4 1737.4 1437.6 1738.5 1436.1 1739.6 1455.5 1740.7 1449.6 1741.8 1429.8 1742.9 1439.2 1744.0 1448.6 1745.1 1448.4 1746.2 1436.5 1747.3 1455.0 1748.4 1454.3 1749.5 1435.8 1750.6 1431.5 1751.7 1434.5 1752.8 1447.1 1753.9 1449.4 1755.0 1443.6 1756.1 1438.4 1757.2 1442.0 1758.3 1446.8 1759.4 1435.1 1760.5 1432.3 1761.6 1441.5 1762.7 1449.3 1763.8 1442.8 1764.9 1443.1 1766.0 1438.0 1767.1 1448.5 1768.2 1432.9 1769.3 1444.0 1770.4 1440.4 1771.5 1444.1 1772.6 1439.8 1773.7 1450.7 1774.8 1446.1 1775.9 1443.2 1777.0 1449.5 1778.1 1445.8 1779.2 1443.6 1780.3 1443.0 1781.4 1451.9 1782.5 1441.2 1783.6 1439.3 1784.7 1445.7 1785.8 1449.5 1786.9 1446.9 1788.0 1462.8 1789.1 1438.6 1790.2 1453.5 1791.3 1449.6 1792.4 1457.0 1793.5 1440.2 1794.6 1459.1 1795.7 1443.5 1796.8 1457.8 1797.9 1456.7 1799.0 1453.2 1800.1 1449.9 1801.2 1449.9 1802.3 1456.3 1803.4 1451.3 1804.5 1443.3 1805.6 1444.1 1806.7 1460.2 1807.8 1460.8 1808.9 1459.8 1810.0 1456.7 1811.1 1459.6 1812.2 1461.4 1813.3 1460.0 1814.4 1454.2 1815.5 1455.0 1816.6 1453.7 1817.7 1462.1 1818.8 1455.1 1819.9 1460.4 1821.0 1469.6 1822.1 1459.3 1823.2 1468.3 1824.3 1468.4 1825.4 1451.8 1826.5 1454.9 1827.6 1467.4 1828.7 1460.6 1829.8 1469.0 1830.9 1470.6 1832.0 1462.5 1833.1 1472.3 1834.2 1477.4 1835.3 1472.8 1836.4 1460.6 1837.5 1465.9 1838.6 1463.3 1839.7 1477.7 1840.8 1467.5 1841.9 1465.3 1843.0 1469.6 1844.1 1473.9 1845.2 1468.6 1846.3 1472.6 1847.4 1472.3 1848.5 1477.3 1849.6 1478.6 1850.7 1474.1 1851.8 1469.9 1852.9 1475.4 1854.0 1467.2 1855.1 1479.2 1856.2 1474.6 1857.3 1474.0 1858.4 1457.2 1859.5 1488.0 1860.6 1482.5 1861.7 1480.8 1862.8 1474.3 1863.9 1477.9 1865.0 1491.3 1866.1 1469.2 1867.2 1478.4 1868.3 1478.0 1869.4 1474.8 1870.5 1476.2 1871.6 1468.5 1872.7 1478.2 1873.8 1466.2 1874.9 1487.6 1876.0 1481.7 1877.1 1471.5 1878.2 1464.6 1879.3 1479.0 1880.4 1482.0 1881.5 1472.8 1882.6 1490.4 1883.7 1482.2 1884.8 1477.3 1885.9 1471.2 1887.0 1479.4 1888.1 1478.3 1889.2 1483.8 1890.3 1487.4 1891.4 1481.4 1892.5 1485.0 1893.6 1491.2 1894.7 1487.0 1895.8 1481.8 1896.9 1487.6 1898.0 1481.7 1899.1 1488.4 1900.2 1485.0 1901.3 1478.2 1902.4 1488.8 1903.5 1485.8 1904.6 1490.1 1905.7 1477.4 1906.8 1493.8 1907.9 1487.0 1909.0 1484.4 1910.1 1486.4 1911.2 1487.9 1912.3 1487.7 1913.4 1493.0 1914.5 1483.1 1915.6 1481.2 1916.7 1486.9 1917.8 1501.0 1918.9 1487.2 1920.0 1483.9 1921.1 1484.8 1922.2 1492.7 1923.3 1499.3 1924.4 1487.8 1925.5 1493.4 1926.6 1494.2 1927.7 1495.2 1928.8 1493.3 1929.9 1499.8 1931.0 1497.1 1932.1 1488.9 1933.2 1508.4 1934.3 1484.1 1935.4 1484.5 1936.5 1499.3 1937.6 1494.4 1938.7 1492.3 1939.8 1494.8 1940.9 1498.5 1942.0 1491.6 1943.1 1490.5 1944.2 1488.6 1945.3 1490.7 1946.4 1491.4 1947.5 1504.1 1948.6 1498.9 1949.7 1501.3 1950.8 1494.5 1951.9 1504.6 1953.0 1488.1 1954.1 1501.4 1955.2 1502.6 1956.3 1494.5 1957.4 1491.9 1958.5 1501.7 1959.6 1493.2 1960.7 1491.9 1961.8 1498.4 1962.9 1491.9 1964.0 1502.6 1965.1 1512.7 1966.2 1497.8 1967.3 1506.8 1968.4 1494.6 1969.5 1502.1 1970.6 1500.1 1971.7 1500.2 1972.8 1506.8 1973.9 1515.6 1975.0 1500.6 1976.1 1509.5 1977.2 1503.8 1978.3 1506.2 1979.4 1499.3 1980.5 1498.1 1981.6 1496.9 1982.7 1498.0 1983.8 1503.0 1984.9 1497.1 1986.0 1503.9 1987.1 1505.3 1988.2 1516.1 1989.3 1515.3 1990.4 1507.7 1991.5 1501.7 1992.6 1509.4 1993.7 1511.2 1994.8 1504.4 1995.9 1500.4 1997.0 1494.2 1998.1 1505.0 1999.2 1517.7 2000.3 1504.3 2001.4 1507.6 2002.5 1507.1 2003.6 1507.8 2004.7 1510.2 2005.8 1493.2 2006.9 1504.8 2008.0 1508.1 2009.1 1505.6 2010.2 1513.5 2011.3 1504.2 2012.4 1512.6 2013.5 1518.3 2014.6 1505.9 2015.7 1507.5 2016.8 1505.3 2017.9 1512.4 2019.0 1494.5 2020.1 1499.1 2021.2 1506.3 2022.3 1513.9 2023.4 1512.0" stroke="#0071E5"/>
</g>
<path d="M1583.2 937 L1586.3 937.5 L1585 939.5 L1585 958.7 L1583.2 958.7 L1583.2 952 L1581.4 951.8 L1581.4 939.5 L1583.2 939 Z" fill="#f00"/>
<g class="lab">
<text x="1816.2" y="475.1">HBS</text>
<text x="1630.2" y="718.0">HBS+Gli</text>
<text x="1610.2" y="940.9">HBS+Glu</text>
<text x="1608.4" y="1175.6">HBS+Alb</text>
<text x="1606.8" y="1398.5">HBS+Glo</text>
</g>
<g class="tk">
<text x="49.80" y="1803.7" text-anchor="middle">4</text>
<text x="269.21" y="1803.7" text-anchor="middle">8</text>
<text x="488.62" y="1803.7" text-anchor="middle">12</text>
<text x="708.03" y="1803.7" text-anchor="middle">16</text>
<text x="927.44" y="1803.7" text-anchor="middle">20</text>
<text x="1146.86" y="1803.7" text-anchor="middle">24</text>
<text x="1366.27" y="1803.7" text-anchor="middle">28</text>
<text x="1585.68" y="1803.7" text-anchor="middle">32</text>
<text x="1805.09" y="1803.7" text-anchor="middle">36</text>
<text x="2024.50" y="1803.7" text-anchor="middle">40</text>
</g>
<text class="ax" x="479.3" y="1956.6">Diffraction angle (2θ°)</text>
</svg>
</body></html>
